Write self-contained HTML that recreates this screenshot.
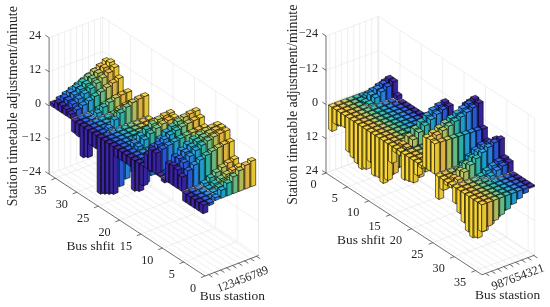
<!DOCTYPE html>
<html><head><meta charset="utf-8"><title>Station timetable adjustment</title>
<style>html,body{margin:0;padding:0;background:#fff;}svg{display:block;}</style></head>
<body>
<svg width="550" height="307" viewBox="0 0 550 307">
<rect width="550" height="307" fill="#fff"/>
<g fill="none">
<line x1="208.69" y1="274.63" x2="52.68" y2="172.72" stroke="#E4E4E4" stroke-width="0.6"/>
<line x1="52.68" y1="172.72" x2="52.68" y2="36.30" stroke="#E4E4E4" stroke-width="0.6"/>
<line x1="214.66" y1="272.34" x2="58.66" y2="170.43" stroke="#E4E4E4" stroke-width="0.6"/>
<line x1="58.66" y1="170.43" x2="58.66" y2="34.01" stroke="#E4E4E4" stroke-width="0.6"/>
<line x1="220.63" y1="270.05" x2="64.63" y2="168.14" stroke="#E4E4E4" stroke-width="0.6"/>
<line x1="64.63" y1="168.14" x2="64.63" y2="31.72" stroke="#E4E4E4" stroke-width="0.6"/>
<line x1="226.61" y1="267.76" x2="70.61" y2="165.85" stroke="#E4E4E4" stroke-width="0.6"/>
<line x1="70.61" y1="165.85" x2="70.61" y2="29.43" stroke="#E4E4E4" stroke-width="0.6"/>
<line x1="232.58" y1="265.47" x2="76.58" y2="163.56" stroke="#E4E4E4" stroke-width="0.6"/>
<line x1="76.58" y1="163.56" x2="76.58" y2="27.14" stroke="#E4E4E4" stroke-width="0.6"/>
<line x1="238.56" y1="263.18" x2="82.56" y2="161.27" stroke="#E4E4E4" stroke-width="0.6"/>
<line x1="82.56" y1="161.27" x2="82.56" y2="24.85" stroke="#E4E4E4" stroke-width="0.6"/>
<line x1="244.53" y1="260.89" x2="88.53" y2="158.98" stroke="#E4E4E4" stroke-width="0.6"/>
<line x1="88.53" y1="158.98" x2="88.53" y2="22.56" stroke="#E4E4E4" stroke-width="0.6"/>
<line x1="250.51" y1="258.60" x2="94.51" y2="156.69" stroke="#E4E4E4" stroke-width="0.6"/>
<line x1="94.51" y1="156.69" x2="94.51" y2="20.27" stroke="#E4E4E4" stroke-width="0.6"/>
<line x1="256.49" y1="256.31" x2="100.48" y2="154.40" stroke="#E4E4E4" stroke-width="0.6"/>
<line x1="100.48" y1="154.40" x2="100.48" y2="17.98" stroke="#E4E4E4" stroke-width="0.6"/>
<line x1="205.10" y1="276.00" x2="258.58" y2="255.50" stroke="#E4E4E4" stroke-width="0.6"/>
<line x1="258.58" y1="255.50" x2="258.58" y2="119.09" stroke="#E4E4E4" stroke-width="0.6"/>
<line x1="183.73" y1="262.04" x2="237.21" y2="241.54" stroke="#E4E4E4" stroke-width="0.6"/>
<line x1="237.21" y1="241.54" x2="237.21" y2="105.13" stroke="#E4E4E4" stroke-width="0.6"/>
<line x1="162.36" y1="248.08" x2="215.84" y2="227.58" stroke="#E4E4E4" stroke-width="0.6"/>
<line x1="215.84" y1="227.58" x2="215.84" y2="91.17" stroke="#E4E4E4" stroke-width="0.6"/>
<line x1="140.99" y1="234.12" x2="194.47" y2="213.62" stroke="#E4E4E4" stroke-width="0.6"/>
<line x1="194.47" y1="213.62" x2="194.47" y2="77.21" stroke="#E4E4E4" stroke-width="0.6"/>
<line x1="119.62" y1="220.16" x2="173.10" y2="199.66" stroke="#E4E4E4" stroke-width="0.6"/>
<line x1="173.10" y1="199.66" x2="173.10" y2="63.25" stroke="#E4E4E4" stroke-width="0.6"/>
<line x1="98.25" y1="206.20" x2="151.73" y2="185.70" stroke="#E4E4E4" stroke-width="0.6"/>
<line x1="151.73" y1="185.70" x2="151.73" y2="49.29" stroke="#E4E4E4" stroke-width="0.6"/>
<line x1="76.88" y1="192.24" x2="130.36" y2="171.74" stroke="#E4E4E4" stroke-width="0.6"/>
<line x1="130.36" y1="171.74" x2="130.36" y2="35.33" stroke="#E4E4E4" stroke-width="0.6"/>
<line x1="55.51" y1="178.28" x2="108.99" y2="157.78" stroke="#E4E4E4" stroke-width="0.6"/>
<line x1="108.99" y1="157.78" x2="108.99" y2="21.37" stroke="#E4E4E4" stroke-width="0.6"/>
<line x1="49.10" y1="174.09" x2="102.58" y2="153.60" stroke="#E4E4E4" stroke-width="0.6"/>
<line x1="258.58" y1="255.50" x2="102.58" y2="153.60" stroke="#E4E4E4" stroke-width="0.6"/>
<line x1="49.10" y1="139.99" x2="102.58" y2="119.49" stroke="#E4E4E4" stroke-width="0.6"/>
<line x1="258.58" y1="221.40" x2="102.58" y2="119.49" stroke="#E4E4E4" stroke-width="0.6"/>
<line x1="49.10" y1="105.88" x2="102.58" y2="85.39" stroke="#E4E4E4" stroke-width="0.6"/>
<line x1="258.58" y1="187.30" x2="102.58" y2="85.39" stroke="#E4E4E4" stroke-width="0.6"/>
<line x1="49.10" y1="71.78" x2="102.58" y2="51.28" stroke="#E4E4E4" stroke-width="0.6"/>
<line x1="258.58" y1="153.19" x2="102.58" y2="51.28" stroke="#E4E4E4" stroke-width="0.6"/>
<line x1="49.10" y1="37.68" x2="102.58" y2="17.18" stroke="#E4E4E4" stroke-width="0.6"/>
<line x1="258.58" y1="119.09" x2="102.58" y2="17.18" stroke="#E4E4E4" stroke-width="0.6"/>
<line x1="102.58" y1="153.60" x2="102.58" y2="17.18" stroke="#E4E4E4" stroke-width="0.6"/>
<line x1="258.58" y1="255.50" x2="258.58" y2="119.09" stroke="#E4E4E4" stroke-width="0.6"/>
</g>
<g stroke="#000" stroke-width="0.7" stroke-opacity="0.8" stroke-linejoin="round">
<polygon points="97.9,64.2 101.3,66.5 101.3,89.2 97.9,87.0" fill="#FAD636"/>
<polygon points="101.3,66.5 106.1,64.6 106.1,87.4 101.3,89.2" fill="#E6C532"/>
<polygon points="101.3,66.5 106.1,64.6 102.7,62.4 97.9,64.2" fill="#FAD842"/>
<polygon points="91.9,68.9 95.3,71.2 95.3,91.5 91.9,89.3" fill="#EEC04A"/>
<polygon points="95.3,71.2 100.1,69.3 100.1,89.7 95.3,91.5" fill="#DBB144"/>
<polygon points="95.3,71.2 100.1,69.3 96.7,67.1 91.9,68.9" fill="#EFC455"/>
<polygon points="85.9,73.6 89.3,75.9 89.3,93.8 85.9,91.5" fill="#BECA60"/>
<polygon points="89.3,75.9 94.1,74.0 94.1,91.9 89.3,93.8" fill="#AFBA58"/>
<polygon points="89.3,75.9 94.1,74.0 90.7,71.8 85.9,73.6" fill="#C2CD6A"/>
<polygon points="80.0,78.3 83.4,80.6 83.4,96.1 80.0,93.8" fill="#72C88A"/>
<polygon points="83.4,80.6 88.2,78.7 88.2,94.2 83.4,96.1" fill="#69B87F"/>
<polygon points="83.4,80.6 88.2,78.7 84.7,76.5 80.0,78.3" fill="#7ACB91"/>
<polygon points="74.0,83.1 77.4,85.3 77.4,98.4 74.0,96.1" fill="#30BDB0"/>
<polygon points="77.4,85.3 82.2,83.5 82.2,96.5 77.4,98.4" fill="#2CAEA2"/>
<polygon points="77.4,85.3 82.2,83.5 78.8,81.2 74.0,83.1" fill="#3CC1B5"/>
<polygon points="68.0,87.8 71.4,90.0 71.4,100.7 68.0,98.4" fill="#22A8DC"/>
<polygon points="71.4,90.0 76.2,88.2 76.2,98.8 71.4,100.7" fill="#1F9BCA"/>
<polygon points="71.4,90.0 76.2,88.2 72.8,85.9 68.0,87.8" fill="#2FADDE"/>
<polygon points="62.0,92.5 65.4,94.7 65.4,102.9 62.0,100.7" fill="#2A8AEA"/>
<polygon points="65.4,94.7 70.2,92.9 70.2,101.1 65.4,102.9" fill="#277FD7"/>
<polygon points="65.4,94.7 70.2,92.9 66.8,90.6 62.0,92.5" fill="#3791EB"/>
<polygon points="56.1,97.2 59.5,99.4 59.5,105.2 56.1,103.0" fill="#2A5CE6"/>
<polygon points="59.5,99.4 64.3,97.6 64.3,103.4 59.5,105.2" fill="#2755D4"/>
<polygon points="59.5,99.4 64.3,97.6 60.8,95.3 56.1,97.2" fill="#3766E8"/>
<polygon points="50.1,101.9 53.5,104.1 53.5,107.5 50.1,105.3" fill="#3B25A6"/>
<polygon points="53.5,104.1 58.3,102.3 58.3,105.7 53.5,107.5" fill="#362299"/>
<polygon points="53.5,104.1 58.3,102.3 54.9,100.0 50.1,101.9" fill="#4732AB"/>
<polygon points="102.2,59.3 105.6,61.6 105.6,92.0 102.2,89.8" fill="#FAD636"/>
<polygon points="105.6,61.6 110.4,59.8 110.4,90.2 105.6,92.0" fill="#E6C532"/>
<polygon points="105.6,61.6 110.4,59.8 106.9,57.5 102.2,59.3" fill="#FAD842"/>
<polygon points="96.2,64.6 99.6,66.8 99.6,94.3 96.2,92.0" fill="#EEC04A"/>
<polygon points="99.6,66.8 104.4,65.0 104.4,92.5 99.6,94.3" fill="#DBB144"/>
<polygon points="99.6,66.8 104.4,65.0 101.0,62.7 96.2,64.6" fill="#EFC455"/>
<polygon points="90.2,69.8 93.6,72.0 93.6,96.6 90.2,94.3" fill="#BECA60"/>
<polygon points="93.6,72.0 98.4,70.2 98.4,94.7 93.6,96.6" fill="#AFBA58"/>
<polygon points="93.6,72.0 98.4,70.2 95.0,67.9 90.2,69.8" fill="#C2CD6A"/>
<polygon points="84.2,75.0 87.6,77.2 87.6,98.9 84.2,96.6" fill="#72C88A"/>
<polygon points="87.6,77.2 92.4,75.4 92.4,97.0 87.6,98.9" fill="#69B87F"/>
<polygon points="87.6,77.2 92.4,75.4 89.0,73.1 84.2,75.0" fill="#7ACB91"/>
<polygon points="78.3,80.2 81.7,82.4 81.7,101.2 78.3,98.9" fill="#30BDB0"/>
<polygon points="81.7,82.4 86.5,80.6 86.5,99.3 81.7,101.2" fill="#2CAEA2"/>
<polygon points="81.7,82.4 86.5,80.6 83.0,78.3 78.3,80.2" fill="#3CC1B5"/>
<polygon points="72.3,85.4 75.7,87.6 75.7,103.4 72.3,101.2" fill="#22A8DC"/>
<polygon points="75.7,87.6 80.5,85.8 80.5,101.6 75.7,103.4" fill="#1F9BCA"/>
<polygon points="75.7,87.6 80.5,85.8 77.1,83.5 72.3,85.4" fill="#2FADDE"/>
<polygon points="66.3,90.6 69.7,92.8 69.7,105.7 66.3,103.5" fill="#2A8AEA"/>
<polygon points="69.7,92.8 74.5,91.0 74.5,103.9 69.7,105.7" fill="#277FD7"/>
<polygon points="69.7,92.8 74.5,91.0 71.1,88.7 66.3,90.6" fill="#3791EB"/>
<polygon points="60.3,95.8 63.7,98.0 63.7,108.0 60.3,105.8" fill="#2A5CE6"/>
<polygon points="63.7,98.0 68.5,96.2 68.5,106.2 63.7,108.0" fill="#2755D4"/>
<polygon points="63.7,98.0 68.5,96.2 65.1,93.9 60.3,95.8" fill="#3766E8"/>
<polygon points="54.4,101.0 57.8,103.2 57.8,110.3 54.4,108.1" fill="#3B25A6"/>
<polygon points="57.8,103.2 62.6,101.4 62.6,108.5 57.8,110.3" fill="#362299"/>
<polygon points="57.8,103.2 62.6,101.4 59.1,99.1 54.4,101.0" fill="#4732AB"/>
<polygon points="106.4,60.4 109.8,62.7 109.8,94.8 106.4,92.6" fill="#FAD636"/>
<polygon points="109.8,62.7 114.6,60.8 114.6,93.0 109.8,94.8" fill="#E6C532"/>
<polygon points="109.8,62.7 114.6,60.8 111.2,58.6 106.4,60.4" fill="#FAD842"/>
<polygon points="100.5,65.9 103.9,68.1 103.9,97.1 100.5,94.8" fill="#EEC04A"/>
<polygon points="103.9,68.1 108.7,66.3 108.7,95.2 103.9,97.1" fill="#DBB144"/>
<polygon points="103.9,68.1 108.7,66.3 105.2,64.0 100.5,65.9" fill="#EFC455"/>
<polygon points="94.5,71.3 97.9,73.5 97.9,99.4 94.5,97.1" fill="#BECA60"/>
<polygon points="97.9,73.5 102.7,71.7 102.7,97.5 97.9,99.4" fill="#AFBA58"/>
<polygon points="97.9,73.5 102.7,71.7 99.3,69.4 94.5,71.3" fill="#C2CD6A"/>
<polygon points="88.5,76.7 91.9,78.9 91.9,101.7 88.5,99.4" fill="#72C88A"/>
<polygon points="91.9,78.9 96.7,77.1 96.7,99.8 91.9,101.7" fill="#69B87F"/>
<polygon points="91.9,78.9 96.7,77.1 93.3,74.9 88.5,76.7" fill="#7ACB91"/>
<polygon points="82.5,82.1 85.9,84.3 85.9,103.9 82.5,101.7" fill="#30BDB0"/>
<polygon points="85.9,84.3 90.7,82.5 90.7,102.1 85.9,103.9" fill="#2CAEA2"/>
<polygon points="85.9,84.3 90.7,82.5 87.3,80.3 82.5,82.1" fill="#3CC1B5"/>
<polygon points="76.6,87.5 80.0,89.8 80.0,106.2 76.6,104.0" fill="#22A8DC"/>
<polygon points="80.0,89.8 84.8,87.9 84.8,104.4 80.0,106.2" fill="#1F9BCA"/>
<polygon points="80.0,89.8 84.8,87.9 81.3,85.7 76.6,87.5" fill="#2FADDE"/>
<polygon points="70.6,92.9 74.0,95.2 74.0,108.5 70.6,106.3" fill="#2A8AEA"/>
<polygon points="74.0,95.2 78.8,93.3 78.8,106.7 74.0,108.5" fill="#277FD7"/>
<polygon points="74.0,95.2 78.8,93.3 75.4,91.1 70.6,92.9" fill="#3791EB"/>
<polygon points="64.6,98.3 68.0,100.6 68.0,110.8 64.6,108.6" fill="#2A5CE6"/>
<polygon points="68.0,100.6 72.8,98.8 72.8,109.0 68.0,110.8" fill="#2755D4"/>
<polygon points="68.0,100.6 72.8,98.8 69.4,96.5 64.6,98.3" fill="#3766E8"/>
<polygon points="58.6,103.8 62.0,106.0 62.0,113.1 58.6,110.9" fill="#3B25A6"/>
<polygon points="62.0,106.0 66.8,104.2 66.8,111.3 62.0,113.1" fill="#362299"/>
<polygon points="62.0,106.0 66.8,104.2 63.4,101.9 58.6,103.8" fill="#4732AB"/>
<polygon points="110.7,65.5 114.1,67.7 114.1,97.6 110.7,95.3" fill="#FAD636"/>
<polygon points="114.1,67.7 118.9,65.9 118.9,95.7 114.1,97.6" fill="#E6C532"/>
<polygon points="114.1,67.7 118.9,65.9 115.5,63.7 110.7,65.5" fill="#FAD842"/>
<polygon points="104.7,70.7 108.1,73.0 108.1,99.9 104.7,97.6" fill="#EEC04A"/>
<polygon points="108.1,73.0 112.9,71.1 112.9,98.0 108.1,99.9" fill="#DBB144"/>
<polygon points="108.1,73.0 112.9,71.1 109.5,68.9 104.7,70.7" fill="#EFC455"/>
<polygon points="98.8,76.0 102.2,78.2 102.2,102.2 98.8,99.9" fill="#BECA60"/>
<polygon points="102.2,78.2 107.0,76.4 107.0,100.3 102.2,102.2" fill="#AFBA58"/>
<polygon points="102.2,78.2 107.0,76.4 103.5,74.1 98.8,76.0" fill="#C2CD6A"/>
<polygon points="92.8,81.2 96.2,83.5 96.2,104.4 92.8,102.2" fill="#72C88A"/>
<polygon points="96.2,83.5 101.0,81.6 101.0,102.6 96.2,104.4" fill="#69B87F"/>
<polygon points="96.2,83.5 101.0,81.6 97.6,79.4 92.8,81.2" fill="#7ACB91"/>
<polygon points="86.8,86.5 90.2,88.7 90.2,106.7 86.8,104.5" fill="#30BDB0"/>
<polygon points="90.2,88.7 95.0,86.9 95.0,104.9 90.2,106.7" fill="#2CAEA2"/>
<polygon points="90.2,88.7 95.0,86.9 91.6,84.6 86.8,86.5" fill="#3CC1B5"/>
<polygon points="80.8,91.7 84.2,93.9 84.2,109.0 80.8,106.8" fill="#22A8DC"/>
<polygon points="84.2,93.9 89.0,92.1 89.0,107.2 84.2,109.0" fill="#1F9BCA"/>
<polygon points="84.2,93.9 89.0,92.1 85.6,89.9 80.8,91.7" fill="#2FADDE"/>
<polygon points="74.9,96.9 78.3,99.2 78.3,111.3 74.9,109.1" fill="#2A8AEA"/>
<polygon points="78.3,99.2 83.1,97.3 83.1,109.5 78.3,111.3" fill="#277FD7"/>
<polygon points="78.3,99.2 83.1,97.3 79.6,95.1 74.9,96.9" fill="#3791EB"/>
<polygon points="68.9,102.2 72.3,104.4 72.3,113.6 68.9,111.4" fill="#2A5CE6"/>
<polygon points="72.3,104.4 77.1,102.6 77.1,111.8 72.3,113.6" fill="#2755D4"/>
<polygon points="72.3,104.4 77.1,102.6 73.7,100.3 68.9,102.2" fill="#3766E8"/>
<polygon points="62.9,107.4 66.3,109.6 66.3,115.9 62.9,113.7" fill="#3B25A6"/>
<polygon points="66.3,109.6 71.1,107.8 71.1,114.1 66.3,115.9" fill="#362299"/>
<polygon points="66.3,109.6 71.1,107.8 67.7,105.6 62.9,107.4" fill="#4732AB"/>
<polygon points="115.0,76.5 118.4,78.8 118.4,100.4 115.0,98.1" fill="#FAD636"/>
<polygon points="118.4,78.8 123.2,76.9 123.2,98.5 118.4,100.4" fill="#E6C532"/>
<polygon points="118.4,78.8 123.2,76.9 119.8,74.7 115.0,76.5" fill="#FAD842"/>
<polygon points="109.0,81.0 112.4,83.2 112.4,102.7 109.0,100.4" fill="#EEC04A"/>
<polygon points="112.4,83.2 117.2,81.4 117.2,100.8 112.4,102.7" fill="#DBB144"/>
<polygon points="112.4,83.2 117.2,81.4 113.8,79.2 109.0,81.0" fill="#EFC455"/>
<polygon points="103.0,85.4 106.4,87.7 106.4,104.9 103.0,102.7" fill="#BECA60"/>
<polygon points="106.4,87.7 111.2,85.9 111.2,103.1 106.4,104.9" fill="#AFBA58"/>
<polygon points="106.4,87.7 111.2,85.9 107.8,83.6 103.0,85.4" fill="#C2CD6A"/>
<polygon points="97.1,89.9 100.5,92.1 100.5,107.2 97.1,105.0" fill="#72C88A"/>
<polygon points="100.5,92.1 105.3,90.3 105.3,105.4 100.5,107.2" fill="#69B87F"/>
<polygon points="100.5,92.1 105.3,90.3 101.8,88.1 97.1,89.9" fill="#7ACB91"/>
<polygon points="91.1,94.4 94.5,96.6 94.5,109.5 91.1,107.3" fill="#30BDB0"/>
<polygon points="94.5,96.6 99.3,94.8 99.3,107.7 94.5,109.5" fill="#2CAEA2"/>
<polygon points="94.5,96.6 99.3,94.8 95.9,92.5 91.1,94.4" fill="#3CC1B5"/>
<polygon points="85.1,98.8 88.5,101.1 88.5,111.8 85.1,109.6" fill="#22A8DC"/>
<polygon points="88.5,101.1 93.3,99.2 93.3,110.0 88.5,111.8" fill="#1F9BCA"/>
<polygon points="88.5,101.1 93.3,99.2 89.9,97.0 85.1,98.8" fill="#2FADDE"/>
<polygon points="79.1,103.3 82.5,105.5 82.5,114.1 79.1,111.9" fill="#2A8AEA"/>
<polygon points="82.5,105.5 87.3,103.7 87.3,112.3 82.5,114.1" fill="#277FD7"/>
<polygon points="82.5,105.5 87.3,103.7 83.9,101.4 79.1,103.3" fill="#3791EB"/>
<polygon points="73.2,107.7 76.6,110.0 76.6,116.4 73.2,114.2" fill="#2A5CE6"/>
<polygon points="76.6,110.0 81.4,108.1 81.4,114.6 76.6,116.4" fill="#2755D4"/>
<polygon points="76.6,110.0 81.4,108.1 77.9,105.9 73.2,107.7" fill="#3766E8"/>
<polygon points="67.2,112.2 70.6,114.4 70.6,118.7 67.2,116.5" fill="#3B25A6"/>
<polygon points="70.6,114.4 75.4,112.6 75.4,116.9 70.6,118.7" fill="#362299"/>
<polygon points="70.6,114.4 75.4,112.6 72.0,110.4 67.2,112.2" fill="#4732AB"/>
<polygon points="119.3,93.5 122.7,95.8 122.7,103.2 119.3,100.9" fill="#FAD636"/>
<polygon points="122.7,95.8 127.4,93.9 127.4,101.3 122.7,103.2" fill="#E6C532"/>
<polygon points="122.7,95.8 127.4,93.9 124.0,91.7 119.3,93.5" fill="#FAD842"/>
<polygon points="113.3,96.0 116.7,98.3 116.7,105.5 113.3,103.2" fill="#EEC04A"/>
<polygon points="116.7,98.3 121.5,96.4 121.5,103.6 116.7,105.5" fill="#DBB144"/>
<polygon points="116.7,98.3 121.5,96.4 118.1,94.2 113.3,96.0" fill="#EFC455"/>
<polygon points="107.3,99.0 110.7,101.3 110.7,107.7 107.3,105.5" fill="#BECA60"/>
<polygon points="110.7,101.3 115.5,99.4 115.5,105.9 110.7,107.7" fill="#AFBA58"/>
<polygon points="110.7,101.3 115.5,99.4 112.1,97.2 107.3,99.0" fill="#C2CD6A"/>
<polygon points="101.3,102.6 104.7,104.9 104.7,110.0 101.3,107.8" fill="#72C88A"/>
<polygon points="104.7,104.9 109.5,103.0 109.5,108.2 104.7,110.0" fill="#69B87F"/>
<polygon points="104.7,104.9 109.5,103.0 106.1,100.8 101.3,102.6" fill="#7ACB91"/>
<polygon points="95.4,106.9 98.8,109.1 98.8,112.3 95.4,110.1" fill="#30BDB0"/>
<polygon points="98.8,109.1 103.5,107.3 103.5,110.5 98.8,112.3" fill="#2CAEA2"/>
<polygon points="98.8,109.1 103.5,107.3 100.1,105.1 95.4,106.9" fill="#3CC1B5"/>
<polygon points="89.4,111.9 92.8,114.1 92.8,114.6 89.4,112.4" fill="#22A8DC"/>
<polygon points="92.8,114.1 97.6,112.3 97.6,112.8 92.8,114.6" fill="#1F9BCA"/>
<polygon points="92.8,114.1 97.6,112.3 94.2,110.0 89.4,111.9" fill="#2FADDE"/>
<polygon points="83.4,114.7 86.8,116.9 86.8,119.8 83.4,117.5" fill="#2A8AEA"/>
<polygon points="86.8,116.9 91.6,115.1 91.6,117.9 86.8,119.8" fill="#277FD7"/>
<polygon points="86.8,116.9 91.6,115.1 88.2,112.8 83.4,114.7" fill="#3791EB"/>
<polygon points="77.4,117.0 80.8,119.2 80.8,126.2 77.4,124.0" fill="#2A5CE6"/>
<polygon points="80.8,119.2 85.6,117.4 85.6,124.4 80.8,126.2" fill="#2755D4"/>
<polygon points="80.8,119.2 85.6,117.4 82.2,115.1 77.4,117.0" fill="#3766E8"/>
<polygon points="71.5,119.2 74.9,121.5 74.9,133.4 71.5,131.2" fill="#3B25A6"/>
<polygon points="74.9,121.5 79.6,119.6 79.6,131.6 74.9,133.4" fill="#362299"/>
<polygon points="74.9,121.5 79.6,119.6 76.2,117.4 71.5,119.2" fill="#4732AB"/>
<polygon points="123.5,90.4 126.9,92.6 126.9,106.0 123.5,103.7" fill="#FAD636"/>
<polygon points="126.9,92.6 131.7,90.8 131.7,104.1 126.9,106.0" fill="#E6C532"/>
<polygon points="126.9,92.6 131.7,90.8 128.3,88.5 123.5,90.4" fill="#FAD842"/>
<polygon points="117.5,92.9 121.0,95.2 121.0,108.2 117.5,106.0" fill="#EEC04A"/>
<polygon points="121.0,95.2 125.7,93.3 125.7,106.4 121.0,108.2" fill="#DBB144"/>
<polygon points="121.0,95.2 125.7,93.3 122.3,91.1 117.5,92.9" fill="#EFC455"/>
<polygon points="111.6,96.2 115.0,98.4 115.0,110.5 111.6,108.3" fill="#BECA60"/>
<polygon points="115.0,98.4 119.8,96.6 119.8,108.7 115.0,110.5" fill="#AFBA58"/>
<polygon points="115.0,98.4 119.8,96.6 116.4,94.3 111.6,96.2" fill="#C2CD6A"/>
<polygon points="105.6,100.3 109.0,102.5 109.0,112.8 105.6,110.6" fill="#72C88A"/>
<polygon points="109.0,102.5 113.8,100.7 113.8,111.0 109.0,112.8" fill="#69B87F"/>
<polygon points="109.0,102.5 113.8,100.7 110.4,98.4 105.6,100.3" fill="#7ACB91"/>
<polygon points="99.6,105.2 103.0,107.4 103.0,115.1 99.6,112.9" fill="#30BDB0"/>
<polygon points="103.0,107.4 107.8,105.6 107.8,113.3 103.0,115.1" fill="#2CAEA2"/>
<polygon points="103.0,107.4 107.8,105.6 104.4,103.4 99.6,105.2" fill="#3CC1B5"/>
<polygon points="93.6,111.1 97.1,113.3 97.1,117.4 93.6,115.2" fill="#22A8DC"/>
<polygon points="97.1,113.3 101.8,111.5 101.8,115.6 97.1,117.4" fill="#1F9BCA"/>
<polygon points="97.1,113.3 101.8,111.5 98.4,109.3 93.6,111.1" fill="#2FADDE"/>
<polygon points="87.7,117.5 91.1,119.7 91.1,120.2 87.7,118.0" fill="#2A8AEA"/>
<polygon points="91.1,119.7 95.9,117.9 95.9,118.4 91.1,120.2" fill="#277FD7"/>
<polygon points="91.1,119.7 95.9,117.9 92.5,115.6 87.7,117.5" fill="#3791EB"/>
<polygon points="81.7,119.7 85.1,122.0 85.1,128.1 81.7,125.9" fill="#2A5CE6"/>
<polygon points="85.1,122.0 89.9,120.1 89.9,126.3 85.1,128.1" fill="#2755D4"/>
<polygon points="85.1,122.0 89.9,120.1 86.5,117.9 81.7,119.7" fill="#3766E8"/>
<polygon points="75.7,122.0 79.1,124.3 79.1,137.1 75.7,134.8" fill="#3B25A6"/>
<polygon points="79.1,124.3 83.9,122.4 83.9,135.2 79.1,137.1" fill="#362299"/>
<polygon points="79.1,124.3 83.9,122.4 80.5,120.2 75.7,122.0" fill="#4732AB"/>
<polygon points="127.8,100.8 131.2,103.1 131.2,108.7 127.8,106.5" fill="#FAD636"/>
<polygon points="131.2,103.1 136.0,101.2 136.0,106.9 131.2,108.7" fill="#E6C532"/>
<polygon points="131.2,103.1 136.0,101.2 132.6,99.0 127.8,100.8" fill="#FAD842"/>
<polygon points="121.8,103.5 125.2,105.7 125.2,111.0 121.8,108.8" fill="#EEC04A"/>
<polygon points="125.2,105.7 130.0,103.9 130.0,109.2 125.2,111.0" fill="#DBB144"/>
<polygon points="125.2,105.7 130.0,103.9 126.6,101.7 121.8,103.5" fill="#EFC455"/>
<polygon points="115.8,107.1 119.3,109.4 119.3,113.3 115.8,111.1" fill="#BECA60"/>
<polygon points="119.3,109.4 124.0,107.5 124.0,111.5 119.3,113.3" fill="#AFBA58"/>
<polygon points="119.3,109.4 124.0,107.5 120.6,105.3 115.8,107.1" fill="#C2CD6A"/>
<polygon points="109.9,111.9 113.3,114.1 113.3,115.6 109.9,113.4" fill="#72C88A"/>
<polygon points="113.3,114.1 118.1,112.3 118.1,113.8 113.3,115.6" fill="#69B87F"/>
<polygon points="113.3,114.1 118.1,112.3 114.7,110.1 109.9,111.9" fill="#7ACB91"/>
<polygon points="103.9,115.7 107.3,117.9 107.3,120.1 103.9,117.9" fill="#30BDB0"/>
<polygon points="107.3,117.9 112.1,116.1 112.1,118.3 107.3,120.1" fill="#2CAEA2"/>
<polygon points="107.3,117.9 112.1,116.1 108.7,113.8 103.9,115.7" fill="#3CC1B5"/>
<polygon points="97.9,118.0 101.3,120.2 101.3,127.4 97.9,125.2" fill="#22A8DC"/>
<polygon points="101.3,120.2 106.1,118.4 106.1,125.6 101.3,127.4" fill="#1F9BCA"/>
<polygon points="101.3,120.2 106.1,118.4 102.7,116.1 97.9,118.0" fill="#2FADDE"/>
<polygon points="91.9,120.3 95.4,122.5 95.4,136.1 91.9,133.9" fill="#2A8AEA"/>
<polygon points="95.4,122.5 100.1,120.7 100.1,134.3 95.4,136.1" fill="#277FD7"/>
<polygon points="95.4,122.5 100.1,120.7 96.7,118.4 91.9,120.3" fill="#3791EB"/>
<polygon points="86.0,122.5 89.4,124.8 89.4,146.2 86.0,144.0" fill="#2A5CE6"/>
<polygon points="89.4,124.8 94.2,122.9 94.2,144.4 89.4,146.2" fill="#2755D4"/>
<polygon points="89.4,124.8 94.2,122.9 90.8,120.7 86.0,122.5" fill="#3766E8"/>
<polygon points="80.0,124.8 83.4,127.1 83.4,157.8 80.0,155.5" fill="#3B25A6"/>
<polygon points="83.4,127.1 88.2,125.2 88.2,155.9 83.4,157.8" fill="#362299"/>
<polygon points="83.4,127.1 88.2,125.2 84.8,123.0 80.0,124.8" fill="#4732AB"/>
<polygon points="132.1,100.5 135.5,102.7 135.5,111.5 132.1,109.3" fill="#FAD636"/>
<polygon points="135.5,102.7 140.3,100.9 140.3,109.7 135.5,111.5" fill="#E6C532"/>
<polygon points="135.5,102.7 140.3,100.9 136.9,98.7 132.1,100.5" fill="#FAD842"/>
<polygon points="126.1,103.2 129.5,105.4 129.5,113.8 126.1,111.6" fill="#EEC04A"/>
<polygon points="129.5,105.4 134.3,103.6 134.3,112.0 129.5,113.8" fill="#DBB144"/>
<polygon points="129.5,105.4 134.3,103.6 130.9,101.3 126.1,103.2" fill="#EFC455"/>
<polygon points="120.1,106.8 123.5,109.0 123.5,116.1 120.1,113.9" fill="#BECA60"/>
<polygon points="123.5,109.0 128.3,107.2 128.3,114.3 123.5,116.1" fill="#AFBA58"/>
<polygon points="123.5,109.0 128.3,107.2 124.9,105.0 120.1,106.8" fill="#C2CD6A"/>
<polygon points="114.1,111.6 117.6,113.8 117.6,118.4 114.1,116.2" fill="#72C88A"/>
<polygon points="117.6,113.8 122.3,112.0 122.3,116.6 117.6,118.4" fill="#69B87F"/>
<polygon points="117.6,113.8 122.3,112.0 118.9,109.8 114.1,111.6" fill="#7ACB91"/>
<polygon points="108.2,117.6 111.6,119.9 111.6,120.7 108.2,118.5" fill="#30BDB0"/>
<polygon points="111.6,119.9 116.4,118.0 116.4,118.9 111.6,120.7" fill="#2CAEA2"/>
<polygon points="111.6,119.9 116.4,118.0 113.0,115.8 108.2,117.6" fill="#3CC1B5"/>
<polygon points="102.2,120.8 105.6,123.0 105.6,127.2 102.2,125.0" fill="#22A8DC"/>
<polygon points="105.6,123.0 110.4,121.2 110.4,125.4 105.6,127.2" fill="#1F9BCA"/>
<polygon points="105.6,123.0 110.4,121.2 107.0,118.9 102.2,120.8" fill="#2FADDE"/>
<polygon points="96.2,123.0 99.6,125.3 99.6,135.9 96.2,133.7" fill="#2A8AEA"/>
<polygon points="99.6,125.3 104.4,123.4 104.4,134.1 99.6,135.9" fill="#277FD7"/>
<polygon points="99.6,125.3 104.4,123.4 101.0,121.2 96.2,123.0" fill="#3791EB"/>
<polygon points="90.2,125.3 93.7,127.6 93.7,146.1 90.2,143.9" fill="#2A5CE6"/>
<polygon points="93.7,127.6 98.4,125.7 98.4,144.3 93.7,146.1" fill="#2755D4"/>
<polygon points="93.7,127.6 98.4,125.7 95.0,123.5 90.2,125.3" fill="#3766E8"/>
<polygon points="84.3,127.6 87.7,129.9 87.7,157.7 84.3,155.5" fill="#3B25A6"/>
<polygon points="87.7,129.9 92.5,128.0 92.5,155.9 87.7,157.7" fill="#362299"/>
<polygon points="87.7,129.9 92.5,128.0 89.1,125.8 84.3,127.6" fill="#4732AB"/>
<polygon points="136.3,106.4 139.8,108.6 139.8,114.3 136.3,112.1" fill="#FAD636"/>
<polygon points="139.8,108.6 144.5,106.8 144.5,112.5 139.8,114.3" fill="#E6C532"/>
<polygon points="139.8,108.6 144.5,106.8 141.1,104.6 136.3,106.4" fill="#FAD842"/>
<polygon points="130.4,108.9 133.8,111.1 133.8,116.6 130.4,114.4" fill="#EEC04A"/>
<polygon points="133.8,111.1 138.6,109.3 138.6,114.8 133.8,116.6" fill="#DBB144"/>
<polygon points="133.8,111.1 138.6,109.3 135.2,107.1 130.4,108.9" fill="#EFC455"/>
<polygon points="124.4,111.9 127.8,114.1 127.8,118.9 124.4,116.7" fill="#BECA60"/>
<polygon points="127.8,114.1 132.6,112.3 132.6,117.1 127.8,118.9" fill="#AFBA58"/>
<polygon points="127.8,114.1 132.6,112.3 129.2,110.1 124.4,111.9" fill="#C2CD6A"/>
<polygon points="118.4,115.5 121.8,117.7 121.8,121.2 118.4,119.0" fill="#72C88A"/>
<polygon points="121.8,117.7 126.6,115.9 126.6,119.4 121.8,121.2" fill="#69B87F"/>
<polygon points="121.8,117.7 126.6,115.9 123.2,113.6 118.4,115.5" fill="#7ACB91"/>
<polygon points="112.4,119.7 115.9,121.9 115.9,123.5 112.4,121.3" fill="#30BDB0"/>
<polygon points="115.9,121.9 120.6,120.1 120.6,121.7 115.9,123.5" fill="#2CAEA2"/>
<polygon points="115.9,121.9 120.6,120.1 117.2,117.9 112.4,119.7" fill="#3CC1B5"/>
<polygon points="106.5,123.5 109.9,125.8 109.9,126.9 106.5,124.6" fill="#22A8DC"/>
<polygon points="109.9,125.8 114.7,123.9 114.7,125.0 109.9,126.9" fill="#1F9BCA"/>
<polygon points="109.9,125.8 114.7,123.9 111.3,121.7 106.5,123.5" fill="#2FADDE"/>
<polygon points="100.5,125.8 103.9,128.1 103.9,132.5 100.5,130.3" fill="#2A8AEA"/>
<polygon points="103.9,128.1 108.7,126.2 108.7,130.7 103.9,132.5" fill="#277FD7"/>
<polygon points="103.9,128.1 108.7,126.2 105.3,124.0 100.5,125.8" fill="#3791EB"/>
<polygon points="94.5,128.1 97.9,130.4 97.9,138.9 94.5,136.6" fill="#2A5CE6"/>
<polygon points="97.9,130.4 102.7,128.5 102.7,137.0 97.9,138.9" fill="#2755D4"/>
<polygon points="97.9,130.4 102.7,128.5 99.3,126.3 94.5,128.1" fill="#3766E8"/>
<polygon points="88.5,130.4 92.0,132.6 92.0,146.0 88.5,143.8" fill="#3B25A6"/>
<polygon points="92.0,132.6 96.7,130.8 96.7,144.2 92.0,146.0" fill="#362299"/>
<polygon points="92.0,132.6 96.7,130.8 93.3,128.6 88.5,130.4" fill="#4732AB"/>
<polygon points="140.6,94.4 144.0,96.7 144.0,117.1 140.6,114.9" fill="#FAD636"/>
<polygon points="144.0,96.7 148.8,94.8 148.8,115.3 144.0,117.1" fill="#E6C532"/>
<polygon points="144.0,96.7 148.8,94.8 145.4,92.6 140.6,94.4" fill="#FAD842"/>
<polygon points="134.6,97.1 138.1,99.3 138.1,119.4 134.6,117.2" fill="#EEC04A"/>
<polygon points="138.1,99.3 142.8,97.5 142.8,117.6 138.1,119.4" fill="#DBB144"/>
<polygon points="138.1,99.3 142.8,97.5 139.4,95.2 134.6,97.1" fill="#EFC455"/>
<polygon points="128.7,100.6 132.1,102.8 132.1,121.7 128.7,119.5" fill="#BECA60"/>
<polygon points="132.1,102.8 136.9,101.0 136.9,119.9 132.1,121.7" fill="#AFBA58"/>
<polygon points="132.1,102.8 136.9,101.0 133.5,98.8 128.7,100.6" fill="#C2CD6A"/>
<polygon points="122.7,105.2 126.1,107.4 126.1,124.0 122.7,121.8" fill="#72C88A"/>
<polygon points="126.1,107.4 130.9,105.6 130.9,122.2 126.1,124.0" fill="#69B87F"/>
<polygon points="126.1,107.4 130.9,105.6 127.5,103.4 122.7,105.2" fill="#7ACB91"/>
<polygon points="116.7,110.9 120.1,113.2 120.1,126.3 116.7,124.0" fill="#30BDB0"/>
<polygon points="120.1,113.2 124.9,111.3 124.9,124.4 120.1,126.3" fill="#2CAEA2"/>
<polygon points="120.1,113.2 124.9,111.3 121.5,109.1 116.7,110.9" fill="#3CC1B5"/>
<polygon points="110.7,117.9 114.2,120.1 114.2,128.6 110.7,126.3" fill="#22A8DC"/>
<polygon points="114.2,120.1 118.9,118.3 118.9,126.7 114.2,128.6" fill="#1F9BCA"/>
<polygon points="114.2,120.1 118.9,118.3 115.5,116.1 110.7,117.9" fill="#2FADDE"/>
<polygon points="104.8,126.1 108.2,128.4 108.2,130.9 104.8,128.6" fill="#2A8AEA"/>
<polygon points="108.2,128.4 113.0,126.5 113.0,129.0 108.2,130.9" fill="#277FD7"/>
<polygon points="108.2,128.4 113.0,126.5 109.6,124.3 104.8,126.1" fill="#3791EB"/>
<polygon points="98.8,130.9 102.2,133.2 102.2,137.9 98.8,135.7" fill="#2A5CE6"/>
<polygon points="102.2,133.2 107.0,131.3 107.0,136.1 102.2,137.9" fill="#2755D4"/>
<polygon points="102.2,133.2 107.0,131.3 103.6,129.1 98.8,130.9" fill="#3766E8"/>
<polygon points="92.8,133.2 96.2,135.4 96.2,148.8 92.8,146.6" fill="#3B25A6"/>
<polygon points="96.2,135.4 101.0,133.6 101.0,147.0 96.2,148.8" fill="#362299"/>
<polygon points="96.2,135.4 101.0,133.6 97.6,131.4 92.8,133.2" fill="#4732AB"/>
<polygon points="144.9,117.7 148.3,119.9 148.3,125.6 144.9,123.4" fill="#FAD636"/>
<polygon points="148.3,119.9 153.1,118.1 153.1,123.8 148.3,125.6" fill="#E6C532"/>
<polygon points="148.3,119.9 153.1,118.1 149.7,115.8 144.9,117.7" fill="#FAD842"/>
<polygon points="138.9,120.0 142.3,122.2 142.3,134.2 138.9,131.9" fill="#EEC04A"/>
<polygon points="142.3,122.2 147.1,120.4 147.1,132.3 142.3,134.2" fill="#DBB144"/>
<polygon points="142.3,122.2 147.1,120.4 143.7,118.1 138.9,120.0" fill="#EFC455"/>
<polygon points="132.9,122.3 136.4,124.5 136.4,142.8 132.9,140.5" fill="#BECA60"/>
<polygon points="136.4,124.5 141.1,122.7 141.1,140.9 136.4,142.8" fill="#AFBA58"/>
<polygon points="136.4,124.5 141.1,122.7 137.7,120.4 132.9,122.3" fill="#C2CD6A"/>
<polygon points="127.0,124.5 130.4,126.8 130.4,151.3 127.0,149.1" fill="#72C88A"/>
<polygon points="130.4,126.8 135.2,125.0 135.2,149.5 130.4,151.3" fill="#69B87F"/>
<polygon points="130.4,126.8 135.2,125.0 131.7,122.7 127.0,124.5" fill="#7ACB91"/>
<polygon points="121.0,126.8 124.4,129.1 124.4,159.9 121.0,157.7" fill="#30BDB0"/>
<polygon points="124.4,129.1 129.2,127.2 129.2,158.1 124.4,159.9" fill="#2CAEA2"/>
<polygon points="124.4,129.1 129.2,127.2 125.8,125.0 121.0,126.8" fill="#3CC1B5"/>
<polygon points="115.0,129.1 118.4,131.4 118.4,168.5 115.0,166.3" fill="#22A8DC"/>
<polygon points="118.4,131.4 123.2,129.5 123.2,166.7 118.4,168.5" fill="#1F9BCA"/>
<polygon points="118.4,131.4 123.2,129.5 119.8,127.3 115.0,129.1" fill="#2FADDE"/>
<polygon points="109.0,131.4 112.5,133.7 112.5,177.1 109.0,174.8" fill="#2A8AEA"/>
<polygon points="112.5,133.7 117.2,131.8 117.2,175.2 112.5,177.1" fill="#277FD7"/>
<polygon points="112.5,133.7 117.2,131.8 113.8,129.6 109.0,131.4" fill="#3791EB"/>
<polygon points="103.1,133.7 106.5,135.9 106.5,185.6 103.1,183.4" fill="#2A5CE6"/>
<polygon points="106.5,135.9 111.3,134.1 111.3,183.8 106.5,185.6" fill="#2755D4"/>
<polygon points="106.5,135.9 111.3,134.1 107.8,131.9 103.1,133.7" fill="#3766E8"/>
<polygon points="97.1,136.0 100.5,138.2 100.5,194.2 97.1,192.0" fill="#3B25A6"/>
<polygon points="100.5,138.2 105.3,136.4 105.3,192.4 100.5,194.2" fill="#362299"/>
<polygon points="100.5,138.2 105.3,136.4 101.9,134.2 97.1,136.0" fill="#4732AB"/>
<polygon points="149.2,120.5 152.6,122.7 152.6,128.4 149.2,126.2" fill="#FAD636"/>
<polygon points="152.6,122.7 157.4,120.9 157.4,126.6 152.6,128.4" fill="#E6C532"/>
<polygon points="152.6,122.7 157.4,120.9 153.9,118.6 149.2,120.5" fill="#FAD842"/>
<polygon points="143.2,122.8 146.6,125.0 146.6,136.6 143.2,134.4" fill="#EEC04A"/>
<polygon points="146.6,125.0 151.4,123.2 151.4,134.8 146.6,136.6" fill="#DBB144"/>
<polygon points="146.6,125.0 151.4,123.2 148.0,120.9 143.2,122.8" fill="#EFC455"/>
<polygon points="137.2,125.1 140.6,127.3 140.6,144.8 137.2,142.6" fill="#BECA60"/>
<polygon points="140.6,127.3 145.4,125.5 145.4,143.0 140.6,144.8" fill="#AFBA58"/>
<polygon points="140.6,127.3 145.4,125.5 142.0,123.2 137.2,125.1" fill="#C2CD6A"/>
<polygon points="131.2,127.3 134.7,129.6 134.7,153.1 131.2,150.8" fill="#72C88A"/>
<polygon points="134.7,129.6 139.4,127.7 139.4,151.2 134.7,153.1" fill="#69B87F"/>
<polygon points="134.7,129.6 139.4,127.7 136.0,125.5 131.2,127.3" fill="#7ACB91"/>
<polygon points="125.3,129.6 128.7,131.9 128.7,161.3 125.3,159.0" fill="#30BDB0"/>
<polygon points="128.7,131.9 133.5,130.0 133.5,159.4 128.7,161.3" fill="#2CAEA2"/>
<polygon points="128.7,131.9 133.5,130.0 130.0,127.8 125.3,129.6" fill="#3CC1B5"/>
<polygon points="119.3,131.9 122.7,134.2 122.7,169.5 119.3,167.3" fill="#22A8DC"/>
<polygon points="122.7,134.2 127.5,132.3 127.5,167.7 122.7,169.5" fill="#1F9BCA"/>
<polygon points="122.7,134.2 127.5,132.3 124.1,130.1 119.3,131.9" fill="#2FADDE"/>
<polygon points="113.3,134.2 116.7,136.4 116.7,177.7 113.3,175.5" fill="#2A8AEA"/>
<polygon points="116.7,136.4 121.5,134.6 121.5,175.9 116.7,177.7" fill="#277FD7"/>
<polygon points="116.7,136.4 121.5,134.6 118.1,132.4 113.3,134.2" fill="#3791EB"/>
<polygon points="107.3,136.5 110.8,138.7 110.8,185.9 107.3,183.7" fill="#2A5CE6"/>
<polygon points="110.8,138.7 115.5,136.9 115.5,184.1 110.8,185.9" fill="#2755D4"/>
<polygon points="110.8,138.7 115.5,136.9 112.1,134.7 107.3,136.5" fill="#3766E8"/>
<polygon points="101.4,138.8 104.8,141.0 104.8,194.2 101.4,191.9" fill="#3B25A6"/>
<polygon points="104.8,141.0 109.6,139.2 109.6,192.3 104.8,194.2" fill="#362299"/>
<polygon points="104.8,141.0 109.6,139.2 106.1,137.0 101.4,138.8" fill="#4732AB"/>
<polygon points="153.4,123.3 156.9,125.5 156.9,131.2 153.4,128.9" fill="#FAD636"/>
<polygon points="156.9,125.5 161.6,123.7 161.6,129.3 156.9,131.2" fill="#E6C532"/>
<polygon points="156.9,125.5 161.6,123.7 158.2,121.4 153.4,123.3" fill="#FAD842"/>
<polygon points="147.5,125.6 150.9,127.8 150.9,139.1 147.5,136.8" fill="#EEC04A"/>
<polygon points="150.9,127.8 155.7,126.0 155.7,137.3 150.9,139.1" fill="#DBB144"/>
<polygon points="150.9,127.8 155.7,126.0 152.2,123.7 147.5,125.6" fill="#EFC455"/>
<polygon points="141.5,127.8 144.9,130.1 144.9,147.0 141.5,144.8" fill="#BECA60"/>
<polygon points="144.9,130.1 149.7,128.2 149.7,145.2 144.9,147.0" fill="#AFBA58"/>
<polygon points="144.9,130.1 149.7,128.2 146.3,126.0 141.5,127.8" fill="#C2CD6A"/>
<polygon points="135.5,130.1 138.9,132.4 138.9,154.9 135.5,152.7" fill="#72C88A"/>
<polygon points="138.9,132.4 143.7,130.5 143.7,153.1 138.9,154.9" fill="#69B87F"/>
<polygon points="138.9,132.4 143.7,130.5 140.3,128.3 135.5,130.1" fill="#7ACB91"/>
<polygon points="129.5,132.4 133.0,134.7 133.0,162.8 129.5,160.6" fill="#30BDB0"/>
<polygon points="133.0,134.7 137.7,132.8 137.7,161.0 133.0,162.8" fill="#2CAEA2"/>
<polygon points="133.0,134.7 137.7,132.8 134.3,130.6 129.5,132.4" fill="#3CC1B5"/>
<polygon points="123.6,134.7 127.0,136.9 127.0,170.7 123.6,168.5" fill="#22A8DC"/>
<polygon points="127.0,136.9 131.8,135.1 131.8,168.9 127.0,170.7" fill="#1F9BCA"/>
<polygon points="127.0,136.9 131.8,135.1 128.3,132.9 123.6,134.7" fill="#2FADDE"/>
<polygon points="117.6,137.0 121.0,139.2 121.0,178.6 117.6,176.4" fill="#2A8AEA"/>
<polygon points="121.0,139.2 125.8,137.4 125.8,176.8 121.0,178.6" fill="#277FD7"/>
<polygon points="121.0,139.2 125.8,137.4 122.4,135.2 117.6,137.0" fill="#3791EB"/>
<polygon points="111.6,139.3 115.0,141.5 115.0,186.5 111.6,184.3" fill="#2A5CE6"/>
<polygon points="115.0,141.5 119.8,139.7 119.8,184.7 115.0,186.5" fill="#2755D4"/>
<polygon points="115.0,141.5 119.8,139.7 116.4,137.5 111.6,139.3" fill="#3766E8"/>
<polygon points="105.6,141.6 109.1,143.8 109.1,194.4 105.6,192.2" fill="#3B25A6"/>
<polygon points="109.1,143.8 113.8,142.0 113.8,192.6 109.1,194.4" fill="#362299"/>
<polygon points="109.1,143.8 113.8,142.0 110.4,139.8 105.6,141.6" fill="#4732AB"/>
<polygon points="157.7,126.1 161.1,128.3 161.1,134.0 157.7,131.7" fill="#FAD636"/>
<polygon points="161.1,128.3 165.9,126.5 165.9,132.1 161.1,134.0" fill="#E6C532"/>
<polygon points="161.1,128.3 165.9,126.5 162.5,124.2 157.7,126.1" fill="#FAD842"/>
<polygon points="151.7,128.3 155.2,130.6 155.2,141.5 151.7,139.3" fill="#EEC04A"/>
<polygon points="155.2,130.6 159.9,128.7 159.9,139.7 155.2,141.5" fill="#DBB144"/>
<polygon points="155.2,130.6 159.9,128.7 156.5,126.5 151.7,128.3" fill="#EFC455"/>
<polygon points="145.8,130.6 149.2,132.9 149.2,149.1 145.8,146.8" fill="#BECA60"/>
<polygon points="149.2,132.9 154.0,131.0 154.0,147.2 149.2,149.1" fill="#AFBA58"/>
<polygon points="149.2,132.9 154.0,131.0 150.5,128.8 145.8,130.6" fill="#C2CD6A"/>
<polygon points="139.8,132.9 143.2,135.2 143.2,156.6 139.8,154.4" fill="#72C88A"/>
<polygon points="143.2,135.2 148.0,133.3 148.0,154.8 143.2,156.6" fill="#69B87F"/>
<polygon points="143.2,135.2 148.0,133.3 144.6,131.1 139.8,132.9" fill="#7ACB91"/>
<polygon points="133.8,135.2 137.2,137.4 137.2,164.2 133.8,161.9" fill="#30BDB0"/>
<polygon points="137.2,137.4 142.0,135.6 142.0,162.3 137.2,164.2" fill="#2CAEA2"/>
<polygon points="137.2,137.4 142.0,135.6 138.6,133.4 133.8,135.2" fill="#3CC1B5"/>
<polygon points="127.8,137.5 131.3,139.7 131.3,171.7 127.8,169.5" fill="#22A8DC"/>
<polygon points="131.3,139.7 136.0,137.9 136.0,169.9 131.3,171.7" fill="#1F9BCA"/>
<polygon points="131.3,139.7 136.0,137.9 132.6,135.7 127.8,137.5" fill="#2FADDE"/>
<polygon points="121.9,139.8 125.3,142.0 125.3,179.3 121.9,177.0" fill="#2A8AEA"/>
<polygon points="125.3,142.0 130.1,140.2 130.1,177.4 125.3,179.3" fill="#277FD7"/>
<polygon points="125.3,142.0 130.1,140.2 126.6,138.0 121.9,139.8" fill="#3791EB"/>
<polygon points="115.9,142.1 119.3,144.3 119.3,186.8 115.9,184.6" fill="#2A5CE6"/>
<polygon points="119.3,144.3 124.1,142.5 124.1,185.0 119.3,186.8" fill="#2755D4"/>
<polygon points="119.3,144.3 124.1,142.5 120.7,140.3 115.9,142.1" fill="#3766E8"/>
<polygon points="109.9,144.4 113.3,146.6 113.3,194.4 109.9,192.1" fill="#3B25A6"/>
<polygon points="113.3,146.6 118.1,144.8 118.1,192.5 113.3,194.4" fill="#362299"/>
<polygon points="113.3,146.6 118.1,144.8 114.7,142.5 109.9,144.4" fill="#4732AB"/>
<polygon points="162.0,117.5 165.4,119.7 165.4,131.1 162.0,128.8" fill="#FAD636"/>
<polygon points="165.4,119.7 170.2,117.9 170.2,129.2 165.4,131.1" fill="#E6C532"/>
<polygon points="165.4,119.7 170.2,117.9 166.8,115.6 162.0,117.5" fill="#FAD842"/>
<polygon points="156.0,120.1 159.4,122.3 159.4,133.4 156.0,131.1" fill="#EEC04A"/>
<polygon points="159.4,122.3 164.2,120.5 164.2,131.5 159.4,133.4" fill="#DBB144"/>
<polygon points="159.4,122.3 164.2,120.5 160.8,118.2 156.0,120.1" fill="#EFC455"/>
<polygon points="150.0,123.3 153.5,125.5 153.5,135.7 150.0,133.4" fill="#BECA60"/>
<polygon points="153.5,125.5 158.2,123.7 158.2,133.8 153.5,135.7" fill="#AFBA58"/>
<polygon points="153.5,125.5 158.2,123.7 154.8,121.5 150.0,123.3" fill="#C2CD6A"/>
<polygon points="144.1,127.1 147.5,129.4 147.5,138.0 144.1,135.7" fill="#72C88A"/>
<polygon points="147.5,129.4 152.3,127.5 152.3,136.1 147.5,138.0" fill="#69B87F"/>
<polygon points="147.5,129.4 152.3,127.5 148.8,125.3 144.1,127.1" fill="#7ACB91"/>
<polygon points="138.1,131.6 141.5,133.8 141.5,140.2 138.1,138.0" fill="#30BDB0"/>
<polygon points="141.5,133.8 146.3,132.0 146.3,138.4 141.5,140.2" fill="#2CAEA2"/>
<polygon points="141.5,133.8 146.3,132.0 142.9,129.8 138.1,131.6" fill="#3CC1B5"/>
<polygon points="132.1,136.7 135.5,138.9 135.5,142.5 132.1,140.3" fill="#22A8DC"/>
<polygon points="135.5,138.9 140.3,137.1 140.3,140.7 135.5,142.5" fill="#1F9BCA"/>
<polygon points="135.5,138.9 140.3,137.1 136.9,134.9 132.1,136.7" fill="#2FADDE"/>
<polygon points="126.1,142.4 129.6,144.6 129.6,144.8 126.1,142.6" fill="#2A8AEA"/>
<polygon points="129.6,144.6 134.3,142.8 134.3,143.0 129.6,144.8" fill="#277FD7"/>
<polygon points="129.6,144.6 134.3,142.8 130.9,140.6 126.1,142.4" fill="#3791EB"/>
<polygon points="120.2,144.9 123.6,147.1 123.6,151.0 120.2,148.7" fill="#2A5CE6"/>
<polygon points="123.6,147.1 128.4,145.3 128.4,149.1 123.6,151.0" fill="#2755D4"/>
<polygon points="123.6,147.1 128.4,145.3 124.9,143.0 120.2,144.9" fill="#3766E8"/>
<polygon points="114.2,147.2 117.6,149.4 117.6,157.9 114.2,155.7" fill="#3B25A6"/>
<polygon points="117.6,149.4 122.4,147.6 122.4,156.1 117.6,157.9" fill="#362299"/>
<polygon points="117.6,149.4 122.4,147.6 119.0,145.3 114.2,147.2" fill="#4732AB"/>
<polygon points="166.3,111.2 169.7,113.4 169.7,133.9 166.3,131.6" fill="#FAD636"/>
<polygon points="169.7,113.4 174.5,111.6 174.5,132.0 169.7,133.9" fill="#E6C532"/>
<polygon points="169.7,113.4 174.5,111.6 171.0,109.3 166.3,111.2" fill="#FAD842"/>
<polygon points="160.3,113.9 163.7,116.2 163.7,136.2 160.3,133.9" fill="#EEC04A"/>
<polygon points="163.7,116.2 168.5,114.3 168.5,134.3 163.7,136.2" fill="#DBB144"/>
<polygon points="163.7,116.2 168.5,114.3 165.1,112.1 160.3,113.9" fill="#EFC455"/>
<polygon points="154.3,117.6 157.7,119.8 157.7,138.5 154.3,136.2" fill="#BECA60"/>
<polygon points="157.7,119.8 162.5,118.0 162.5,136.6 157.7,138.5" fill="#AFBA58"/>
<polygon points="157.7,119.8 162.5,118.0 159.1,115.7 154.3,117.6" fill="#C2CD6A"/>
<polygon points="148.3,122.1 151.8,124.4 151.8,140.7 148.3,138.5" fill="#72C88A"/>
<polygon points="151.8,124.4 156.5,122.5 156.5,138.9 151.8,140.7" fill="#69B87F"/>
<polygon points="151.8,124.4 156.5,122.5 153.1,120.3 148.3,122.1" fill="#7ACB91"/>
<polygon points="142.4,127.6 145.8,129.8 145.8,143.0 142.4,140.8" fill="#30BDB0"/>
<polygon points="145.8,129.8 150.6,128.0 150.6,141.2 145.8,143.0" fill="#2CAEA2"/>
<polygon points="145.8,129.8 150.6,128.0 147.1,125.8 142.4,127.6" fill="#3CC1B5"/>
<polygon points="136.4,133.9 139.8,136.2 139.8,145.3 136.4,143.1" fill="#22A8DC"/>
<polygon points="139.8,136.2 144.6,134.4 144.6,143.5 139.8,145.3" fill="#1F9BCA"/>
<polygon points="139.8,136.2 144.6,134.4 141.2,132.1 136.4,133.9" fill="#2FADDE"/>
<polygon points="130.4,141.2 133.8,143.5 133.8,147.6 130.4,145.4" fill="#2A8AEA"/>
<polygon points="133.8,143.5 138.6,141.6 138.6,145.8 133.8,147.6" fill="#277FD7"/>
<polygon points="133.8,143.5 138.6,141.6 135.2,139.4 130.4,141.2" fill="#3791EB"/>
<polygon points="124.4,147.7 127.9,149.9 127.9,151.6 124.4,149.4" fill="#2A5CE6"/>
<polygon points="127.9,149.9 132.6,148.1 132.6,149.8 127.9,151.6" fill="#2755D4"/>
<polygon points="127.9,149.9 132.6,148.1 129.2,145.8 124.4,147.7" fill="#3766E8"/>
<polygon points="118.5,150.0 121.9,152.2 121.9,160.7 118.5,158.5" fill="#3B25A6"/>
<polygon points="121.9,152.2 126.7,150.4 126.7,158.9 121.9,160.7" fill="#362299"/>
<polygon points="121.9,152.2 126.7,150.4 123.2,148.1 118.5,150.0" fill="#4732AB"/>
<polygon points="170.5,115.7 174.0,117.9 174.0,136.7 170.5,134.4" fill="#FAD636"/>
<polygon points="174.0,117.9 178.7,116.1 178.7,134.8 174.0,136.7" fill="#E6C532"/>
<polygon points="174.0,117.9 178.7,116.1 175.3,113.8 170.5,115.7" fill="#FAD842"/>
<polygon points="164.6,118.4 168.0,120.6 168.0,139.0 164.6,136.7" fill="#EEC04A"/>
<polygon points="168.0,120.6 172.8,118.8 172.8,137.1 168.0,139.0" fill="#DBB144"/>
<polygon points="168.0,120.6 172.8,118.8 169.3,116.6 164.6,118.4" fill="#EFC455"/>
<polygon points="158.6,122.0 162.0,124.2 162.0,141.2 158.6,139.0" fill="#BECA60"/>
<polygon points="162.0,124.2 166.8,122.4 166.8,139.4 162.0,141.2" fill="#AFBA58"/>
<polygon points="162.0,124.2 166.8,122.4 163.4,120.1 158.6,122.0" fill="#C2CD6A"/>
<polygon points="152.6,126.4 156.0,128.6 156.0,143.5 152.6,141.3" fill="#72C88A"/>
<polygon points="156.0,128.6 160.8,126.8 160.8,141.7 156.0,143.5" fill="#69B87F"/>
<polygon points="156.0,128.6 160.8,126.8 157.4,124.5 152.6,126.4" fill="#7ACB91"/>
<polygon points="146.6,131.7 150.1,133.9 150.1,145.8 146.6,143.6" fill="#30BDB0"/>
<polygon points="150.1,133.9 154.8,132.1 154.8,144.0 150.1,145.8" fill="#2CAEA2"/>
<polygon points="150.1,133.9 154.8,132.1 151.4,129.8 146.6,131.7" fill="#3CC1B5"/>
<polygon points="140.7,137.8 144.1,140.0 144.1,148.1 140.7,145.9" fill="#22A8DC"/>
<polygon points="144.1,140.0 148.9,138.2 148.9,146.3 144.1,148.1" fill="#1F9BCA"/>
<polygon points="144.1,140.0 148.9,138.2 145.4,135.9 140.7,137.8" fill="#2FADDE"/>
<polygon points="134.7,144.8 138.1,147.0 138.1,150.4 134.7,148.2" fill="#2A8AEA"/>
<polygon points="138.1,147.0 142.9,145.2 142.9,148.6 138.1,150.4" fill="#277FD7"/>
<polygon points="138.1,147.0 142.9,145.2 139.5,142.9 134.7,144.8" fill="#3791EB"/>
<polygon points="128.7,150.5 132.1,152.7 132.1,154.8 128.7,152.6" fill="#2A5CE6"/>
<polygon points="132.1,152.7 136.9,150.9 136.9,153.0 132.1,154.8" fill="#2755D4"/>
<polygon points="132.1,152.7 136.9,150.9 133.5,148.6 128.7,150.5" fill="#3766E8"/>
<polygon points="122.7,152.8 126.2,155.0 126.2,163.5 122.7,161.3" fill="#3B25A6"/>
<polygon points="126.2,155.0 130.9,153.2 130.9,161.7 126.2,163.5" fill="#362299"/>
<polygon points="126.2,155.0 130.9,153.2 127.5,150.9 122.7,152.8" fill="#4732AB"/>
<polygon points="174.8,131.5 178.2,133.8 178.2,139.5 174.8,137.2" fill="#FAD636"/>
<polygon points="178.2,133.8 183.0,131.9 183.0,137.6 178.2,139.5" fill="#E6C532"/>
<polygon points="178.2,133.8 183.0,131.9 179.6,129.7 174.8,131.5" fill="#FAD842"/>
<polygon points="168.8,134.6 172.3,136.8 172.3,141.7 168.8,139.5" fill="#EEC04A"/>
<polygon points="172.3,136.8 177.0,135.0 177.0,139.9 172.3,141.7" fill="#DBB144"/>
<polygon points="172.3,136.8 177.0,135.0 173.6,132.8 168.8,134.6" fill="#EFC455"/>
<polygon points="162.9,138.2 166.3,140.4 166.3,144.0 162.9,141.8" fill="#BECA60"/>
<polygon points="166.3,140.4 171.1,138.6 171.1,142.2 166.3,144.0" fill="#AFBA58"/>
<polygon points="166.3,140.4 171.1,138.6 167.6,136.3 162.9,138.2" fill="#C2CD6A"/>
<polygon points="156.9,142.0 160.3,144.2 160.3,146.3 156.9,144.1" fill="#72C88A"/>
<polygon points="160.3,144.2 165.1,142.4 165.1,144.5 160.3,146.3" fill="#69B87F"/>
<polygon points="160.3,144.2 165.1,142.4 161.7,140.2 156.9,142.0" fill="#7ACB91"/>
<polygon points="150.9,146.1 154.3,148.3 154.3,148.6 150.9,146.4" fill="#30BDB0"/>
<polygon points="154.3,148.3 159.1,146.5 159.1,146.8 154.3,148.6" fill="#2CAEA2"/>
<polygon points="154.3,148.3 159.1,146.5 155.7,144.3 150.9,146.1" fill="#3CC1B5"/>
<polygon points="144.9,148.7 148.4,150.9 148.4,152.6 144.9,150.3" fill="#22A8DC"/>
<polygon points="148.4,150.9 153.1,149.1 153.1,150.7 148.4,152.6" fill="#1F9BCA"/>
<polygon points="148.4,150.9 153.1,149.1 149.7,146.8 144.9,148.7" fill="#2FADDE"/>
<polygon points="139.0,151.0 142.4,153.2 142.4,157.0 139.0,154.8" fill="#2A8AEA"/>
<polygon points="142.4,153.2 147.2,151.4 147.2,155.2 142.4,157.0" fill="#277FD7"/>
<polygon points="142.4,153.2 147.2,151.4 143.7,149.1 139.0,151.0" fill="#3791EB"/>
<polygon points="133.0,153.3 136.4,155.5 136.4,161.6 133.0,159.4" fill="#2A5CE6"/>
<polygon points="136.4,155.5 141.2,153.7 141.2,159.8 136.4,161.6" fill="#2755D4"/>
<polygon points="136.4,155.5 141.2,153.7 137.8,151.4 133.0,153.3" fill="#3766E8"/>
<polygon points="127.0,155.5 130.4,157.8 130.4,166.3 127.0,164.1" fill="#3B25A6"/>
<polygon points="130.4,157.8 135.2,155.9 135.2,164.5 130.4,166.3" fill="#362299"/>
<polygon points="130.4,157.8 135.2,155.9 131.8,153.7 127.0,155.5" fill="#4732AB"/>
<polygon points="179.1,137.2 182.5,139.4 182.5,142.2 179.1,140.0" fill="#FAD636"/>
<polygon points="182.5,139.4 187.3,137.6 187.3,140.4 182.5,142.2" fill="#E6C532"/>
<polygon points="182.5,139.4 187.3,137.6 183.9,135.3 179.1,137.2" fill="#FAD842"/>
<polygon points="173.1,141.3 176.5,143.5 176.5,144.5 173.1,142.3" fill="#EEC04A"/>
<polygon points="176.5,143.5 181.3,141.7 181.3,142.7 176.5,144.5" fill="#DBB144"/>
<polygon points="176.5,143.5 181.3,141.7 177.9,139.5 173.1,141.3" fill="#EFC455"/>
<polygon points="167.1,144.6 170.6,146.8 170.6,148.8 167.1,146.6" fill="#BECA60"/>
<polygon points="170.6,146.8 175.3,145.0 175.3,147.0 170.6,148.8" fill="#AFBA58"/>
<polygon points="170.6,146.8 175.3,145.0 171.9,142.8 167.1,144.6" fill="#C2CD6A"/>
<polygon points="161.2,146.9 164.6,149.1 164.6,154.8 161.2,152.5" fill="#72C88A"/>
<polygon points="164.6,149.1 169.4,147.3 169.4,152.9 164.6,154.8" fill="#69B87F"/>
<polygon points="164.6,149.1 169.4,147.3 165.9,145.1 161.2,146.9" fill="#7ACB91"/>
<polygon points="155.2,149.2 158.6,151.4 158.6,161.3 155.2,159.0" fill="#30BDB0"/>
<polygon points="158.6,151.4 163.4,149.6 163.4,159.4 158.6,161.3" fill="#2CAEA2"/>
<polygon points="158.6,151.4 163.4,149.6 160.0,147.3 155.2,149.2" fill="#3CC1B5"/>
<polygon points="149.2,151.5 152.6,153.7 152.6,168.2 149.2,166.0" fill="#22A8DC"/>
<polygon points="152.6,153.7 157.4,151.9 157.4,166.4 152.6,168.2" fill="#1F9BCA"/>
<polygon points="152.6,153.7 157.4,151.9 154.0,149.6 149.2,151.5" fill="#2FADDE"/>
<polygon points="143.2,153.8 146.7,156.0 146.7,175.6 143.2,173.3" fill="#2A8AEA"/>
<polygon points="146.7,156.0 151.4,154.2 151.4,173.7 146.7,175.6" fill="#277FD7"/>
<polygon points="146.7,156.0 151.4,154.2 148.0,151.9 143.2,153.8" fill="#3791EB"/>
<polygon points="137.3,156.0 140.7,158.3 140.7,183.3 137.3,181.0" fill="#2A5CE6"/>
<polygon points="140.7,158.3 145.5,156.4 145.5,181.4 140.7,183.3" fill="#2755D4"/>
<polygon points="140.7,158.3 145.5,156.4 142.0,154.2 137.3,156.0" fill="#3766E8"/>
<polygon points="131.3,158.3 134.7,160.6 134.7,191.3 131.3,189.0" fill="#3B25A6"/>
<polygon points="134.7,160.6 139.5,158.7 139.5,189.4 134.7,191.3" fill="#362299"/>
<polygon points="134.7,160.6 139.5,158.7 136.1,156.5 131.3,158.3" fill="#4732AB"/>
<polygon points="183.4,137.1 186.8,139.4 186.8,145.0 183.4,142.8" fill="#FAD636"/>
<polygon points="186.8,139.4 191.6,137.5 191.6,143.2 186.8,145.0" fill="#E6C532"/>
<polygon points="186.8,139.4 191.6,137.5 188.1,135.3 183.4,137.1" fill="#FAD842"/>
<polygon points="177.4,141.3 180.8,143.5 180.8,147.3 177.4,145.1" fill="#EEC04A"/>
<polygon points="180.8,143.5 185.6,141.7 185.6,145.5 180.8,147.3" fill="#DBB144"/>
<polygon points="180.8,143.5 185.6,141.7 182.2,139.4 177.4,141.3" fill="#EFC455"/>
<polygon points="171.4,146.6 174.8,148.8 174.8,149.6 171.4,147.4" fill="#BECA60"/>
<polygon points="174.8,148.8 179.6,147.0 179.6,147.8 174.8,149.6" fill="#AFBA58"/>
<polygon points="174.8,148.8 179.6,147.0 176.2,144.7 171.4,146.6" fill="#C2CD6A"/>
<polygon points="165.4,149.7 168.9,151.9 168.9,154.8 165.4,152.6" fill="#72C88A"/>
<polygon points="168.9,151.9 173.6,150.1 173.6,153.0 168.9,154.8" fill="#69B87F"/>
<polygon points="168.9,151.9 173.6,150.1 170.2,147.8 165.4,149.7" fill="#7ACB91"/>
<polygon points="159.5,152.0 162.9,154.2 162.9,161.3 159.5,159.1" fill="#30BDB0"/>
<polygon points="162.9,154.2 167.7,152.4 167.7,159.5 162.9,161.3" fill="#2CAEA2"/>
<polygon points="162.9,154.2 167.7,152.4 164.2,150.1 159.5,152.0" fill="#3CC1B5"/>
<polygon points="153.5,154.3 156.9,156.5 156.9,168.3 153.5,166.1" fill="#22A8DC"/>
<polygon points="156.9,156.5 161.7,154.7 161.7,166.5 156.9,168.3" fill="#1F9BCA"/>
<polygon points="156.9,156.5 161.7,154.7 158.3,152.4 153.5,154.3" fill="#2FADDE"/>
<polygon points="147.5,156.5 150.9,158.8 150.9,175.7 147.5,173.5" fill="#2A8AEA"/>
<polygon points="150.9,158.8 155.7,156.9 155.7,173.9 150.9,175.7" fill="#277FD7"/>
<polygon points="150.9,158.8 155.7,156.9 152.3,154.7 147.5,156.5" fill="#3791EB"/>
<polygon points="141.5,158.8 145.0,161.1 145.0,183.4 141.5,181.2" fill="#2A5CE6"/>
<polygon points="145.0,161.1 149.7,159.2 149.7,181.6 145.0,183.4" fill="#2755D4"/>
<polygon points="145.0,161.1 149.7,159.2 146.3,157.0 141.5,158.8" fill="#3766E8"/>
<polygon points="135.6,161.1 139.0,163.4 139.0,191.5 135.6,189.3" fill="#3B25A6"/>
<polygon points="139.0,163.4 143.8,161.5 143.8,189.7 139.0,191.5" fill="#362299"/>
<polygon points="139.0,163.4 143.8,161.5 140.3,159.3 135.6,161.1" fill="#4732AB"/>
<polygon points="187.6,112.9 191.1,115.1 191.1,147.8 187.6,145.6" fill="#FAD636"/>
<polygon points="191.1,115.1 195.8,113.3 195.8,146.0 191.1,147.8" fill="#E6C532"/>
<polygon points="191.1,115.1 195.8,113.3 192.4,111.1 187.6,112.9" fill="#FAD842"/>
<polygon points="181.7,116.0 185.1,118.3 185.1,150.1 181.7,147.9" fill="#EEC04A"/>
<polygon points="185.1,118.3 189.9,116.4 189.9,148.3 185.1,150.1" fill="#DBB144"/>
<polygon points="185.1,118.3 189.9,116.4 186.4,114.2 181.7,116.0" fill="#EFC455"/>
<polygon points="175.7,120.8 179.1,123.0 179.1,152.4 175.7,150.2" fill="#BECA60"/>
<polygon points="179.1,123.0 183.9,121.2 183.9,150.6 179.1,152.4" fill="#AFBA58"/>
<polygon points="179.1,123.0 183.9,121.2 180.5,118.9 175.7,120.8" fill="#C2CD6A"/>
<polygon points="169.7,127.2 173.1,129.4 173.1,154.7 169.7,152.5" fill="#72C88A"/>
<polygon points="173.1,129.4 177.9,127.6 177.9,152.9 173.1,154.7" fill="#69B87F"/>
<polygon points="173.1,129.4 177.9,127.6 174.5,125.3 169.7,127.2" fill="#7ACB91"/>
<polygon points="163.7,135.2 167.2,137.5 167.2,157.0 163.7,154.8" fill="#30BDB0"/>
<polygon points="167.2,137.5 171.9,135.6 171.9,155.2 167.2,157.0" fill="#2CAEA2"/>
<polygon points="167.2,137.5 171.9,135.6 168.5,133.4 163.7,135.2" fill="#3CC1B5"/>
<polygon points="157.8,144.9 161.2,147.1 161.2,159.3 157.8,157.0" fill="#22A8DC"/>
<polygon points="161.2,147.1 166.0,145.3 166.0,157.5 161.2,159.3" fill="#1F9BCA"/>
<polygon points="161.2,147.1 166.0,145.3 162.5,143.1 157.8,144.9" fill="#2FADDE"/>
<polygon points="151.8,156.2 155.2,158.5 155.2,161.6 151.8,159.3" fill="#2A8AEA"/>
<polygon points="155.2,158.5 160.0,156.6 160.0,159.7 155.2,161.6" fill="#277FD7"/>
<polygon points="155.2,158.5 160.0,156.6 156.6,154.4 151.8,156.2" fill="#3791EB"/>
<polygon points="145.8,161.6 149.2,163.9 149.2,171.4 145.8,169.2" fill="#2A5CE6"/>
<polygon points="149.2,163.9 154.0,162.0 154.0,169.6 149.2,171.4" fill="#2755D4"/>
<polygon points="149.2,163.9 154.0,162.0 150.6,159.8 145.8,161.6" fill="#3766E8"/>
<polygon points="139.8,163.9 143.3,166.2 143.3,186.0 139.8,183.8" fill="#3B25A6"/>
<polygon points="143.3,166.2 148.0,164.3 148.0,184.2 143.3,186.0" fill="#362299"/>
<polygon points="143.3,166.2 148.0,164.3 144.6,162.1 139.8,163.9" fill="#4732AB"/>
<polygon points="191.9,109.2 195.3,111.4 195.3,150.6 191.9,148.4" fill="#FAD636"/>
<polygon points="195.3,111.4 200.1,109.6 200.1,148.8 195.3,150.6" fill="#E6C532"/>
<polygon points="195.3,111.4 200.1,109.6 196.7,107.3 191.9,109.2" fill="#FAD842"/>
<polygon points="185.9,111.9 189.4,114.1 189.4,152.9 185.9,150.7" fill="#EEC04A"/>
<polygon points="189.4,114.1 194.1,112.3 194.1,151.1 189.4,152.9" fill="#DBB144"/>
<polygon points="189.4,114.1 194.1,112.3 190.7,110.0 185.9,111.9" fill="#EFC455"/>
<polygon points="180.0,115.3 183.4,117.5 183.4,155.2 180.0,153.0" fill="#BECA60"/>
<polygon points="183.4,117.5 188.2,115.7 188.2,153.4 183.4,155.2" fill="#AFBA58"/>
<polygon points="183.4,117.5 188.2,115.7 184.7,113.5 180.0,115.3" fill="#C2CD6A"/>
<polygon points="174.0,119.6 177.4,121.8 177.4,157.5 174.0,155.3" fill="#72C88A"/>
<polygon points="177.4,121.8 182.2,120.0 182.2,155.7 177.4,157.5" fill="#69B87F"/>
<polygon points="177.4,121.8 182.2,120.0 178.8,117.7 174.0,119.6" fill="#7ACB91"/>
<polygon points="168.0,124.6 171.4,126.8 171.4,159.8 168.0,157.6" fill="#30BDB0"/>
<polygon points="171.4,126.8 176.2,125.0 176.2,158.0 171.4,159.8" fill="#2CAEA2"/>
<polygon points="171.4,126.8 176.2,125.0 172.8,122.8 168.0,124.6" fill="#3CC1B5"/>
<polygon points="162.0,130.4 165.5,132.6 165.5,162.1 162.0,159.8" fill="#22A8DC"/>
<polygon points="165.5,132.6 170.2,130.8 170.2,160.2 165.5,162.1" fill="#1F9BCA"/>
<polygon points="165.5,132.6 170.2,130.8 166.8,128.6 162.0,130.4" fill="#2FADDE"/>
<polygon points="156.1,137.0 159.5,139.2 159.5,164.4 156.1,162.1" fill="#2A8AEA"/>
<polygon points="159.5,139.2 164.3,137.4 164.3,162.5 159.5,164.4" fill="#277FD7"/>
<polygon points="159.5,139.2 164.3,137.4 160.8,135.1 156.1,137.0" fill="#3791EB"/>
<polygon points="150.1,144.3 153.5,146.6 153.5,166.7 150.1,164.4" fill="#2A5CE6"/>
<polygon points="153.5,146.6 158.3,144.8 158.3,164.8 153.5,166.7" fill="#2755D4"/>
<polygon points="153.5,146.6 158.3,144.8 154.9,142.5 150.1,144.3" fill="#3766E8"/>
<polygon points="144.1,152.5 147.5,154.7 147.5,168.9 144.1,166.7" fill="#3B25A6"/>
<polygon points="147.5,154.7 152.3,152.9 152.3,167.1 147.5,168.9" fill="#362299"/>
<polygon points="147.5,154.7 152.3,152.9 148.9,150.7 144.1,152.5" fill="#4732AB"/>
<polygon points="196.2,115.9 199.6,118.2 199.6,153.4 196.2,151.2" fill="#FAD636"/>
<polygon points="199.6,118.2 204.4,116.3 204.4,151.6 199.6,153.4" fill="#E6C532"/>
<polygon points="199.6,118.2 204.4,116.3 201.0,114.1 196.2,115.9" fill="#FAD842"/>
<polygon points="190.2,118.4 193.6,120.7 193.6,155.7 190.2,153.5" fill="#EEC04A"/>
<polygon points="193.6,120.7 198.4,118.9 198.4,153.9 193.6,155.7" fill="#DBB144"/>
<polygon points="193.6,120.7 198.4,118.9 195.0,116.6 190.2,118.4" fill="#EFC455"/>
<polygon points="184.2,121.4 187.7,123.6 187.7,158.0 184.2,155.8" fill="#BECA60"/>
<polygon points="187.7,123.6 192.4,121.8 192.4,156.2 187.7,158.0" fill="#AFBA58"/>
<polygon points="187.7,123.6 192.4,121.8 189.0,119.6 184.2,121.4" fill="#C2CD6A"/>
<polygon points="178.3,124.8 181.7,127.0 181.7,160.3 178.3,158.1" fill="#72C88A"/>
<polygon points="181.7,127.0 186.5,125.2 186.5,158.5 181.7,160.3" fill="#69B87F"/>
<polygon points="181.7,127.0 186.5,125.2 183.0,122.9 178.3,124.8" fill="#7ACB91"/>
<polygon points="172.3,128.6 175.7,130.8 175.7,162.6 172.3,160.3" fill="#30BDB0"/>
<polygon points="175.7,130.8 180.5,129.0 180.5,160.7 175.7,162.6" fill="#2CAEA2"/>
<polygon points="175.7,130.8 180.5,129.0 177.1,126.8 172.3,128.6" fill="#3CC1B5"/>
<polygon points="166.3,132.8 169.7,135.1 169.7,164.9 166.3,162.6" fill="#22A8DC"/>
<polygon points="169.7,135.1 174.5,133.2 174.5,163.0 169.7,164.9" fill="#1F9BCA"/>
<polygon points="169.7,135.1 174.5,133.2 171.1,131.0 166.3,132.8" fill="#2FADDE"/>
<polygon points="160.3,137.5 163.8,139.7 163.8,167.2 160.3,164.9" fill="#2A8AEA"/>
<polygon points="163.8,139.7 168.5,137.9 168.5,165.3 163.8,167.2" fill="#277FD7"/>
<polygon points="163.8,139.7 168.5,137.9 165.1,135.7 160.3,137.5" fill="#3791EB"/>
<polygon points="154.4,142.6 157.8,144.9 157.8,169.4 154.4,167.2" fill="#2A5CE6"/>
<polygon points="157.8,144.9 162.6,143.0 162.6,167.6 157.8,169.4" fill="#2755D4"/>
<polygon points="157.8,144.9 162.6,143.0 159.1,140.8 154.4,142.6" fill="#3766E8"/>
<polygon points="148.4,148.2 151.8,150.4 151.8,171.7 148.4,169.5" fill="#3B25A6"/>
<polygon points="151.8,150.4 156.6,148.6 156.6,169.9 151.8,171.7" fill="#362299"/>
<polygon points="151.8,150.4 156.6,148.6 153.2,146.4 148.4,148.2" fill="#4732AB"/>
<polygon points="200.5,125.6 203.9,127.8 203.9,156.2 200.5,154.0" fill="#FAD636"/>
<polygon points="203.9,127.8 208.7,126.0 208.7,154.4 203.9,156.2" fill="#E6C532"/>
<polygon points="203.9,127.8 208.7,126.0 205.2,123.7 200.5,125.6" fill="#FAD842"/>
<polygon points="194.5,128.0 197.9,130.2 197.9,158.5 194.5,156.3" fill="#EEC04A"/>
<polygon points="197.9,130.2 202.7,128.4 202.7,156.7 197.9,158.5" fill="#DBB144"/>
<polygon points="197.9,130.2 202.7,128.4 199.3,126.1 194.5,128.0" fill="#EFC455"/>
<polygon points="188.5,130.6 191.9,132.8 191.9,160.8 188.5,158.6" fill="#BECA60"/>
<polygon points="191.9,132.8 196.7,131.0 196.7,159.0 191.9,160.8" fill="#AFBA58"/>
<polygon points="191.9,132.8 196.7,131.0 193.3,128.7 188.5,130.6" fill="#C2CD6A"/>
<polygon points="182.5,133.4 186.0,135.7 186.0,163.1 182.5,160.8" fill="#72C88A"/>
<polygon points="186.0,135.7 190.7,133.8 190.7,161.2 186.0,163.1" fill="#69B87F"/>
<polygon points="186.0,135.7 190.7,133.8 187.3,131.6 182.5,133.4" fill="#7ACB91"/>
<polygon points="176.6,136.5 180.0,138.7 180.0,165.4 176.6,163.1" fill="#30BDB0"/>
<polygon points="180.0,138.7 184.8,136.9 184.8,163.5 180.0,165.4" fill="#2CAEA2"/>
<polygon points="180.0,138.7 184.8,136.9 181.3,134.7 176.6,136.5" fill="#3CC1B5"/>
<polygon points="170.6,139.8 174.0,142.0 174.0,167.7 170.6,165.4" fill="#22A8DC"/>
<polygon points="174.0,142.0 178.8,140.2 178.8,165.8 174.0,167.7" fill="#1F9BCA"/>
<polygon points="174.0,142.0 178.8,140.2 175.4,137.9 170.6,139.8" fill="#2FADDE"/>
<polygon points="164.6,143.3 168.0,145.5 168.0,169.9 164.6,167.7" fill="#2A8AEA"/>
<polygon points="168.0,145.5 172.8,143.7 172.8,168.1 168.0,169.9" fill="#277FD7"/>
<polygon points="168.0,145.5 172.8,143.7 169.4,141.5 164.6,143.3" fill="#3791EB"/>
<polygon points="158.6,147.0 162.1,149.3 162.1,172.2 158.6,170.0" fill="#2A5CE6"/>
<polygon points="162.1,149.3 166.8,147.4 166.8,170.4 162.1,172.2" fill="#2755D4"/>
<polygon points="162.1,149.3 166.8,147.4 163.4,145.2 158.6,147.0" fill="#3766E8"/>
<polygon points="152.7,151.0 156.1,153.2 156.1,174.5 152.7,172.3" fill="#3B25A6"/>
<polygon points="156.1,153.2 160.9,151.4 160.9,172.7 156.1,174.5" fill="#362299"/>
<polygon points="156.1,153.2 160.9,151.4 157.4,149.1 152.7,151.0" fill="#4732AB"/>
<polygon points="204.7,132.6 208.1,134.8 208.1,159.0 204.7,156.8" fill="#FAD636"/>
<polygon points="208.1,134.8 212.9,133.0 212.9,157.2 208.1,159.0" fill="#E6C532"/>
<polygon points="208.1,134.8 212.9,133.0 209.5,130.8 204.7,132.6" fill="#FAD842"/>
<polygon points="198.8,139.2 202.2,141.4 202.2,161.3 198.8,159.1" fill="#EEC04A"/>
<polygon points="202.2,141.4 207.0,139.6 207.0,159.5 202.2,161.3" fill="#DBB144"/>
<polygon points="202.2,141.4 207.0,139.6 203.5,137.3 198.8,139.2" fill="#EFC455"/>
<polygon points="192.8,147.1 196.2,149.4 196.2,163.6 192.8,161.3" fill="#BECA60"/>
<polygon points="196.2,149.4 201.0,147.5 201.0,161.7 196.2,163.6" fill="#AFBA58"/>
<polygon points="196.2,149.4 201.0,147.5 197.6,145.3 192.8,147.1" fill="#C2CD6A"/>
<polygon points="186.8,153.7 190.2,155.9 190.2,165.9 186.8,163.6" fill="#72C88A"/>
<polygon points="190.2,155.9 195.0,154.1 195.0,164.0 190.2,165.9" fill="#69B87F"/>
<polygon points="190.2,155.9 195.0,154.1 191.6,151.9 186.8,153.7" fill="#7ACB91"/>
<polygon points="180.8,158.8 184.2,161.1 184.2,168.2 180.8,165.9" fill="#30BDB0"/>
<polygon points="184.2,161.1 189.0,159.2 189.0,166.3 184.2,168.2" fill="#2CAEA2"/>
<polygon points="184.2,161.1 189.0,159.2 185.6,157.0 180.8,158.8" fill="#3CC1B5"/>
<polygon points="174.9,162.5 178.3,164.8 178.3,170.4 174.9,168.2" fill="#22A8DC"/>
<polygon points="178.3,164.8 183.1,162.9 183.1,168.6 178.3,170.4" fill="#1F9BCA"/>
<polygon points="178.3,164.8 183.1,162.9 179.6,160.7 174.9,162.5" fill="#2FADDE"/>
<polygon points="168.9,166.2 172.3,168.5 172.3,172.7 168.9,170.5" fill="#2A8AEA"/>
<polygon points="172.3,168.5 177.1,166.6 177.1,170.9 172.3,172.7" fill="#277FD7"/>
<polygon points="172.3,168.5 177.1,166.6 173.7,164.4 168.9,166.2" fill="#3791EB"/>
<polygon points="162.9,170.0 166.3,172.2 166.3,175.0 162.9,172.8" fill="#2A5CE6"/>
<polygon points="166.3,172.2 171.1,170.4 171.1,173.2 166.3,175.0" fill="#2755D4"/>
<polygon points="166.3,172.2 171.1,170.4 167.7,168.1 162.9,170.0" fill="#3766E8"/>
<polygon points="156.9,173.7 160.3,175.9 160.3,177.3 156.9,175.1" fill="#3B25A6"/>
<polygon points="160.3,175.9 165.1,174.1 165.1,175.5 160.3,177.3" fill="#362299"/>
<polygon points="160.3,175.9 165.1,174.1 161.7,171.8 156.9,173.7" fill="#4732AB"/>
<polygon points="209.0,134.0 212.4,136.2 212.4,161.8 209.0,159.6" fill="#FAD636"/>
<polygon points="212.4,136.2 217.2,134.4 217.2,160.0 212.4,161.8" fill="#E6C532"/>
<polygon points="212.4,136.2 217.2,134.4 213.8,132.1 209.0,134.0" fill="#FAD842"/>
<polygon points="203.0,143.4 206.4,145.6 206.4,164.1 203.0,161.8" fill="#EEC04A"/>
<polygon points="206.4,145.6 211.2,143.8 211.2,162.2 206.4,164.1" fill="#DBB144"/>
<polygon points="206.4,145.6 211.2,143.8 207.8,141.5 203.0,143.4" fill="#EFC455"/>
<polygon points="197.1,154.2 200.5,156.4 200.5,166.4 197.1,164.1" fill="#BECA60"/>
<polygon points="200.5,156.4 205.3,154.6 205.3,164.5 200.5,166.4" fill="#AFBA58"/>
<polygon points="200.5,156.4 205.3,154.6 201.8,152.4 197.1,154.2" fill="#C2CD6A"/>
<polygon points="191.1,160.7 194.5,163.0 194.5,168.7 191.1,166.4" fill="#72C88A"/>
<polygon points="194.5,163.0 199.3,161.1 199.3,166.8 194.5,168.7" fill="#69B87F"/>
<polygon points="194.5,163.0 199.3,161.1 195.9,158.9 191.1,160.7" fill="#7ACB91"/>
<polygon points="185.1,164.5 188.5,166.7 188.5,171.0 185.1,168.7" fill="#30BDB0"/>
<polygon points="188.5,166.7 193.3,164.9 193.3,169.1 188.5,171.0" fill="#2CAEA2"/>
<polygon points="188.5,166.7 193.3,164.9 189.9,162.6 185.1,164.5" fill="#3CC1B5"/>
<polygon points="179.1,168.2 182.5,170.4 182.5,173.2 179.1,171.0" fill="#22A8DC"/>
<polygon points="182.5,170.4 187.3,168.6 187.3,171.4 182.5,173.2" fill="#1F9BCA"/>
<polygon points="182.5,170.4 187.3,168.6 183.9,166.3 179.1,168.2" fill="#2FADDE"/>
<polygon points="173.2,171.9 176.6,174.1 176.6,175.5 173.2,173.3" fill="#2A8AEA"/>
<polygon points="176.6,174.1 181.4,172.3 181.4,173.7 176.6,175.5" fill="#277FD7"/>
<polygon points="176.6,174.1 181.4,172.3 177.9,170.0 173.2,171.9" fill="#3791EB"/>
<polygon points="170.6,177.8 175.4,176.0 172.0,173.8 167.2,175.6" fill="#3766E8"/>
<polygon points="161.2,177.9 164.6,180.1 164.6,183.0 161.2,180.7" fill="#3B25A6"/>
<polygon points="164.6,180.1 169.4,178.3 169.4,181.1 164.6,183.0" fill="#362299"/>
<polygon points="164.6,180.1 169.4,178.3 166.0,176.0 161.2,177.9" fill="#4732AB"/>
<polygon points="213.3,123.1 216.7,125.4 216.7,164.6 213.3,162.4" fill="#FAD636"/>
<polygon points="216.7,125.4 221.5,123.5 221.5,162.8 216.7,164.6" fill="#E6C532"/>
<polygon points="216.7,125.4 221.5,123.5 218.1,121.3 213.3,123.1" fill="#FAD842"/>
<polygon points="207.3,125.7 210.7,128.0 210.7,166.9 207.3,164.6" fill="#EEC04A"/>
<polygon points="210.7,128.0 215.5,126.1 215.5,165.0 210.7,166.9" fill="#DBB144"/>
<polygon points="210.7,128.0 215.5,126.1 212.1,123.9 207.3,125.7" fill="#EFC455"/>
<polygon points="201.3,129.0 204.7,131.2 204.7,169.2 201.3,166.9" fill="#BECA60"/>
<polygon points="204.7,131.2 209.5,129.4 209.5,167.3 204.7,169.2" fill="#AFBA58"/>
<polygon points="204.7,131.2 209.5,129.4 206.1,127.2 201.3,129.0" fill="#C2CD6A"/>
<polygon points="195.4,132.9 198.8,135.2 198.8,171.5 195.4,169.2" fill="#72C88A"/>
<polygon points="198.8,135.2 203.6,133.3 203.6,169.6 198.8,171.5" fill="#69B87F"/>
<polygon points="198.8,135.2 203.6,133.3 200.1,131.1 195.4,132.9" fill="#7ACB91"/>
<polygon points="189.4,137.5 192.8,139.7 192.8,173.7 189.4,171.5" fill="#30BDB0"/>
<polygon points="192.8,139.7 197.6,137.9 197.6,171.9 192.8,173.7" fill="#2CAEA2"/>
<polygon points="192.8,139.7 197.6,137.9 194.2,135.6 189.4,137.5" fill="#3CC1B5"/>
<polygon points="183.4,142.7 186.8,144.9 186.8,176.0 183.4,173.8" fill="#22A8DC"/>
<polygon points="186.8,144.9 191.6,143.1 191.6,174.2 186.8,176.0" fill="#1F9BCA"/>
<polygon points="186.8,144.9 191.6,143.1 188.2,140.9 183.4,142.7" fill="#2FADDE"/>
<polygon points="177.4,148.5 180.8,150.8 180.8,178.3 177.4,176.1" fill="#2A8AEA"/>
<polygon points="180.8,150.8 185.6,148.9 185.6,176.5 180.8,178.3" fill="#277FD7"/>
<polygon points="180.8,150.8 185.6,148.9 182.2,146.7 177.4,148.5" fill="#3791EB"/>
<polygon points="171.5,155.0 174.9,157.3 174.9,180.6 171.5,178.4" fill="#2A5CE6"/>
<polygon points="174.9,157.3 179.7,155.4 179.7,178.8 174.9,180.6" fill="#2755D4"/>
<polygon points="174.9,157.3 179.7,155.4 176.2,153.2 171.5,155.0" fill="#3766E8"/>
<polygon points="165.5,162.2 168.9,164.4 168.9,182.9 165.5,180.7" fill="#3B25A6"/>
<polygon points="168.9,164.4 173.7,162.6 173.7,181.1 168.9,182.9" fill="#362299"/>
<polygon points="168.9,164.4 173.7,162.6 170.3,160.4 165.5,162.2" fill="#4732AB"/>
<polygon points="217.6,125.6 221.0,127.9 221.0,167.4 217.6,165.1" fill="#FAD636"/>
<polygon points="221.0,127.9 225.8,126.0 225.8,165.5 221.0,167.4" fill="#E6C532"/>
<polygon points="221.0,127.9 225.8,126.0 222.3,123.8 217.6,125.6" fill="#FAD842"/>
<polygon points="211.6,128.2 215.0,130.5 215.0,169.7 211.6,167.4" fill="#EEC04A"/>
<polygon points="215.0,130.5 219.8,128.6 219.8,167.8 215.0,169.7" fill="#DBB144"/>
<polygon points="215.0,130.5 219.8,128.6 216.4,126.4 211.6,128.2" fill="#EFC455"/>
<polygon points="205.6,131.4 209.0,133.7 209.0,172.0 205.6,169.7" fill="#BECA60"/>
<polygon points="209.0,133.7 213.8,131.8 213.8,170.1 209.0,172.0" fill="#AFBA58"/>
<polygon points="209.0,133.7 213.8,131.8 210.4,129.6 205.6,131.4" fill="#C2CD6A"/>
<polygon points="199.6,135.3 203.0,137.5 203.0,174.2 199.6,172.0" fill="#72C88A"/>
<polygon points="203.0,137.5 207.8,135.7 207.8,172.4 203.0,174.2" fill="#69B87F"/>
<polygon points="203.0,137.5 207.8,135.7 204.4,133.4 199.6,135.3" fill="#7ACB91"/>
<polygon points="193.7,139.7 197.1,141.9 197.1,176.5 193.7,174.3" fill="#30BDB0"/>
<polygon points="197.1,141.9 201.9,140.1 201.9,174.7 197.1,176.5" fill="#2CAEA2"/>
<polygon points="197.1,141.9 201.9,140.1 198.4,137.9 193.7,139.7" fill="#3CC1B5"/>
<polygon points="187.7,144.7 191.1,147.0 191.1,178.8 187.7,176.6" fill="#22A8DC"/>
<polygon points="191.1,147.0 195.9,145.2 195.9,177.0 191.1,178.8" fill="#1F9BCA"/>
<polygon points="191.1,147.0 195.9,145.2 192.5,142.9 187.7,144.7" fill="#2FADDE"/>
<polygon points="181.7,150.4 185.1,152.6 185.1,181.1 181.7,178.9" fill="#2A8AEA"/>
<polygon points="185.1,152.6 189.9,150.8 189.9,179.3 185.1,181.1" fill="#277FD7"/>
<polygon points="185.1,152.6 189.9,150.8 186.5,148.6 181.7,150.4" fill="#3791EB"/>
<polygon points="175.7,156.7 179.1,158.9 179.1,183.4 175.7,181.2" fill="#2A5CE6"/>
<polygon points="179.1,158.9 183.9,157.1 183.9,181.6 179.1,183.4" fill="#2755D4"/>
<polygon points="179.1,158.9 183.9,157.1 180.5,154.9 175.7,156.7" fill="#3766E8"/>
<polygon points="169.8,163.6 173.2,165.8 173.2,185.7 169.8,183.5" fill="#3B25A6"/>
<polygon points="173.2,165.8 178.0,164.0 178.0,183.9 173.2,185.7" fill="#362299"/>
<polygon points="173.2,165.8 178.0,164.0 174.5,161.7 169.8,163.6" fill="#4732AB"/>
<polygon points="221.8,129.0 225.2,131.2 225.2,170.2 221.8,167.9" fill="#FAD636"/>
<polygon points="225.2,131.2 230.0,129.4 230.0,168.3 225.2,170.2" fill="#E6C532"/>
<polygon points="225.2,131.2 230.0,129.4 226.6,127.2 221.8,129.0" fill="#FAD842"/>
<polygon points="215.9,131.6 219.3,133.8 219.3,172.5 215.9,170.2" fill="#EEC04A"/>
<polygon points="219.3,133.8 224.1,132.0 224.1,170.6 219.3,172.5" fill="#DBB144"/>
<polygon points="219.3,133.8 224.1,132.0 220.6,129.8 215.9,131.6" fill="#EFC455"/>
<polygon points="209.9,134.9 213.3,137.1 213.3,174.7 209.9,172.5" fill="#BECA60"/>
<polygon points="213.3,137.1 218.1,135.3 218.1,172.9 213.3,174.7" fill="#AFBA58"/>
<polygon points="213.3,137.1 218.1,135.3 214.7,133.0 209.9,134.9" fill="#C2CD6A"/>
<polygon points="203.9,138.7 207.3,141.0 207.3,177.0 203.9,174.8" fill="#72C88A"/>
<polygon points="207.3,141.0 212.1,139.1 212.1,175.2 207.3,177.0" fill="#69B87F"/>
<polygon points="207.3,141.0 212.1,139.1 208.7,136.9 203.9,138.7" fill="#7ACB91"/>
<polygon points="197.9,143.3 201.3,145.5 201.3,179.3 197.9,177.1" fill="#30BDB0"/>
<polygon points="201.3,145.5 206.1,143.7 206.1,177.5 201.3,179.3" fill="#2CAEA2"/>
<polygon points="201.3,145.5 206.1,143.7 202.7,141.4 197.9,143.3" fill="#3CC1B5"/>
<polygon points="192.0,148.4 195.4,150.7 195.4,181.6 192.0,179.4" fill="#22A8DC"/>
<polygon points="195.4,150.7 200.2,148.8 200.2,179.8 195.4,181.6" fill="#1F9BCA"/>
<polygon points="195.4,150.7 200.2,148.8 196.7,146.6 192.0,148.4" fill="#2FADDE"/>
<polygon points="186.0,154.2 189.4,156.5 189.4,183.9 186.0,181.7" fill="#2A8AEA"/>
<polygon points="189.4,156.5 194.2,154.7 194.2,182.1 189.4,183.9" fill="#277FD7"/>
<polygon points="189.4,156.5 194.2,154.7 190.8,152.4 186.0,154.2" fill="#3791EB"/>
<polygon points="180.0,160.7 183.4,162.9 183.4,186.2 180.0,184.0" fill="#2A5CE6"/>
<polygon points="183.4,162.9 188.2,161.1 188.2,184.4 183.4,186.2" fill="#2755D4"/>
<polygon points="183.4,162.9 188.2,161.1 184.8,158.9 180.0,160.7" fill="#3766E8"/>
<polygon points="174.0,167.8 177.4,170.0 177.4,188.5 174.0,186.3" fill="#3B25A6"/>
<polygon points="177.4,170.0 182.2,168.2 182.2,186.7 177.4,188.5" fill="#362299"/>
<polygon points="177.4,170.0 182.2,168.2 178.8,165.9 174.0,167.8" fill="#4732AB"/>
<polygon points="226.1,140.0 229.5,142.3 229.5,173.0 226.1,170.7" fill="#FAD636"/>
<polygon points="229.5,142.3 234.3,140.4 234.3,171.1 229.5,173.0" fill="#E6C532"/>
<polygon points="229.5,142.3 234.3,140.4 230.9,138.2 226.1,140.0" fill="#FAD842"/>
<polygon points="220.1,142.6 223.5,144.8 223.5,175.3 220.1,173.0" fill="#EEC04A"/>
<polygon points="223.5,144.8 228.3,143.0 228.3,173.4 223.5,175.3" fill="#DBB144"/>
<polygon points="223.5,144.8 228.3,143.0 224.9,140.7 220.1,142.6" fill="#EFC455"/>
<polygon points="214.2,145.6 217.6,147.9 217.6,177.5 214.2,175.3" fill="#BECA60"/>
<polygon points="217.6,147.9 222.3,146.0 222.3,175.7 217.6,177.5" fill="#AFBA58"/>
<polygon points="217.6,147.9 222.3,146.0 218.9,143.8 214.2,145.6" fill="#C2CD6A"/>
<polygon points="208.2,149.2 211.6,151.5 211.6,179.8 208.2,177.6" fill="#72C88A"/>
<polygon points="211.6,151.5 216.4,149.6 216.4,178.0 211.6,179.8" fill="#69B87F"/>
<polygon points="211.6,151.5 216.4,149.6 213.0,147.4 208.2,149.2" fill="#7ACB91"/>
<polygon points="202.2,153.3 205.6,155.5 205.6,182.1 202.2,179.9" fill="#30BDB0"/>
<polygon points="205.6,155.5 210.4,153.7 210.4,180.3 205.6,182.1" fill="#2CAEA2"/>
<polygon points="205.6,155.5 210.4,153.7 207.0,151.5 202.2,153.3" fill="#3CC1B5"/>
<polygon points="196.2,157.9 199.6,160.2 199.6,184.4 196.2,182.2" fill="#22A8DC"/>
<polygon points="199.6,160.2 204.4,158.3 204.4,182.6 199.6,184.4" fill="#1F9BCA"/>
<polygon points="199.6,160.2 204.4,158.3 201.0,156.1 196.2,157.9" fill="#2FADDE"/>
<polygon points="190.3,163.0 193.7,165.3 193.7,186.7 190.3,184.5" fill="#2A8AEA"/>
<polygon points="193.7,165.3 198.4,163.4 198.4,184.9 193.7,186.7" fill="#277FD7"/>
<polygon points="193.7,165.3 198.4,163.4 195.0,161.2 190.3,163.0" fill="#3791EB"/>
<polygon points="184.3,168.7 187.7,170.9 187.7,189.0 184.3,186.8" fill="#2A5CE6"/>
<polygon points="187.7,170.9 192.5,169.1 192.5,187.2 187.7,189.0" fill="#2755D4"/>
<polygon points="187.7,170.9 192.5,169.1 189.1,166.9 184.3,168.7" fill="#3766E8"/>
<polygon points="178.3,174.8 181.7,177.1 181.7,191.3 178.3,189.0" fill="#3B25A6"/>
<polygon points="181.7,177.1 186.5,175.2 186.5,189.4 181.7,191.3" fill="#362299"/>
<polygon points="181.7,177.1 186.5,175.2 183.1,173.0 178.3,174.8" fill="#4732AB"/>
<polygon points="230.4,157.3 233.8,159.6 233.8,175.8 230.4,173.5" fill="#FAD636"/>
<polygon points="233.8,159.6 238.6,157.7 238.6,173.9 233.8,175.8" fill="#E6C532"/>
<polygon points="233.8,159.6 238.6,157.7 235.2,155.5 230.4,157.3" fill="#FAD842"/>
<polygon points="224.4,161.0 227.8,163.2 227.8,178.0 224.4,175.8" fill="#EEC04A"/>
<polygon points="227.8,163.2 232.6,161.4 232.6,176.2 227.8,178.0" fill="#DBB144"/>
<polygon points="227.8,163.2 232.6,161.4 229.2,159.1 224.4,161.0" fill="#EFC455"/>
<polygon points="218.4,165.4 221.8,167.7 221.8,180.3 218.4,178.1" fill="#BECA60"/>
<polygon points="221.8,167.7 226.6,165.9 226.6,178.5 221.8,180.3" fill="#AFBA58"/>
<polygon points="221.8,167.7 226.6,165.9 223.2,163.6 218.4,165.4" fill="#C2CD6A"/>
<polygon points="212.4,170.5 215.9,172.7 215.9,182.6 212.4,180.4" fill="#72C88A"/>
<polygon points="215.9,172.7 220.6,170.9 220.6,180.8 215.9,182.6" fill="#69B87F"/>
<polygon points="215.9,172.7 220.6,170.9 217.2,168.6 212.4,170.5" fill="#7ACB91"/>
<polygon points="206.5,175.8 209.9,178.1 209.9,184.9 206.5,182.7" fill="#30BDB0"/>
<polygon points="209.9,178.1 214.7,176.2 214.7,183.1 209.9,184.9" fill="#2CAEA2"/>
<polygon points="209.9,178.1 214.7,176.2 211.3,174.0 206.5,175.8" fill="#3CC1B5"/>
<polygon points="200.5,181.6 203.9,183.8 203.9,187.2 200.5,185.0" fill="#22A8DC"/>
<polygon points="203.9,183.8 208.7,182.0 208.7,185.4 203.9,187.2" fill="#1F9BCA"/>
<polygon points="203.9,183.8 208.7,182.0 205.3,179.7 200.5,181.6" fill="#2FADDE"/>
<polygon points="194.5,187.3 197.9,189.5 197.9,189.8 194.5,187.6" fill="#2A8AEA"/>
<polygon points="197.9,189.5 202.7,187.7 202.7,188.0 197.9,189.8" fill="#277FD7"/>
<polygon points="197.9,189.5 202.7,187.7 199.3,185.4 194.5,187.3" fill="#3791EB"/>
<polygon points="188.5,189.5 192.0,191.8 192.0,196.1 188.5,193.9" fill="#2A5CE6"/>
<polygon points="192.0,191.8 196.7,190.0 196.7,194.3 192.0,196.1" fill="#2755D4"/>
<polygon points="192.0,191.8 196.7,190.0 193.3,187.7 188.5,189.5" fill="#3766E8"/>
<polygon points="182.6,191.8 186.0,194.1 186.0,202.6 182.6,200.4" fill="#3B25A6"/>
<polygon points="186.0,194.1 190.8,192.2 190.8,200.8 186.0,202.6" fill="#362299"/>
<polygon points="186.0,194.1 190.8,192.2 187.4,190.0 182.6,191.8" fill="#4732AB"/>
<polygon points="234.6,164.9 238.1,167.2 238.1,178.5 234.6,176.3" fill="#FAD636"/>
<polygon points="238.1,167.2 242.8,165.3 242.8,176.7 238.1,178.5" fill="#E6C532"/>
<polygon points="238.1,167.2 242.8,165.3 239.4,163.1 234.6,164.9" fill="#FAD842"/>
<polygon points="228.7,168.3 232.1,170.5 232.1,180.8 228.7,178.6" fill="#EEC04A"/>
<polygon points="232.1,170.5 236.9,168.7 236.9,179.0 232.1,180.8" fill="#DBB144"/>
<polygon points="232.1,170.5 236.9,168.7 233.5,166.5 228.7,168.3" fill="#EFC455"/>
<polygon points="222.7,172.4 226.1,174.6 226.1,183.1 222.7,180.9" fill="#BECA60"/>
<polygon points="226.1,174.6 230.9,172.8 230.9,181.3 226.1,183.1" fill="#AFBA58"/>
<polygon points="226.1,174.6 230.9,172.8 227.5,170.5 222.7,172.4" fill="#C2CD6A"/>
<polygon points="216.7,176.9 220.1,179.1 220.1,185.4 216.7,183.2" fill="#72C88A"/>
<polygon points="220.1,179.1 224.9,177.3 224.9,183.6 220.1,185.4" fill="#69B87F"/>
<polygon points="220.1,179.1 224.9,177.3 221.5,175.0 216.7,176.9" fill="#7ACB91"/>
<polygon points="210.7,181.6 214.2,183.9 214.2,187.7 210.7,185.5" fill="#30BDB0"/>
<polygon points="214.2,183.9 218.9,182.0 218.9,185.9 214.2,187.7" fill="#2CAEA2"/>
<polygon points="214.2,183.9 218.9,182.0 215.5,179.8 210.7,181.6" fill="#3CC1B5"/>
<polygon points="204.8,186.7 208.2,188.9 208.2,190.0 204.8,187.8" fill="#22A8DC"/>
<polygon points="208.2,188.9 213.0,187.1 213.0,188.2 208.2,190.0" fill="#1F9BCA"/>
<polygon points="208.2,188.9 213.0,187.1 209.6,184.9 204.8,186.7" fill="#2FADDE"/>
<polygon points="198.8,190.1 202.2,192.3 202.2,194.2 198.8,192.0" fill="#2A8AEA"/>
<polygon points="202.2,192.3 207.0,190.5 207.0,192.4 202.2,194.2" fill="#277FD7"/>
<polygon points="202.2,192.3 207.0,190.5 203.6,188.2 198.8,190.1" fill="#3791EB"/>
<polygon points="192.8,192.3 196.2,194.6 196.2,199.7 192.8,197.5" fill="#2A5CE6"/>
<polygon points="196.2,194.6 201.0,192.7 201.0,197.9 196.2,199.7" fill="#2755D4"/>
<polygon points="196.2,194.6 201.0,192.7 197.6,190.5 192.8,192.3" fill="#3766E8"/>
<polygon points="186.8,194.6 190.3,196.9 190.3,205.4 186.8,203.2" fill="#3B25A6"/>
<polygon points="190.3,196.9 195.0,195.0 195.0,203.6 190.3,205.4" fill="#362299"/>
<polygon points="190.3,196.9 195.0,195.0 191.6,192.8 186.8,194.6" fill="#4732AB"/>
<polygon points="238.9,169.2 242.3,171.4 242.3,181.3 238.9,179.1" fill="#FAD636"/>
<polygon points="242.3,171.4 247.1,169.6 247.1,179.5 242.3,181.3" fill="#E6C532"/>
<polygon points="242.3,171.4 247.1,169.6 243.7,167.3 238.9,169.2" fill="#FAD842"/>
<polygon points="232.9,172.5 236.4,174.7 236.4,183.6 232.9,181.4" fill="#EEC04A"/>
<polygon points="236.4,174.7 241.1,172.9 241.1,181.8 236.4,183.6" fill="#DBB144"/>
<polygon points="236.4,174.7 241.1,172.9 237.7,170.6 232.9,172.5" fill="#EFC455"/>
<polygon points="227.0,176.4 230.4,178.6 230.4,185.9 227.0,183.7" fill="#BECA60"/>
<polygon points="230.4,178.6 235.2,176.8 235.2,184.1 230.4,185.9" fill="#AFBA58"/>
<polygon points="230.4,178.6 235.2,176.8 231.8,174.6 227.0,176.4" fill="#C2CD6A"/>
<polygon points="221.0,180.7 224.4,182.9 224.4,188.2 221.0,186.0" fill="#72C88A"/>
<polygon points="224.4,182.9 229.2,181.1 229.2,186.4 224.4,188.2" fill="#69B87F"/>
<polygon points="224.4,182.9 229.2,181.1 225.8,178.9 221.0,180.7" fill="#7ACB91"/>
<polygon points="215.0,185.3 218.4,187.5 218.4,190.5 215.0,188.3" fill="#30BDB0"/>
<polygon points="218.4,187.5 223.2,185.7 223.2,188.7 218.4,190.5" fill="#2CAEA2"/>
<polygon points="218.4,187.5 223.2,185.7 219.8,183.5 215.0,185.3" fill="#3CC1B5"/>
<polygon points="209.0,190.2 212.5,192.4 212.5,192.8 209.0,190.6" fill="#22A8DC"/>
<polygon points="212.5,192.4 217.2,190.6 217.2,191.0 212.5,192.8" fill="#1F9BCA"/>
<polygon points="212.5,192.4 217.2,190.6 213.8,188.3 209.0,190.2" fill="#2FADDE"/>
<polygon points="203.1,192.8 206.5,195.1 206.5,197.5 203.1,195.2" fill="#2A8AEA"/>
<polygon points="206.5,195.1 211.3,193.2 211.3,195.6 206.5,197.5" fill="#277FD7"/>
<polygon points="206.5,195.1 211.3,193.2 207.9,191.0 203.1,192.8" fill="#3791EB"/>
<polygon points="197.1,195.1 200.5,197.4 200.5,202.7 197.1,200.5" fill="#2A5CE6"/>
<polygon points="200.5,197.4 205.3,195.5 205.3,200.9 200.5,202.7" fill="#2755D4"/>
<polygon points="200.5,197.4 205.3,195.5 201.9,193.3 197.1,195.1" fill="#3766E8"/>
<polygon points="191.1,197.4 194.5,199.7 194.5,208.2 191.1,205.9" fill="#3B25A6"/>
<polygon points="194.5,199.7 199.3,197.8 199.3,206.3 194.5,208.2" fill="#362299"/>
<polygon points="194.5,199.7 199.3,197.8 195.9,195.6 191.1,197.4" fill="#4732AB"/>
<polygon points="243.2,170.5 246.6,172.8 246.6,184.1 243.2,181.9" fill="#FAD636"/>
<polygon points="246.6,172.8 251.4,170.9 251.4,182.3 246.6,184.1" fill="#E6C532"/>
<polygon points="246.6,172.8 251.4,170.9 248.0,168.7 243.2,170.5" fill="#FAD842"/>
<polygon points="237.2,173.9 240.6,176.1 240.6,186.4 237.2,184.2" fill="#EEC04A"/>
<polygon points="240.6,176.1 245.4,174.3 245.4,184.6 240.6,186.4" fill="#DBB144"/>
<polygon points="240.6,176.1 245.4,174.3 242.0,172.1 237.2,173.9" fill="#EFC455"/>
<polygon points="231.2,178.0 234.7,180.2 234.7,188.7 231.2,186.5" fill="#BECA60"/>
<polygon points="234.7,180.2 239.4,178.4 239.4,186.9 234.7,188.7" fill="#AFBA58"/>
<polygon points="234.7,180.2 239.4,178.4 236.0,176.1 231.2,178.0" fill="#C2CD6A"/>
<polygon points="225.3,182.4 228.7,184.7 228.7,191.0 225.3,188.8" fill="#72C88A"/>
<polygon points="228.7,184.7 233.5,182.8 233.5,189.2 228.7,191.0" fill="#69B87F"/>
<polygon points="228.7,184.7 233.5,182.8 230.1,180.6 225.3,182.4" fill="#7ACB91"/>
<polygon points="219.3,187.2 222.7,189.5 222.7,193.3 219.3,191.1" fill="#30BDB0"/>
<polygon points="222.7,189.5 227.5,187.6 227.5,191.5 222.7,193.3" fill="#2CAEA2"/>
<polygon points="222.7,189.5 227.5,187.6 224.1,185.4 219.3,187.2" fill="#3CC1B5"/>
<polygon points="213.3,192.3 216.7,194.5 216.7,195.6 213.3,193.3" fill="#22A8DC"/>
<polygon points="216.7,194.5 221.5,192.7 221.5,193.7 216.7,195.6" fill="#1F9BCA"/>
<polygon points="216.7,194.5 221.5,192.7 218.1,190.4 213.3,192.3" fill="#2FADDE"/>
<polygon points="207.3,195.6 210.8,197.9 210.8,199.8 207.3,197.6" fill="#2A8AEA"/>
<polygon points="210.8,197.9 215.5,196.0 215.5,198.0 210.8,199.8" fill="#277FD7"/>
<polygon points="210.8,197.9 215.5,196.0 212.1,193.8 207.3,195.6" fill="#3791EB"/>
<polygon points="201.4,197.9 204.8,200.2 204.8,205.3 201.4,203.1" fill="#2A5CE6"/>
<polygon points="204.8,200.2 209.6,198.3 209.6,203.5 204.8,205.3" fill="#2755D4"/>
<polygon points="204.8,200.2 209.6,198.3 206.2,196.1 201.4,197.9" fill="#3766E8"/>
<polygon points="195.4,200.2 198.8,202.4 198.8,211.0 195.4,208.7" fill="#3B25A6"/>
<polygon points="198.8,202.4 203.6,200.6 203.6,209.1 198.8,211.0" fill="#362299"/>
<polygon points="198.8,202.4 203.6,200.6 200.2,198.4 195.4,200.2" fill="#4732AB"/>
<polygon points="247.5,159.1 250.9,161.3 250.9,186.9 247.5,184.7" fill="#FAD636"/>
<polygon points="250.9,161.3 255.7,159.5 255.7,185.1 250.9,186.9" fill="#E6C532"/>
<polygon points="250.9,161.3 255.7,159.5 252.3,157.3 247.5,159.1" fill="#FAD842"/>
<polygon points="241.5,163.3 244.9,165.5 244.9,189.2 241.5,187.0" fill="#EEC04A"/>
<polygon points="244.9,165.5 249.7,163.7 249.7,187.4 244.9,189.2" fill="#DBB144"/>
<polygon points="244.9,165.5 249.7,163.7 246.3,161.4 241.5,163.3" fill="#EFC455"/>
<polygon points="235.5,168.6 238.9,170.8 238.9,191.5 235.5,189.3" fill="#BECA60"/>
<polygon points="238.9,170.8 243.7,169.0 243.7,189.7 238.9,191.5" fill="#AFBA58"/>
<polygon points="238.9,170.8 243.7,169.0 240.3,166.8 235.5,168.6" fill="#C2CD6A"/>
<polygon points="229.5,174.6 233.0,176.9 233.0,193.8 229.5,191.6" fill="#72C88A"/>
<polygon points="233.0,176.9 237.7,175.0 237.7,192.0 233.0,193.8" fill="#69B87F"/>
<polygon points="233.0,176.9 237.7,175.0 234.3,172.8 229.5,174.6" fill="#7ACB91"/>
<polygon points="223.6,181.2 227.0,183.4 227.0,196.1 223.6,193.8" fill="#30BDB0"/>
<polygon points="227.0,183.4 231.8,181.6 231.8,194.2 227.0,196.1" fill="#2CAEA2"/>
<polygon points="227.0,183.4 231.8,181.6 228.4,179.4 223.6,181.2" fill="#3CC1B5"/>
<polygon points="217.6,188.2 221.0,190.5 221.0,198.4 217.6,196.1" fill="#22A8DC"/>
<polygon points="221.0,190.5 225.8,188.6 225.8,196.5 221.0,198.4" fill="#1F9BCA"/>
<polygon points="221.0,190.5 225.8,188.6 222.4,186.4 217.6,188.2" fill="#2FADDE"/>
<polygon points="211.6,195.6 215.0,197.9 215.0,200.7 211.6,198.4" fill="#2A8AEA"/>
<polygon points="215.0,197.9 219.8,196.0 219.8,198.8 215.0,200.7" fill="#277FD7"/>
<polygon points="215.0,197.9 219.8,196.0 216.4,193.8 211.6,195.6" fill="#3791EB"/>
<polygon points="205.6,200.7 209.1,203.0 209.1,205.7 205.6,203.4" fill="#2A5CE6"/>
<polygon points="209.1,203.0 213.8,201.1 213.8,203.8 209.1,205.7" fill="#2755D4"/>
<polygon points="209.1,203.0 213.8,201.1 210.4,198.9 205.6,200.7" fill="#3766E8"/>
<polygon points="199.7,203.0 203.1,205.2 203.1,213.8 199.7,211.5" fill="#3B25A6"/>
<polygon points="203.1,205.2 207.9,203.4 207.9,211.9 203.1,213.8" fill="#362299"/>
<polygon points="203.1,205.2 207.9,203.4 204.5,201.2 199.7,203.0" fill="#4732AB"/>
</g>
<line x1="49.10" y1="174.09" x2="49.10" y2="37.68" stroke="#404040" stroke-width="0.75"/>
<line x1="49.10" y1="174.09" x2="45.33" y2="171.63" stroke="#404040" stroke-width="0.75"/>
<line x1="49.10" y1="139.99" x2="45.33" y2="137.53" stroke="#404040" stroke-width="0.75"/>
<line x1="49.10" y1="105.88" x2="45.33" y2="103.42" stroke="#404040" stroke-width="0.75"/>
<line x1="49.10" y1="71.78" x2="45.33" y2="69.32" stroke="#404040" stroke-width="0.75"/>
<line x1="49.10" y1="37.68" x2="45.33" y2="35.21" stroke="#404040" stroke-width="0.75"/>
<line x1="205.10" y1="276.00" x2="49.10" y2="174.09" stroke="#404040" stroke-width="0.75"/>
<line x1="205.10" y1="276.00" x2="200.90" y2="277.61" stroke="#404040" stroke-width="0.75"/>
<line x1="183.73" y1="262.04" x2="179.53" y2="263.65" stroke="#404040" stroke-width="0.75"/>
<line x1="162.36" y1="248.08" x2="158.16" y2="249.69" stroke="#404040" stroke-width="0.75"/>
<line x1="140.99" y1="234.12" x2="136.79" y2="235.73" stroke="#404040" stroke-width="0.75"/>
<line x1="119.62" y1="220.16" x2="115.42" y2="221.77" stroke="#404040" stroke-width="0.75"/>
<line x1="98.25" y1="206.20" x2="94.05" y2="207.81" stroke="#404040" stroke-width="0.75"/>
<line x1="76.88" y1="192.24" x2="72.68" y2="193.85" stroke="#404040" stroke-width="0.75"/>
<line x1="55.51" y1="178.28" x2="51.31" y2="179.89" stroke="#404040" stroke-width="0.75"/>
<line x1="205.10" y1="276.00" x2="258.58" y2="255.50" stroke="#404040" stroke-width="0.75"/>
<line x1="208.69" y1="274.63" x2="212.45" y2="277.09" stroke="#404040" stroke-width="0.75"/>
<line x1="214.66" y1="272.34" x2="218.43" y2="274.80" stroke="#404040" stroke-width="0.75"/>
<line x1="220.63" y1="270.05" x2="224.40" y2="272.51" stroke="#404040" stroke-width="0.75"/>
<line x1="226.61" y1="267.76" x2="230.38" y2="270.22" stroke="#404040" stroke-width="0.75"/>
<line x1="232.58" y1="265.47" x2="236.35" y2="267.93" stroke="#404040" stroke-width="0.75"/>
<line x1="238.56" y1="263.18" x2="242.33" y2="265.64" stroke="#404040" stroke-width="0.75"/>
<line x1="244.53" y1="260.89" x2="248.30" y2="263.35" stroke="#404040" stroke-width="0.75"/>
<line x1="250.51" y1="258.60" x2="254.28" y2="261.06" stroke="#404040" stroke-width="0.75"/>
<line x1="256.49" y1="256.31" x2="260.25" y2="258.77" stroke="#404040" stroke-width="0.75"/>
<g fill="none">
<line x1="377.69" y1="153.74" x2="533.72" y2="255.50" stroke="#E4E4E4" stroke-width="0.6"/>
<line x1="377.69" y1="153.74" x2="377.69" y2="16.74" stroke="#E4E4E4" stroke-width="0.6"/>
<line x1="371.68" y1="155.98" x2="527.71" y2="257.74" stroke="#E4E4E4" stroke-width="0.6"/>
<line x1="371.68" y1="155.98" x2="371.68" y2="18.98" stroke="#E4E4E4" stroke-width="0.6"/>
<line x1="365.67" y1="158.22" x2="521.70" y2="259.98" stroke="#E4E4E4" stroke-width="0.6"/>
<line x1="365.67" y1="158.22" x2="365.67" y2="21.22" stroke="#E4E4E4" stroke-width="0.6"/>
<line x1="359.66" y1="160.46" x2="515.69" y2="262.22" stroke="#E4E4E4" stroke-width="0.6"/>
<line x1="359.66" y1="160.46" x2="359.66" y2="23.46" stroke="#E4E4E4" stroke-width="0.6"/>
<line x1="353.65" y1="162.70" x2="509.68" y2="264.46" stroke="#E4E4E4" stroke-width="0.6"/>
<line x1="353.65" y1="162.70" x2="353.65" y2="25.70" stroke="#E4E4E4" stroke-width="0.6"/>
<line x1="347.64" y1="164.94" x2="503.67" y2="266.70" stroke="#E4E4E4" stroke-width="0.6"/>
<line x1="347.64" y1="164.94" x2="347.64" y2="27.94" stroke="#E4E4E4" stroke-width="0.6"/>
<line x1="341.63" y1="167.18" x2="497.66" y2="268.94" stroke="#E4E4E4" stroke-width="0.6"/>
<line x1="341.63" y1="167.18" x2="341.63" y2="30.18" stroke="#E4E4E4" stroke-width="0.6"/>
<line x1="335.62" y1="169.42" x2="491.65" y2="271.18" stroke="#E4E4E4" stroke-width="0.6"/>
<line x1="335.62" y1="169.42" x2="335.62" y2="32.42" stroke="#E4E4E4" stroke-width="0.6"/>
<line x1="329.61" y1="171.66" x2="485.64" y2="273.42" stroke="#E4E4E4" stroke-width="0.6"/>
<line x1="329.61" y1="171.66" x2="329.61" y2="34.66" stroke="#E4E4E4" stroke-width="0.6"/>
<line x1="378.59" y1="153.40" x2="326.00" y2="173.00" stroke="#E4E4E4" stroke-width="0.6"/>
<line x1="378.59" y1="153.40" x2="378.59" y2="16.41" stroke="#E4E4E4" stroke-width="0.6"/>
<line x1="399.96" y1="167.34" x2="347.38" y2="186.94" stroke="#E4E4E4" stroke-width="0.6"/>
<line x1="399.96" y1="167.34" x2="399.96" y2="30.35" stroke="#E4E4E4" stroke-width="0.6"/>
<line x1="421.34" y1="181.28" x2="368.75" y2="200.88" stroke="#E4E4E4" stroke-width="0.6"/>
<line x1="421.34" y1="181.28" x2="421.34" y2="44.29" stroke="#E4E4E4" stroke-width="0.6"/>
<line x1="442.71" y1="195.22" x2="390.12" y2="214.82" stroke="#E4E4E4" stroke-width="0.6"/>
<line x1="442.71" y1="195.22" x2="442.71" y2="58.23" stroke="#E4E4E4" stroke-width="0.6"/>
<line x1="464.09" y1="209.16" x2="411.50" y2="228.76" stroke="#E4E4E4" stroke-width="0.6"/>
<line x1="464.09" y1="209.16" x2="464.09" y2="72.17" stroke="#E4E4E4" stroke-width="0.6"/>
<line x1="485.46" y1="223.10" x2="432.88" y2="242.70" stroke="#E4E4E4" stroke-width="0.6"/>
<line x1="485.46" y1="223.10" x2="485.46" y2="86.11" stroke="#E4E4E4" stroke-width="0.6"/>
<line x1="506.84" y1="237.04" x2="454.25" y2="256.64" stroke="#E4E4E4" stroke-width="0.6"/>
<line x1="506.84" y1="237.04" x2="506.84" y2="100.05" stroke="#E4E4E4" stroke-width="0.6"/>
<line x1="528.21" y1="250.98" x2="475.62" y2="270.58" stroke="#E4E4E4" stroke-width="0.6"/>
<line x1="528.21" y1="250.98" x2="528.21" y2="113.99" stroke="#E4E4E4" stroke-width="0.6"/>
<line x1="378.59" y1="16.41" x2="326.00" y2="36.01" stroke="#E4E4E4" stroke-width="0.6"/>
<line x1="378.59" y1="16.41" x2="534.62" y2="118.17" stroke="#E4E4E4" stroke-width="0.6"/>
<line x1="378.59" y1="50.66" x2="326.00" y2="70.26" stroke="#E4E4E4" stroke-width="0.6"/>
<line x1="378.59" y1="50.66" x2="534.62" y2="152.42" stroke="#E4E4E4" stroke-width="0.6"/>
<line x1="378.59" y1="84.90" x2="326.00" y2="104.50" stroke="#E4E4E4" stroke-width="0.6"/>
<line x1="378.59" y1="84.90" x2="534.62" y2="186.67" stroke="#E4E4E4" stroke-width="0.6"/>
<line x1="378.59" y1="119.15" x2="326.00" y2="138.75" stroke="#E4E4E4" stroke-width="0.6"/>
<line x1="378.59" y1="119.15" x2="534.62" y2="220.91" stroke="#E4E4E4" stroke-width="0.6"/>
<line x1="378.59" y1="153.40" x2="326.00" y2="173.00" stroke="#E4E4E4" stroke-width="0.6"/>
<line x1="378.59" y1="153.40" x2="534.62" y2="255.16" stroke="#E4E4E4" stroke-width="0.6"/>
<line x1="378.59" y1="153.40" x2="378.59" y2="16.41" stroke="#E4E4E4" stroke-width="0.6"/>
<line x1="534.62" y1="255.16" x2="534.62" y2="118.17" stroke="#E4E4E4" stroke-width="0.6"/>
</g>
<g stroke="#000" stroke-width="0.7" stroke-opacity="0.8" stroke-linejoin="round">
<polygon points="381.5,85.3 376.7,87.1 380.1,89.3 384.9,87.5" fill="#4732AB"/>
<polygon points="370.7,89.3 374.1,91.5 374.1,94.6 370.7,92.3" fill="#2A5CE6"/>
<polygon points="374.1,91.5 378.9,89.7 378.9,92.8 374.1,94.6" fill="#2755D4"/>
<polygon points="375.5,87.5 370.7,89.3 374.1,91.5 378.9,89.7" fill="#3766E8"/>
<polygon points="364.7,91.5 368.1,93.8 368.1,99.8 364.7,97.6" fill="#2A8AEA"/>
<polygon points="368.1,93.8 372.9,92.0 372.9,98.0 368.1,99.8" fill="#277FD7"/>
<polygon points="369.5,89.7 364.7,91.5 368.1,93.8 372.9,92.0" fill="#3791EB"/>
<polygon points="358.7,93.8 362.1,96.0 362.1,105.1 358.7,102.9" fill="#22A8DC"/>
<polygon points="362.1,96.0 366.9,94.2 366.9,103.3 362.1,105.1" fill="#1F9BCA"/>
<polygon points="363.5,92.0 358.7,93.8 362.1,96.0 366.9,94.2" fill="#2FADDE"/>
<polygon points="352.7,96.0 356.1,98.2 356.1,110.4 352.7,108.1" fill="#30BDB0"/>
<polygon points="356.1,98.2 360.9,96.5 360.9,108.6 356.1,110.4" fill="#2CAEA2"/>
<polygon points="357.5,94.2 352.7,96.0 356.1,98.2 360.9,96.5" fill="#3CC1B5"/>
<polygon points="346.6,98.3 350.1,100.5 350.1,115.6 346.6,113.4" fill="#72C88A"/>
<polygon points="350.1,100.5 354.9,98.7 354.9,113.9 350.1,115.6" fill="#69B87F"/>
<polygon points="351.5,96.5 346.6,98.3 350.1,100.5 354.9,98.7" fill="#7ACB91"/>
<polygon points="340.6,100.5 344.1,102.7 344.1,120.9 340.6,118.7" fill="#BECA60"/>
<polygon points="344.1,102.7 348.9,100.9 348.9,119.1 344.1,120.9" fill="#AFBA58"/>
<polygon points="345.4,98.7 340.6,100.5 344.1,102.7 348.9,100.9" fill="#C2CD6A"/>
<polygon points="334.6,102.7 338.0,105.0 338.0,126.2 334.6,124.0" fill="#EEC04A"/>
<polygon points="338.0,105.0 342.9,103.2 342.9,124.4 338.0,126.2" fill="#DBB144"/>
<polygon points="339.4,100.9 334.6,102.7 338.0,105.0 342.9,103.2" fill="#EFC455"/>
<polygon points="328.6,105.0 332.0,107.2 332.0,131.5 328.6,129.2" fill="#FAD636"/>
<polygon points="332.0,107.2 336.8,105.4 336.8,129.7 332.0,131.5" fill="#E6C532"/>
<polygon points="333.4,103.2 328.6,105.0 332.0,107.2 336.8,105.4" fill="#FAD842"/>
<polygon points="381.0,79.9 384.4,82.1 384.4,92.1 381.0,89.8" fill="#3B25A6"/>
<polygon points="384.4,82.1 389.2,80.3 389.2,90.3 384.4,92.1" fill="#362299"/>
<polygon points="385.8,78.1 381.0,79.9 384.4,82.1 389.2,80.3" fill="#4732AB"/>
<polygon points="375.0,84.1 378.4,86.3 378.4,94.3 375.0,92.1" fill="#2A5CE6"/>
<polygon points="378.4,86.3 383.2,84.5 383.2,92.5 378.4,94.3" fill="#2755D4"/>
<polygon points="379.8,82.3 375.0,84.1 378.4,86.3 383.2,84.5" fill="#3766E8"/>
<polygon points="368.9,88.6 372.4,90.8 372.4,96.6 368.9,94.3" fill="#2A8AEA"/>
<polygon points="372.4,90.8 377.2,89.1 377.2,94.8 372.4,96.6" fill="#277FD7"/>
<polygon points="373.8,86.8 368.9,88.6 372.4,90.8 377.2,89.1" fill="#3791EB"/>
<polygon points="362.9,93.7 366.4,95.9 366.4,98.8 362.9,96.6" fill="#22A8DC"/>
<polygon points="366.4,95.9 371.2,94.1 371.2,97.0 366.4,98.8" fill="#1F9BCA"/>
<polygon points="367.7,91.9 362.9,93.7 366.4,95.9 371.2,94.1" fill="#2FADDE"/>
<polygon points="356.9,98.8 360.3,101.0 360.3,101.9 356.9,99.7" fill="#30BDB0"/>
<polygon points="360.3,101.0 365.2,99.2 365.2,100.1 360.3,101.9" fill="#2CAEA2"/>
<polygon points="361.7,97.0 356.9,98.8 360.3,101.0 365.2,99.2" fill="#3CC1B5"/>
<polygon points="350.9,101.0 354.3,103.3 354.3,107.8 350.9,105.6" fill="#72C88A"/>
<polygon points="354.3,103.3 359.1,101.5 359.1,106.0 354.3,107.8" fill="#69B87F"/>
<polygon points="355.7,99.3 350.9,101.0 354.3,103.3 359.1,101.5" fill="#7ACB91"/>
<polygon points="344.9,103.3 348.3,105.5 348.3,113.5 344.9,111.3" fill="#BECA60"/>
<polygon points="348.3,105.5 353.1,103.7 353.1,111.7 348.3,113.5" fill="#AFBA58"/>
<polygon points="349.7,101.5 344.9,103.3 348.3,105.5 353.1,103.7" fill="#C2CD6A"/>
<polygon points="338.9,105.5 342.3,107.8 342.3,119.2 338.9,116.9" fill="#EEC04A"/>
<polygon points="342.3,107.8 347.1,106.0 347.1,117.4 342.3,119.2" fill="#DBB144"/>
<polygon points="343.7,103.7 338.9,105.5 342.3,107.8 347.1,106.0" fill="#EFC455"/>
<polygon points="332.9,107.8 336.3,110.0 336.3,124.8 332.9,122.6" fill="#FAD636"/>
<polygon points="336.3,110.0 341.1,108.2 341.1,123.0 336.3,124.8" fill="#E6C532"/>
<polygon points="337.7,106.0 332.9,107.8 336.3,110.0 341.1,108.2" fill="#FAD842"/>
<polygon points="385.2,76.9 388.7,79.2 388.7,94.9 385.2,92.6" fill="#3B25A6"/>
<polygon points="388.7,79.2 393.5,77.4 393.5,93.1 388.7,94.9" fill="#362299"/>
<polygon points="390.1,75.1 385.2,76.9 388.7,79.2 393.5,77.4" fill="#4732AB"/>
<polygon points="379.2,82.0 382.7,84.3 382.7,97.1 379.2,94.9" fill="#2A5CE6"/>
<polygon points="382.7,84.3 387.5,82.5 387.5,95.3 382.7,97.1" fill="#2755D4"/>
<polygon points="384.0,80.2 379.2,82.0 382.7,84.3 387.5,82.5" fill="#3766E8"/>
<polygon points="373.2,87.1 376.6,89.4 376.6,99.3 373.2,97.1" fill="#2A8AEA"/>
<polygon points="376.6,89.4 381.5,87.6 381.5,97.6 376.6,99.3" fill="#277FD7"/>
<polygon points="378.0,85.3 373.2,87.1 376.6,89.4 381.5,87.6" fill="#3791EB"/>
<polygon points="367.2,93.1 370.6,95.3 370.6,101.6 367.2,99.4" fill="#22A8DC"/>
<polygon points="370.6,95.3 375.4,93.5 375.4,99.8 370.6,101.6" fill="#1F9BCA"/>
<polygon points="372.0,91.3 367.2,93.1 370.6,95.3 375.4,93.5" fill="#2FADDE"/>
<polygon points="361.2,100.2 364.6,102.4 364.6,103.8 361.2,101.6" fill="#30BDB0"/>
<polygon points="364.6,102.4 369.4,100.6 369.4,102.0 364.6,103.8" fill="#2CAEA2"/>
<polygon points="366.0,98.4 361.2,100.2 364.6,102.4 369.4,100.6" fill="#3CC1B5"/>
<polygon points="355.2,103.8 358.6,106.1 358.6,108.9 355.2,106.7" fill="#72C88A"/>
<polygon points="358.6,106.1 363.4,104.3 363.4,107.1 358.6,108.9" fill="#69B87F"/>
<polygon points="360.0,102.0 355.2,103.8 358.6,106.1 363.4,104.3" fill="#7ACB91"/>
<polygon points="349.2,106.1 352.6,108.3 352.6,115.4 349.2,113.2" fill="#BECA60"/>
<polygon points="352.6,108.3 357.4,106.5 357.4,113.6 352.6,115.4" fill="#AFBA58"/>
<polygon points="354.0,104.3 349.2,106.1 352.6,108.3 357.4,106.5" fill="#C2CD6A"/>
<polygon points="343.2,108.3 346.6,110.5 346.6,120.5 343.2,118.3" fill="#EEC04A"/>
<polygon points="346.6,110.5 351.4,108.8 351.4,118.7 346.6,120.5" fill="#DBB144"/>
<polygon points="348.0,106.5 343.2,108.3 346.6,110.5 351.4,108.8" fill="#EFC455"/>
<polygon points="337.2,110.6 340.6,112.8 340.6,126.2 337.2,124.0" fill="#FAD636"/>
<polygon points="340.6,112.8 345.4,111.0 345.4,124.4 340.6,126.2" fill="#E6C532"/>
<polygon points="342.0,108.8 337.2,110.6 340.6,112.8 345.4,111.0" fill="#FAD842"/>
<polygon points="389.5,79.7 392.9,82.0 392.9,97.7 389.5,95.4" fill="#3B25A6"/>
<polygon points="392.9,82.0 397.7,80.2 397.7,95.9 392.9,97.7" fill="#362299"/>
<polygon points="394.3,77.9 389.5,79.7 392.9,82.0 397.7,80.2" fill="#4732AB"/>
<polygon points="383.5,84.8 386.9,87.0 386.9,99.9 383.5,97.7" fill="#2A5CE6"/>
<polygon points="386.9,87.0 391.7,85.3 391.7,98.1 386.9,99.9" fill="#2755D4"/>
<polygon points="388.3,83.0 383.5,84.8 386.9,87.0 391.7,85.3" fill="#3766E8"/>
<polygon points="377.5,89.9 380.9,92.1 380.9,102.1 377.5,99.9" fill="#2A8AEA"/>
<polygon points="380.9,92.1 385.7,90.3 385.7,100.3 380.9,102.1" fill="#277FD7"/>
<polygon points="382.3,88.1 377.5,89.9 380.9,92.1 385.7,90.3" fill="#3791EB"/>
<polygon points="371.5,95.9 374.9,98.1 374.9,104.4 371.5,102.1" fill="#22A8DC"/>
<polygon points="374.9,98.1 379.7,96.3 379.7,102.6 374.9,104.4" fill="#1F9BCA"/>
<polygon points="376.3,94.1 371.5,95.9 374.9,98.1 379.7,96.3" fill="#2FADDE"/>
<polygon points="365.5,102.1 368.9,104.3 368.9,106.6 365.5,104.4" fill="#30BDB0"/>
<polygon points="368.9,104.3 373.7,102.5 373.7,104.8 368.9,106.6" fill="#2CAEA2"/>
<polygon points="370.3,100.3 365.5,102.1 368.9,104.3 373.7,102.5" fill="#3CC1B5"/>
<polygon points="359.5,106.6 362.9,108.9 362.9,110.6 359.5,108.3" fill="#72C88A"/>
<polygon points="362.9,108.9 367.7,107.1 367.7,108.8 362.9,110.6" fill="#69B87F"/>
<polygon points="364.3,104.8 359.5,106.6 362.9,108.9 367.7,107.1" fill="#7ACB91"/>
<polygon points="353.5,108.9 356.9,111.1 356.9,116.8 353.5,114.6" fill="#BECA60"/>
<polygon points="356.9,111.1 361.7,109.3 361.7,115.0 356.9,116.8" fill="#AFBA58"/>
<polygon points="358.3,107.1 353.5,108.9 356.9,111.1 361.7,109.3" fill="#C2CD6A"/>
<polygon points="347.4,111.1 350.9,113.3 350.9,122.5 347.4,120.2" fill="#EEC04A"/>
<polygon points="350.9,113.3 355.7,111.5 355.7,120.7 350.9,122.5" fill="#DBB144"/>
<polygon points="352.3,109.3 347.4,111.1 350.9,113.3 355.7,111.5" fill="#EFC455"/>
<polygon points="341.4,113.3 344.9,115.6 344.9,127.8 341.4,125.6" fill="#FAD636"/>
<polygon points="344.9,115.6 349.7,113.8 349.7,126.1 344.9,127.8" fill="#E6C532"/>
<polygon points="346.2,111.5 341.4,113.3 344.9,115.6 349.7,113.8" fill="#FAD842"/>
<polygon points="393.8,93.9 397.2,96.2 397.2,100.4 393.8,98.2" fill="#3B25A6"/>
<polygon points="397.2,96.2 402.0,94.4 402.0,98.6 397.2,100.4" fill="#362299"/>
<polygon points="398.6,92.1 393.8,93.9 397.2,96.2 402.0,94.4" fill="#4732AB"/>
<polygon points="387.8,100.4 391.2,102.7 391.2,103.2 387.8,100.9" fill="#2A5CE6"/>
<polygon points="391.2,102.7 396.0,100.9 396.0,101.4 391.2,103.2" fill="#2755D4"/>
<polygon points="392.6,98.7 387.8,100.4 391.2,102.7 396.0,100.9" fill="#3766E8"/>
<polygon points="381.8,102.7 385.2,104.9 385.2,110.2 381.8,108.0" fill="#2A8AEA"/>
<polygon points="385.2,104.9 390.0,103.1 390.0,108.4 385.2,110.2" fill="#277FD7"/>
<polygon points="386.6,100.9 381.8,102.7 385.2,104.9 390.0,103.1" fill="#3791EB"/>
<polygon points="375.8,104.9 379.2,107.2 379.2,117.2 375.8,115.0" fill="#22A8DC"/>
<polygon points="379.2,107.2 384.0,105.4 384.0,115.4 379.2,117.2" fill="#1F9BCA"/>
<polygon points="380.6,103.1 375.8,104.9 379.2,107.2 384.0,105.4" fill="#2FADDE"/>
<polygon points="369.8,107.2 373.2,109.4 373.2,124.2 369.8,122.0" fill="#30BDB0"/>
<polygon points="373.2,109.4 378.0,107.6 378.0,122.4 373.2,124.2" fill="#2CAEA2"/>
<polygon points="374.6,105.4 369.8,107.2 373.2,109.4 378.0,107.6" fill="#3CC1B5"/>
<polygon points="363.7,109.4 367.2,111.6 367.2,131.3 363.7,129.0" fill="#72C88A"/>
<polygon points="367.2,111.6 372.0,109.8 372.0,129.5 367.2,131.3" fill="#69B87F"/>
<polygon points="368.6,107.6 363.7,109.4 367.2,111.6 372.0,109.8" fill="#7ACB91"/>
<polygon points="357.7,111.6 361.2,113.9 361.2,138.3 357.7,136.0" fill="#BECA60"/>
<polygon points="361.2,113.9 366.0,112.1 366.0,136.5 361.2,138.3" fill="#AFBA58"/>
<polygon points="362.5,109.9 357.7,111.6 361.2,113.9 366.0,112.1" fill="#C2CD6A"/>
<polygon points="351.7,113.9 355.1,116.1 355.1,145.3 351.7,143.1" fill="#EEC04A"/>
<polygon points="355.1,116.1 360.0,114.3 360.0,143.5 355.1,145.3" fill="#DBB144"/>
<polygon points="356.5,112.1 351.7,113.9 355.1,116.1 360.0,114.3" fill="#EFC455"/>
<polygon points="345.7,116.1 349.1,118.4 349.1,152.3 345.7,150.1" fill="#FAD636"/>
<polygon points="349.1,118.4 353.9,116.6 353.9,150.5 349.1,152.3" fill="#E6C532"/>
<polygon points="350.5,114.3 345.7,116.1 349.1,118.4 353.9,116.6" fill="#FAD842"/>
<polygon points="398.1,101.0 401.5,103.2 401.5,104.7 398.1,102.4" fill="#3B25A6"/>
<polygon points="401.5,103.2 406.3,101.4 406.3,102.9 401.5,104.7" fill="#362299"/>
<polygon points="402.9,99.2 398.1,101.0 401.5,103.2 406.3,101.4" fill="#4732AB"/>
<polygon points="392.1,103.2 395.5,105.5 395.5,111.4 392.1,109.1" fill="#2A5CE6"/>
<polygon points="395.5,105.5 400.3,103.7 400.3,109.6 395.5,111.4" fill="#2755D4"/>
<polygon points="396.9,101.4 392.1,103.2 395.5,105.5 400.3,103.7" fill="#3766E8"/>
<polygon points="386.0,105.5 389.5,107.7 389.5,118.1 386.0,115.8" fill="#2A8AEA"/>
<polygon points="389.5,107.7 394.3,105.9 394.3,116.3 389.5,118.1" fill="#277FD7"/>
<polygon points="390.9,103.7 386.0,105.5 389.5,107.7 394.3,105.9" fill="#3791EB"/>
<polygon points="380.0,107.7 383.5,109.9 383.5,124.8 380.0,122.5" fill="#22A8DC"/>
<polygon points="383.5,109.9 388.3,108.2 388.3,123.0 383.5,124.8" fill="#1F9BCA"/>
<polygon points="384.8,105.9 380.0,107.7 383.5,109.9 388.3,108.2" fill="#2FADDE"/>
<polygon points="374.0,110.0 377.4,112.2 377.4,131.5 374.0,129.2" fill="#30BDB0"/>
<polygon points="377.4,112.2 382.3,110.4 382.3,129.7 377.4,131.5" fill="#2CAEA2"/>
<polygon points="378.8,108.2 374.0,110.0 377.4,112.2 382.3,110.4" fill="#3CC1B5"/>
<polygon points="368.0,112.2 371.4,114.4 371.4,138.2 368.0,135.9" fill="#72C88A"/>
<polygon points="371.4,114.4 376.2,112.6 376.2,136.4 371.4,138.2" fill="#69B87F"/>
<polygon points="372.8,110.4 368.0,112.2 371.4,114.4 376.2,112.6" fill="#7ACB91"/>
<polygon points="362.0,114.4 365.4,116.7 365.4,144.8 362.0,142.6" fill="#BECA60"/>
<polygon points="365.4,116.7 370.2,114.9 370.2,143.1 365.4,144.8" fill="#AFBA58"/>
<polygon points="366.8,112.6 362.0,114.4 365.4,116.7 370.2,114.9" fill="#C2CD6A"/>
<polygon points="356.0,116.7 359.4,118.9 359.4,151.5 356.0,149.3" fill="#EEC04A"/>
<polygon points="359.4,118.9 364.2,117.1 364.2,149.8 359.4,151.5" fill="#DBB144"/>
<polygon points="360.8,114.9 356.0,116.7 359.4,118.9 364.2,117.1" fill="#EFC455"/>
<polygon points="350.0,118.9 353.4,121.1 353.4,158.2 350.0,156.0" fill="#FAD636"/>
<polygon points="353.4,121.1 358.2,119.4 358.2,156.5 353.4,158.2" fill="#E6C532"/>
<polygon points="354.8,117.1 350.0,118.9 353.4,121.1 358.2,119.4" fill="#FAD842"/>
<polygon points="402.3,103.8 405.8,106.0 405.8,108.9 402.3,106.6" fill="#3B25A6"/>
<polygon points="405.8,106.0 410.6,104.2 410.6,107.1 405.8,108.9" fill="#362299"/>
<polygon points="407.2,102.0 402.3,103.8 405.8,106.0 410.6,104.2" fill="#4732AB"/>
<polygon points="396.3,106.0 399.8,108.3 399.8,115.7 396.3,113.5" fill="#2A5CE6"/>
<polygon points="399.8,108.3 404.6,106.5 404.6,114.0 399.8,115.7" fill="#2755D4"/>
<polygon points="401.1,104.2 396.3,106.0 399.8,108.3 404.6,106.5" fill="#3766E8"/>
<polygon points="390.3,108.3 393.7,110.5 393.7,122.6 390.3,120.4" fill="#2A8AEA"/>
<polygon points="393.7,110.5 398.6,108.7 398.6,120.8 393.7,122.6" fill="#277FD7"/>
<polygon points="395.1,106.5 390.3,108.3 393.7,110.5 398.6,108.7" fill="#3791EB"/>
<polygon points="384.3,110.5 387.7,112.7 387.7,129.5 384.3,127.3" fill="#22A8DC"/>
<polygon points="387.7,112.7 392.5,110.9 392.5,127.7 387.7,129.5" fill="#1F9BCA"/>
<polygon points="389.1,108.7 384.3,110.5 387.7,112.7 392.5,110.9" fill="#2FADDE"/>
<polygon points="378.3,112.7 381.7,115.0 381.7,136.4 378.3,134.1" fill="#30BDB0"/>
<polygon points="381.7,115.0 386.5,113.2 386.5,134.6 381.7,136.4" fill="#2CAEA2"/>
<polygon points="383.1,111.0 378.3,112.7 381.7,115.0 386.5,113.2" fill="#3CC1B5"/>
<polygon points="372.3,115.0 375.7,117.2 375.7,143.3 372.3,141.0" fill="#72C88A"/>
<polygon points="375.7,117.2 380.5,115.4 380.5,141.5 375.7,143.3" fill="#69B87F"/>
<polygon points="377.1,113.2 372.3,115.0 375.7,117.2 380.5,115.4" fill="#7ACB91"/>
<polygon points="366.3,117.2 369.7,119.5 369.7,150.1 366.3,147.9" fill="#BECA60"/>
<polygon points="369.7,119.5 374.5,117.7 374.5,148.3 369.7,150.1" fill="#AFBA58"/>
<polygon points="371.1,115.4 366.3,117.2 369.7,119.5 374.5,117.7" fill="#C2CD6A"/>
<polygon points="360.3,119.5 363.7,121.7 363.7,157.0 360.3,154.8" fill="#EEC04A"/>
<polygon points="363.7,121.7 368.5,119.9 368.5,155.2 363.7,157.0" fill="#DBB144"/>
<polygon points="365.1,117.7 360.3,119.5 363.7,121.7 368.5,119.9" fill="#EFC455"/>
<polygon points="354.3,121.7 357.7,123.9 357.7,163.9 354.3,161.7" fill="#FAD636"/>
<polygon points="357.7,123.9 362.5,122.1 362.5,162.1 357.7,163.9" fill="#E6C532"/>
<polygon points="359.1,119.9 354.3,121.7 357.7,123.9 362.5,122.1" fill="#FAD842"/>
<polygon points="406.6,106.6 410.0,108.8 410.0,111.7 406.6,109.4" fill="#3B25A6"/>
<polygon points="410.0,108.8 414.8,107.0 414.8,109.9 410.0,111.7" fill="#362299"/>
<polygon points="411.4,104.8 406.6,106.6 410.0,108.8 414.8,107.0" fill="#4732AB"/>
<polygon points="400.6,108.8 404.0,111.0 404.0,118.9 400.6,116.7" fill="#2A5CE6"/>
<polygon points="404.0,111.0 408.8,109.3 408.8,117.1 404.0,118.9" fill="#2755D4"/>
<polygon points="405.4,107.0 400.6,108.8 404.0,111.0 408.8,109.3" fill="#3766E8"/>
<polygon points="394.6,111.1 398.0,113.3 398.0,126.1 394.6,123.9" fill="#2A8AEA"/>
<polygon points="398.0,113.3 402.8,111.5 402.8,124.3 398.0,126.1" fill="#277FD7"/>
<polygon points="399.4,109.3 394.6,111.1 398.0,113.3 402.8,111.5" fill="#3791EB"/>
<polygon points="388.6,113.3 392.0,115.5 392.0,133.4 388.6,131.1" fill="#22A8DC"/>
<polygon points="392.0,115.5 396.8,113.7 396.8,131.6 392.0,133.4" fill="#1F9BCA"/>
<polygon points="393.4,111.5 388.6,113.3 392.0,115.5 396.8,113.7" fill="#2FADDE"/>
<polygon points="382.6,115.5 386.0,117.8 386.0,140.6 382.6,138.4" fill="#30BDB0"/>
<polygon points="386.0,117.8 390.8,116.0 390.8,138.8 386.0,140.6" fill="#2CAEA2"/>
<polygon points="387.4,113.7 382.6,115.5 386.0,117.8 390.8,116.0" fill="#3CC1B5"/>
<polygon points="376.6,117.8 380.0,120.0 380.0,147.8 376.6,145.6" fill="#72C88A"/>
<polygon points="380.0,120.0 384.8,118.2 384.8,146.0 380.0,147.8" fill="#69B87F"/>
<polygon points="381.4,116.0 376.6,117.8 380.0,120.0 384.8,118.2" fill="#7ACB91"/>
<polygon points="370.6,120.0 374.0,122.2 374.0,155.1 370.6,152.8" fill="#BECA60"/>
<polygon points="374.0,122.2 378.8,120.5 378.8,153.3 374.0,155.1" fill="#AFBA58"/>
<polygon points="375.4,118.2 370.6,120.0 374.0,122.2 378.8,120.5" fill="#C2CD6A"/>
<polygon points="364.5,122.3 368.0,124.5 368.0,162.3 364.5,160.1" fill="#EEC04A"/>
<polygon points="368.0,124.5 372.8,122.7 372.8,160.5 368.0,162.3" fill="#DBB144"/>
<polygon points="369.4,120.5 364.5,122.3 368.0,124.5 372.8,122.7" fill="#EFC455"/>
<polygon points="358.5,124.5 362.0,126.7 362.0,169.5 358.5,167.3" fill="#FAD636"/>
<polygon points="362.0,126.7 366.8,124.9 366.8,167.7 362.0,169.5" fill="#E6C532"/>
<polygon points="363.3,122.7 358.5,124.5 362.0,126.7 366.8,124.9" fill="#FAD842"/>
<polygon points="410.9,109.4 414.3,111.6 414.3,114.4 410.9,112.2" fill="#3B25A6"/>
<polygon points="414.3,111.6 419.1,109.8 419.1,112.7 414.3,114.4" fill="#362299"/>
<polygon points="415.7,107.6 410.9,109.4 414.3,111.6 419.1,109.8" fill="#4732AB"/>
<polygon points="404.9,111.6 408.3,113.8 408.3,121.3 404.9,119.1" fill="#2A5CE6"/>
<polygon points="408.3,113.8 413.1,112.0 413.1,119.5 408.3,121.3" fill="#2755D4"/>
<polygon points="409.7,109.8 404.9,111.6 408.3,113.8 413.1,112.0" fill="#3766E8"/>
<polygon points="398.9,113.8 402.3,116.1 402.3,128.2 398.9,126.0" fill="#2A8AEA"/>
<polygon points="402.3,116.1 407.1,114.3 407.1,126.4 402.3,128.2" fill="#277FD7"/>
<polygon points="403.7,112.0 398.9,113.8 402.3,116.1 407.1,114.3" fill="#3791EB"/>
<polygon points="392.9,116.1 396.3,118.3 396.3,135.1 392.9,132.8" fill="#22A8DC"/>
<polygon points="396.3,118.3 401.1,116.5 401.1,133.3 396.3,135.1" fill="#1F9BCA"/>
<polygon points="397.7,114.3 392.9,116.1 396.3,118.3 401.1,116.5" fill="#2FADDE"/>
<polygon points="386.9,118.3 390.3,120.6 390.3,142.0 386.9,139.7" fill="#30BDB0"/>
<polygon points="390.3,120.6 395.1,118.8 395.1,140.2 390.3,142.0" fill="#2CAEA2"/>
<polygon points="391.7,116.5 386.9,118.3 390.3,120.6 395.1,118.8" fill="#3CC1B5"/>
<polygon points="380.8,120.6 384.3,122.8 384.3,148.8 380.8,146.6" fill="#72C88A"/>
<polygon points="384.3,122.8 389.1,121.0 389.1,147.0 384.3,148.8" fill="#69B87F"/>
<polygon points="385.7,118.8 380.8,120.6 384.3,122.8 389.1,121.0" fill="#7ACB91"/>
<polygon points="374.8,122.8 378.3,125.0 378.3,155.7 374.8,153.5" fill="#BECA60"/>
<polygon points="378.3,125.0 383.1,123.2 383.1,153.9 378.3,155.7" fill="#AFBA58"/>
<polygon points="379.6,121.0 374.8,122.8 378.3,125.0 383.1,123.2" fill="#C2CD6A"/>
<polygon points="368.8,125.0 372.2,127.3 372.2,162.6 368.8,160.4" fill="#EEC04A"/>
<polygon points="372.2,127.3 377.1,125.5 377.1,160.8 372.2,162.6" fill="#DBB144"/>
<polygon points="373.6,123.2 368.8,125.0 372.2,127.3 377.1,125.5" fill="#EFC455"/>
<polygon points="362.8,127.3 366.2,129.5 366.2,169.5 362.8,167.2" fill="#FAD636"/>
<polygon points="366.2,129.5 371.0,127.7 371.0,167.7 366.2,169.5" fill="#E6C532"/>
<polygon points="367.6,125.5 362.8,127.3 366.2,129.5 371.0,127.7" fill="#FAD842"/>
<polygon points="415.2,112.1 418.6,114.4 418.6,117.2 415.2,115.0" fill="#3B25A6"/>
<polygon points="418.6,114.4 423.4,112.6 423.4,115.4 418.6,117.2" fill="#362299"/>
<polygon points="420.0,110.4 415.2,112.1 418.6,114.4 423.4,112.6" fill="#4732AB"/>
<polygon points="409.2,114.4 412.6,116.6 412.6,122.9 409.2,120.6" fill="#2A5CE6"/>
<polygon points="412.6,116.6 417.4,114.8 417.4,121.1 412.6,122.9" fill="#2755D4"/>
<polygon points="414.0,112.6 409.2,114.4 412.6,116.6 417.4,114.8" fill="#3766E8"/>
<polygon points="403.1,116.6 406.6,118.9 406.6,128.5 403.1,126.3" fill="#2A8AEA"/>
<polygon points="406.6,118.9 411.4,117.1 411.4,126.7 406.6,128.5" fill="#277FD7"/>
<polygon points="408.0,114.8 403.1,116.6 406.6,118.9 411.4,117.1" fill="#3791EB"/>
<polygon points="397.1,118.9 400.6,121.1 400.6,134.1 397.1,131.9" fill="#22A8DC"/>
<polygon points="400.6,121.1 405.4,119.3 405.4,132.3 400.6,134.1" fill="#1F9BCA"/>
<polygon points="401.9,117.1 397.1,118.9 400.6,121.1 405.4,119.3" fill="#2FADDE"/>
<polygon points="391.1,121.1 394.5,123.3 394.5,139.7 391.1,137.5" fill="#30BDB0"/>
<polygon points="394.5,123.3 399.4,121.5 399.4,138.0 394.5,139.7" fill="#2CAEA2"/>
<polygon points="395.9,119.3 391.1,121.1 394.5,123.3 399.4,121.5" fill="#3CC1B5"/>
<polygon points="385.1,123.3 388.5,125.6 388.5,145.4 385.1,143.1" fill="#72C88A"/>
<polygon points="388.5,125.6 393.3,123.8 393.3,143.6 388.5,145.4" fill="#69B87F"/>
<polygon points="389.9,121.6 385.1,123.3 388.5,125.6 393.3,123.8" fill="#7ACB91"/>
<polygon points="379.1,125.6 382.5,127.8 382.5,151.0 379.1,148.8" fill="#BECA60"/>
<polygon points="382.5,127.8 387.3,126.0 387.3,149.2 382.5,151.0" fill="#AFBA58"/>
<polygon points="383.9,123.8 379.1,125.6 382.5,127.8 387.3,126.0" fill="#C2CD6A"/>
<polygon points="373.1,127.8 376.5,130.1 376.5,156.6 373.1,154.4" fill="#EEC04A"/>
<polygon points="376.5,130.1 381.3,128.3 381.3,154.8 376.5,156.6" fill="#DBB144"/>
<polygon points="377.9,126.0 373.1,127.8 376.5,130.1 381.3,128.3" fill="#EFC455"/>
<polygon points="367.1,130.1 370.5,132.3 370.5,162.3 367.1,160.0" fill="#FAD636"/>
<polygon points="370.5,132.3 375.3,130.5 375.3,160.5 370.5,162.3" fill="#E6C532"/>
<polygon points="371.9,128.3 367.1,130.1 370.5,132.3 375.3,130.5" fill="#FAD842"/>
<polygon points="419.4,114.9 422.9,117.2 422.9,120.0 419.4,117.8" fill="#3B25A6"/>
<polygon points="422.9,117.2 427.7,115.4 427.7,118.2 422.9,120.0" fill="#362299"/>
<polygon points="424.3,113.1 419.4,114.9 422.9,117.2 427.7,115.4" fill="#4732AB"/>
<polygon points="413.4,117.2 416.9,119.4 416.9,127.0 413.4,124.8" fill="#2A5CE6"/>
<polygon points="416.9,119.4 421.7,117.6 421.7,125.2 416.9,127.0" fill="#2755D4"/>
<polygon points="418.2,115.4 413.4,117.2 416.9,119.4 421.7,117.6" fill="#3766E8"/>
<polygon points="407.4,119.4 410.8,121.6 410.8,134.1 407.4,131.8" fill="#2A8AEA"/>
<polygon points="410.8,121.6 415.7,119.9 415.7,132.3 410.8,134.1" fill="#277FD7"/>
<polygon points="412.2,117.6 407.4,119.4 410.8,121.6 415.7,119.9" fill="#3791EB"/>
<polygon points="401.4,121.7 404.8,123.9 404.8,141.1 401.4,138.9" fill="#22A8DC"/>
<polygon points="404.8,123.9 409.6,122.1 409.6,139.3 404.8,141.1" fill="#1F9BCA"/>
<polygon points="406.2,119.9 401.4,121.7 404.8,123.9 409.6,122.1" fill="#2FADDE"/>
<polygon points="395.4,123.9 398.8,126.1 398.8,148.1 395.4,145.9" fill="#30BDB0"/>
<polygon points="398.8,126.1 403.6,124.3 403.6,146.3 398.8,148.1" fill="#2CAEA2"/>
<polygon points="400.2,122.1 395.4,123.9 398.8,126.1 403.6,124.3" fill="#3CC1B5"/>
<polygon points="389.4,126.1 392.8,128.4 392.8,155.1 389.4,152.9" fill="#72C88A"/>
<polygon points="392.8,128.4 397.6,126.6 397.6,153.3 392.8,155.1" fill="#69B87F"/>
<polygon points="394.2,124.3 389.4,126.1 392.8,128.4 397.6,126.6" fill="#7ACB91"/>
<polygon points="383.4,128.4 386.8,130.6 386.8,162.1 383.4,159.9" fill="#BECA60"/>
<polygon points="386.8,130.6 391.6,128.8 391.6,160.4 386.8,162.1" fill="#AFBA58"/>
<polygon points="388.2,126.6 383.4,128.4 386.8,130.6 391.6,128.8" fill="#C2CD6A"/>
<polygon points="377.4,130.6 380.8,132.8 380.8,169.2 377.4,166.9" fill="#EEC04A"/>
<polygon points="380.8,132.8 385.6,131.1 385.6,167.4 380.8,169.2" fill="#DBB144"/>
<polygon points="382.2,128.8 377.4,130.6 380.8,132.8 385.6,131.1" fill="#EFC455"/>
<polygon points="371.4,132.9 374.8,135.1 374.8,176.2 371.4,174.0" fill="#FAD636"/>
<polygon points="374.8,135.1 379.6,133.3 379.6,174.4 374.8,176.2" fill="#E6C532"/>
<polygon points="376.2,131.1 371.4,132.9 374.8,135.1 379.6,133.3" fill="#FAD842"/>
<polygon points="423.7,117.7 427.1,120.0 427.1,122.8 423.7,120.6" fill="#3B25A6"/>
<polygon points="427.1,120.0 431.9,118.2 431.9,121.0 427.1,122.8" fill="#362299"/>
<polygon points="428.5,115.9 423.7,117.7 427.1,120.0 431.9,118.2" fill="#4732AB"/>
<polygon points="417.7,120.0 421.1,122.2 421.1,129.7 417.7,127.5" fill="#2A5CE6"/>
<polygon points="421.1,122.2 425.9,120.4 425.9,127.9 421.1,129.7" fill="#2755D4"/>
<polygon points="422.5,118.2 417.7,120.0 421.1,122.2 425.9,120.4" fill="#3766E8"/>
<polygon points="411.7,122.2 415.1,124.4 415.1,136.6 411.7,134.3" fill="#2A8AEA"/>
<polygon points="415.1,124.4 419.9,122.6 419.9,134.8 415.1,136.6" fill="#277FD7"/>
<polygon points="416.5,120.4 411.7,122.2 415.1,124.4 419.9,122.6" fill="#3791EB"/>
<polygon points="405.7,124.4 409.1,126.7 409.1,143.4 405.7,141.2" fill="#22A8DC"/>
<polygon points="409.1,126.7 413.9,124.9 413.9,141.6 409.1,143.4" fill="#1F9BCA"/>
<polygon points="410.5,122.7 405.7,124.4 409.1,126.7 413.9,124.9" fill="#2FADDE"/>
<polygon points="399.7,126.7 403.1,128.9 403.1,150.3 399.7,148.1" fill="#30BDB0"/>
<polygon points="403.1,128.9 407.9,127.1 407.9,148.5 403.1,150.3" fill="#2CAEA2"/>
<polygon points="404.5,124.9 399.7,126.7 403.1,128.9 407.9,127.1" fill="#3CC1B5"/>
<polygon points="393.7,128.9 397.1,131.2 397.1,157.2 393.7,155.0" fill="#72C88A"/>
<polygon points="397.1,131.2 401.9,129.4 401.9,155.4 397.1,157.2" fill="#69B87F"/>
<polygon points="398.5,127.1 393.7,128.9 397.1,131.2 401.9,129.4" fill="#7ACB91"/>
<polygon points="387.7,131.2 391.1,133.4 391.1,164.1 387.7,161.8" fill="#BECA60"/>
<polygon points="391.1,133.4 395.9,131.6 395.9,162.3 391.1,164.1" fill="#AFBA58"/>
<polygon points="392.5,129.4 387.7,131.2 391.1,133.4 395.9,131.6" fill="#C2CD6A"/>
<polygon points="381.6,133.4 385.1,135.6 385.1,171.0 381.6,168.7" fill="#EEC04A"/>
<polygon points="385.1,135.6 389.9,133.8 389.9,169.2 385.1,171.0" fill="#DBB144"/>
<polygon points="386.5,131.6 381.6,133.4 385.1,135.6 389.9,133.8" fill="#EFC455"/>
<polygon points="375.6,135.6 379.1,137.9 379.1,177.8 375.6,175.6" fill="#FAD636"/>
<polygon points="379.1,137.9 383.9,136.1 383.9,176.0 379.1,177.8" fill="#E6C532"/>
<polygon points="380.4,133.9 375.6,135.6 379.1,137.9 383.9,136.1" fill="#FAD842"/>
<polygon points="428.0,120.5 431.4,122.7 431.4,125.6 428.0,123.4" fill="#3B25A6"/>
<polygon points="431.4,122.7 436.2,121.0 436.2,123.8 431.4,125.6" fill="#362299"/>
<polygon points="432.8,118.7 428.0,120.5 431.4,122.7 436.2,121.0" fill="#4732AB"/>
<polygon points="422.0,122.8 425.4,125.0 425.4,132.8 422.0,130.6" fill="#2A5CE6"/>
<polygon points="425.4,125.0 430.2,123.2 430.2,131.0 425.4,132.8" fill="#2755D4"/>
<polygon points="426.8,121.0 422.0,122.8 425.4,125.0 430.2,123.2" fill="#3766E8"/>
<polygon points="416.0,125.0 419.4,127.2 419.4,140.1 416.0,137.8" fill="#2A8AEA"/>
<polygon points="419.4,127.2 424.2,125.4 424.2,138.3 419.4,140.1" fill="#277FD7"/>
<polygon points="420.8,123.2 416.0,125.0 419.4,127.2 424.2,125.4" fill="#3791EB"/>
<polygon points="410.0,127.2 413.4,129.5 413.4,147.3 410.0,145.1" fill="#22A8DC"/>
<polygon points="413.4,129.5 418.2,127.7 418.2,145.5 413.4,147.3" fill="#1F9BCA"/>
<polygon points="414.8,125.4 410.0,127.2 413.4,129.5 418.2,127.7" fill="#2FADDE"/>
<polygon points="404.0,129.5 407.4,131.7 407.4,154.5 404.0,152.3" fill="#30BDB0"/>
<polygon points="407.4,131.7 412.2,129.9 412.2,152.7 407.4,154.5" fill="#2CAEA2"/>
<polygon points="408.8,127.7 404.0,129.5 407.4,131.7 412.2,129.9" fill="#3CC1B5"/>
<polygon points="397.9,131.7 401.4,133.9 401.4,161.8 397.9,159.5" fill="#72C88A"/>
<polygon points="401.4,133.9 406.2,132.2 406.2,160.0 401.4,161.8" fill="#69B87F"/>
<polygon points="402.8,129.9 397.9,131.7 401.4,133.9 406.2,132.2" fill="#7ACB91"/>
<polygon points="391.9,134.0 395.4,136.2 395.4,169.0 391.9,166.8" fill="#BECA60"/>
<polygon points="395.4,136.2 400.2,134.4 400.2,167.2 395.4,169.0" fill="#AFBA58"/>
<polygon points="396.7,132.2 391.9,134.0 395.4,136.2 400.2,134.4" fill="#C2CD6A"/>
<polygon points="385.9,136.2 389.3,138.4 389.3,176.2 385.9,174.0" fill="#EEC04A"/>
<polygon points="389.3,138.4 394.2,136.6 394.2,174.4 389.3,176.2" fill="#DBB144"/>
<polygon points="390.7,134.4 385.9,136.2 389.3,138.4 394.2,136.6" fill="#EFC455"/>
<polygon points="379.9,138.4 383.3,140.7 383.3,183.5 379.9,181.2" fill="#FAD636"/>
<polygon points="383.3,140.7 388.1,138.9 388.1,181.7 383.3,183.5" fill="#E6C532"/>
<polygon points="384.7,136.6 379.9,138.4 383.3,140.7 388.1,138.9" fill="#FAD842"/>
<polygon points="432.3,123.3 435.7,125.5 435.7,127.0 432.3,124.7" fill="#3B25A6"/>
<polygon points="435.7,125.5 440.5,123.7 440.5,125.2 435.7,127.0" fill="#362299"/>
<polygon points="437.1,121.5 432.3,123.3 435.7,125.5 440.5,123.7" fill="#4732AB"/>
<polygon points="426.3,125.5 429.7,127.8 429.7,133.7 426.3,131.4" fill="#2A5CE6"/>
<polygon points="429.7,127.8 434.5,126.0 434.5,131.9 429.7,133.7" fill="#2755D4"/>
<polygon points="431.1,123.7 426.3,125.5 429.7,127.8 434.5,126.0" fill="#3766E8"/>
<polygon points="420.2,127.8 423.7,130.0 423.7,140.4 420.2,138.1" fill="#2A8AEA"/>
<polygon points="423.7,130.0 428.5,128.2 428.5,138.6 423.7,140.4" fill="#277FD7"/>
<polygon points="425.1,126.0 420.2,127.8 423.7,130.0 428.5,128.2" fill="#3791EB"/>
<polygon points="414.2,130.0 417.7,132.3 417.7,147.1 414.2,144.8" fill="#22A8DC"/>
<polygon points="417.7,132.3 422.5,130.5 422.5,145.3 417.7,147.1" fill="#1F9BCA"/>
<polygon points="419.0,128.2 414.2,130.0 417.7,132.3 422.5,130.5" fill="#2FADDE"/>
<polygon points="408.2,132.3 411.6,134.5 411.6,153.8 408.2,151.5" fill="#30BDB0"/>
<polygon points="411.6,134.5 416.5,132.7 416.5,152.0 411.6,153.8" fill="#2CAEA2"/>
<polygon points="413.0,130.5 408.2,132.3 411.6,134.5 416.5,132.7" fill="#3CC1B5"/>
<polygon points="402.2,134.5 405.6,136.7 405.6,160.5 402.2,158.2" fill="#72C88A"/>
<polygon points="405.6,136.7 410.4,134.9 410.4,158.7 405.6,160.5" fill="#69B87F"/>
<polygon points="407.0,132.7 402.2,134.5 405.6,136.7 410.4,134.9" fill="#7ACB91"/>
<polygon points="396.2,136.7 399.6,139.0 399.6,167.2 396.2,164.9" fill="#BECA60"/>
<polygon points="399.6,139.0 404.4,137.2 404.4,165.4 399.6,167.2" fill="#AFBA58"/>
<polygon points="401.0,134.9 396.2,136.7 399.6,139.0 404.4,137.2" fill="#C2CD6A"/>
<polygon points="390.2,139.0 393.6,141.2 393.6,173.9 390.2,171.6" fill="#EEC04A"/>
<polygon points="393.6,141.2 398.4,139.4 398.4,172.1 393.6,173.9" fill="#DBB144"/>
<polygon points="395.0,137.2 390.2,139.0 393.6,141.2 398.4,139.4" fill="#EFC455"/>
<polygon points="384.2,141.2 387.6,143.5 387.6,180.6 384.2,178.3" fill="#FAD636"/>
<polygon points="387.6,143.5 392.4,141.7 392.4,178.8 387.6,180.6" fill="#E6C532"/>
<polygon points="389.0,139.4 384.2,141.2 387.6,143.5 392.4,141.7" fill="#FAD842"/>
<polygon points="436.5,104.4 440.0,106.6 440.0,128.3 436.5,126.1" fill="#3B25A6"/>
<polygon points="440.0,106.6 444.8,104.8 444.8,126.5 440.0,128.3" fill="#362299"/>
<polygon points="441.4,102.6 436.5,104.4 440.0,106.6 444.8,104.8" fill="#4732AB"/>
<polygon points="430.5,108.0 434.0,110.3 434.0,130.6 430.5,128.3" fill="#2A5CE6"/>
<polygon points="434.0,110.3 438.8,108.5 438.8,128.8 434.0,130.6" fill="#2755D4"/>
<polygon points="435.3,106.2 430.5,108.0 434.0,110.3 438.8,108.5" fill="#3766E8"/>
<polygon points="424.5,113.1 427.9,115.3 427.9,132.8 424.5,130.6" fill="#2A8AEA"/>
<polygon points="427.9,115.3 432.8,113.5 432.8,131.0 427.9,132.8" fill="#277FD7"/>
<polygon points="429.3,111.3 424.5,113.1 427.9,115.3 432.8,113.5" fill="#3791EB"/>
<polygon points="418.5,119.2 421.9,121.4 421.9,135.0 418.5,132.8" fill="#22A8DC"/>
<polygon points="421.9,121.4 426.7,119.6 426.7,133.2 421.9,135.0" fill="#1F9BCA"/>
<polygon points="423.3,117.4 418.5,119.2 421.9,121.4 426.7,119.6" fill="#2FADDE"/>
<polygon points="412.5,126.2 415.9,128.4 415.9,137.3 412.5,135.0" fill="#30BDB0"/>
<polygon points="415.9,128.4 420.7,126.6 420.7,135.5 415.9,137.3" fill="#2CAEA2"/>
<polygon points="417.3,124.4 412.5,126.2 415.9,128.4 420.7,126.6" fill="#3CC1B5"/>
<polygon points="406.5,133.9 409.9,136.1 409.9,139.5 406.5,137.3" fill="#72C88A"/>
<polygon points="409.9,136.1 414.7,134.3 414.7,137.7 409.9,139.5" fill="#69B87F"/>
<polygon points="411.3,132.1 406.5,133.9 409.9,136.1 414.7,134.3" fill="#7ACB91"/>
<polygon points="400.5,139.5 403.9,141.8 403.9,144.6 400.5,142.3" fill="#BECA60"/>
<polygon points="403.9,141.8 408.7,140.0 408.7,142.8 403.9,144.6" fill="#AFBA58"/>
<polygon points="405.3,137.7 400.5,139.5 403.9,141.8 408.7,140.0" fill="#C2CD6A"/>
<polygon points="394.5,141.8 397.9,144.0 397.9,153.7 394.5,151.4" fill="#EEC04A"/>
<polygon points="397.9,144.0 402.7,142.2 402.7,151.9 397.9,153.7" fill="#DBB144"/>
<polygon points="399.3,140.0 394.5,141.8 397.9,144.0 402.7,142.2" fill="#EFC455"/>
<polygon points="388.5,144.0 391.9,146.2 391.9,163.4 388.5,161.1" fill="#FAD636"/>
<polygon points="391.9,146.2 396.7,144.4 396.7,161.6 391.9,163.4" fill="#E6C532"/>
<polygon points="393.3,142.2 388.5,144.0 391.9,146.2 396.7,144.4" fill="#FAD842"/>
<polygon points="440.8,100.3 444.2,102.6 444.2,131.1 440.8,128.9" fill="#3B25A6"/>
<polygon points="444.2,102.6 449.0,100.8 449.0,129.3 444.2,131.1" fill="#362299"/>
<polygon points="445.6,98.5 440.8,100.3 444.2,102.6 449.0,100.8" fill="#4732AB"/>
<polygon points="434.8,103.8 438.2,106.0 438.2,133.3 434.8,131.1" fill="#2A5CE6"/>
<polygon points="438.2,106.0 443.0,104.2 443.0,131.6 438.2,133.3" fill="#2755D4"/>
<polygon points="439.6,102.0 434.8,103.8 438.2,106.0 443.0,104.2" fill="#3766E8"/>
<polygon points="428.8,108.4 432.2,110.6 432.2,135.6 428.8,133.4" fill="#2A8AEA"/>
<polygon points="432.2,110.6 437.0,108.8 437.0,133.8 432.2,135.6" fill="#277FD7"/>
<polygon points="433.6,106.6 428.8,108.4 432.2,110.6 437.0,108.8" fill="#3791EB"/>
<polygon points="422.8,113.9 426.2,116.1 426.2,137.8 422.8,135.6" fill="#22A8DC"/>
<polygon points="426.2,116.1 431.0,114.3 431.0,136.0 426.2,137.8" fill="#1F9BCA"/>
<polygon points="427.6,112.1 422.8,113.9 426.2,116.1 431.0,114.3" fill="#2FADDE"/>
<polygon points="416.8,120.1 420.2,122.4 420.2,140.1 416.8,137.8" fill="#30BDB0"/>
<polygon points="420.2,122.4 425.0,120.6 425.0,138.3 420.2,140.1" fill="#2CAEA2"/>
<polygon points="421.6,118.3 416.8,120.1 420.2,122.4 425.0,120.6" fill="#3CC1B5"/>
<polygon points="410.8,127.0 414.2,129.2 414.2,142.3 410.8,140.1" fill="#72C88A"/>
<polygon points="414.2,129.2 419.0,127.4 419.0,140.5 414.2,142.3" fill="#69B87F"/>
<polygon points="415.6,125.2 410.8,127.0 414.2,129.2 419.0,127.4" fill="#7ACB91"/>
<polygon points="404.8,134.5 408.2,136.7 408.2,144.5 404.8,142.3" fill="#BECA60"/>
<polygon points="408.2,136.7 413.0,134.9 413.0,142.8 408.2,144.5" fill="#AFBA58"/>
<polygon points="409.6,132.7 404.8,134.5 408.2,136.7 413.0,134.9" fill="#C2CD6A"/>
<polygon points="398.7,142.5 402.2,144.8 402.2,146.8 398.7,144.6" fill="#EEC04A"/>
<polygon points="402.2,144.8 407.0,143.0 407.0,145.0 402.2,146.8" fill="#DBB144"/>
<polygon points="403.6,140.7 398.7,142.5 402.2,144.8 407.0,143.0" fill="#EFC455"/>
<polygon points="392.7,146.8 396.2,149.0 396.2,153.3 392.7,151.1" fill="#FAD636"/>
<polygon points="396.2,149.0 401.0,147.2 401.0,151.5 396.2,153.3" fill="#E6C532"/>
<polygon points="397.5,145.0 392.7,146.8 396.2,149.0 401.0,147.2" fill="#FAD842"/>
<polygon points="445.1,104.3 448.5,106.5 448.5,133.9 445.1,131.7" fill="#3B25A6"/>
<polygon points="448.5,106.5 453.3,104.7 453.3,132.1 448.5,133.9" fill="#362299"/>
<polygon points="449.9,102.5 445.1,104.3 448.5,106.5 453.3,104.7" fill="#4732AB"/>
<polygon points="439.1,107.6 442.5,109.9 442.5,136.1 439.1,133.9" fill="#2A5CE6"/>
<polygon points="442.5,109.9 447.3,108.1 447.3,134.3 442.5,136.1" fill="#2755D4"/>
<polygon points="443.9,105.9 439.1,107.6 442.5,109.9 447.3,108.1" fill="#3766E8"/>
<polygon points="433.1,112.2 436.5,114.4 436.5,138.4 433.1,136.1" fill="#2A8AEA"/>
<polygon points="436.5,114.4 441.3,112.6 441.3,136.6 436.5,138.4" fill="#277FD7"/>
<polygon points="437.9,110.4 433.1,112.2 436.5,114.4 441.3,112.6" fill="#3791EB"/>
<polygon points="427.1,117.6 430.5,119.8 430.5,140.6 427.1,138.4" fill="#22A8DC"/>
<polygon points="430.5,119.8 435.3,118.0 435.3,138.8 430.5,140.6" fill="#1F9BCA"/>
<polygon points="431.9,115.8 427.1,117.6 430.5,119.8 435.3,118.0" fill="#2FADDE"/>
<polygon points="421.1,123.7 424.5,125.9 424.5,142.9 421.1,140.6" fill="#30BDB0"/>
<polygon points="424.5,125.9 429.3,124.1 429.3,141.1 424.5,142.9" fill="#2CAEA2"/>
<polygon points="425.9,121.9 421.1,123.7 424.5,125.9 429.3,124.1" fill="#3CC1B5"/>
<polygon points="415.0,130.4 418.5,132.6 418.5,145.1 415.0,142.9" fill="#72C88A"/>
<polygon points="418.5,132.6 423.3,130.8 423.3,143.3 418.5,145.1" fill="#69B87F"/>
<polygon points="419.9,128.6 415.0,130.4 418.5,132.6 423.3,130.8" fill="#7ACB91"/>
<polygon points="409.0,137.7 412.5,139.9 412.5,147.3 409.0,145.1" fill="#BECA60"/>
<polygon points="412.5,139.9 417.3,138.1 417.3,145.5 412.5,147.3" fill="#AFBA58"/>
<polygon points="413.8,135.9 409.0,137.7 412.5,139.9 417.3,138.1" fill="#C2CD6A"/>
<polygon points="403.0,145.5 406.4,147.8 406.4,149.6 403.0,147.3" fill="#EEC04A"/>
<polygon points="406.4,147.8 411.3,146.0 411.3,147.8 406.4,149.6" fill="#DBB144"/>
<polygon points="407.8,143.7 403.0,145.5 406.4,147.8 411.3,146.0" fill="#EFC455"/>
<polygon points="397.0,149.6 400.4,151.8 400.4,156.1 397.0,153.9" fill="#FAD636"/>
<polygon points="400.4,151.8 405.2,150.0 405.2,154.3 400.4,156.1" fill="#E6C532"/>
<polygon points="401.8,147.8 397.0,149.6 400.4,151.8 405.2,150.0" fill="#FAD842"/>
<polygon points="449.4,131.6 452.8,133.8 452.8,136.7 449.4,134.5" fill="#3B25A6"/>
<polygon points="452.8,133.8 457.6,132.0 457.6,134.9 452.8,136.7" fill="#362299"/>
<polygon points="454.2,129.8 449.4,131.6 452.8,133.8 457.6,132.0" fill="#4732AB"/>
<polygon points="443.4,136.7 446.8,138.9 446.8,139.6 443.4,137.4" fill="#2A5CE6"/>
<polygon points="446.8,138.9 451.6,137.1 451.6,137.8 446.8,139.6" fill="#2755D4"/>
<polygon points="448.2,134.9 443.4,136.7 446.8,138.9 451.6,137.1" fill="#3766E8"/>
<polygon points="437.3,138.9 440.8,141.2 440.8,145.4 437.3,143.2" fill="#2A8AEA"/>
<polygon points="440.8,141.2 445.6,139.4 445.6,143.7 440.8,145.4" fill="#277FD7"/>
<polygon points="442.2,137.1 437.3,138.9 440.8,141.2 445.6,139.4" fill="#3791EB"/>
<polygon points="431.3,141.2 434.8,143.4 434.8,151.3 431.3,149.0" fill="#22A8DC"/>
<polygon points="434.8,143.4 439.6,141.6 439.6,149.5 434.8,151.3" fill="#1F9BCA"/>
<polygon points="436.1,139.4 431.3,141.2 434.8,143.4 439.6,141.6" fill="#2FADDE"/>
<polygon points="425.3,143.4 428.7,145.6 428.7,157.1 425.3,154.8" fill="#30BDB0"/>
<polygon points="428.7,145.6 433.6,143.9 433.6,155.3 428.7,157.1" fill="#2CAEA2"/>
<polygon points="430.1,141.6 425.3,143.4 428.7,145.6 433.6,143.9" fill="#3CC1B5"/>
<polygon points="419.3,145.7 422.7,147.9 422.7,162.9 419.3,160.6" fill="#72C88A"/>
<polygon points="422.7,147.9 427.5,146.1 427.5,161.1 422.7,162.9" fill="#69B87F"/>
<polygon points="424.1,143.9 419.3,145.7 422.7,147.9 427.5,146.1" fill="#7ACB91"/>
<polygon points="413.3,147.9 416.7,150.1 416.7,168.7 413.3,166.4" fill="#BECA60"/>
<polygon points="416.7,150.1 421.5,148.3 421.5,166.9 416.7,168.7" fill="#AFBA58"/>
<polygon points="418.1,146.1 413.3,147.9 416.7,150.1 421.5,148.3" fill="#C2CD6A"/>
<polygon points="407.3,150.1 410.7,152.4 410.7,174.5 407.3,172.3" fill="#EEC04A"/>
<polygon points="410.7,152.4 415.5,150.6 415.5,172.7 410.7,174.5" fill="#DBB144"/>
<polygon points="412.1,148.3 407.3,150.1 410.7,152.4 415.5,150.6" fill="#EFC455"/>
<polygon points="401.3,152.4 404.7,154.6 404.7,180.3 401.3,178.1" fill="#FAD636"/>
<polygon points="404.7,154.6 409.5,152.8 409.5,178.5 404.7,180.3" fill="#E6C532"/>
<polygon points="406.1,150.6 401.3,152.4 404.7,154.6 409.5,152.8" fill="#FAD842"/>
<polygon points="453.6,137.2 457.1,139.5 457.1,140.9 453.6,138.7" fill="#3B25A6"/>
<polygon points="457.1,139.5 461.9,137.7 461.9,139.1 457.1,140.9" fill="#362299"/>
<polygon points="458.5,135.4 453.6,137.2 457.1,139.5 461.9,137.7" fill="#4732AB"/>
<polygon points="447.6,139.5 451.1,141.7 451.1,146.0 447.6,143.8" fill="#2A5CE6"/>
<polygon points="451.1,141.7 455.9,139.9 455.9,144.2 451.1,146.0" fill="#2755D4"/>
<polygon points="452.4,137.7 447.6,139.5 451.1,141.7 455.9,139.9" fill="#3766E8"/>
<polygon points="441.6,141.7 445.0,144.0 445.0,151.1 441.6,148.9" fill="#2A8AEA"/>
<polygon points="445.0,144.0 449.9,142.2 449.9,149.3 445.0,151.1" fill="#277FD7"/>
<polygon points="446.4,139.9 441.6,141.7 445.0,144.0 449.9,142.2" fill="#3791EB"/>
<polygon points="435.6,144.0 439.0,146.2 439.0,156.2 435.6,153.9" fill="#22A8DC"/>
<polygon points="439.0,146.2 443.8,144.4 443.8,154.4 439.0,156.2" fill="#1F9BCA"/>
<polygon points="440.4,142.2 435.6,144.0 439.0,146.2 443.8,144.4" fill="#2FADDE"/>
<polygon points="429.6,146.2 433.0,148.4 433.0,161.3 429.6,159.0" fill="#30BDB0"/>
<polygon points="433.0,148.4 437.8,146.6 437.8,159.5 433.0,161.3" fill="#2CAEA2"/>
<polygon points="434.4,144.4 429.6,146.2 433.0,148.4 437.8,146.6" fill="#3CC1B5"/>
<polygon points="423.6,148.4 427.0,150.7 427.0,166.4 423.6,164.1" fill="#72C88A"/>
<polygon points="427.0,150.7 431.8,148.9 431.8,164.6 427.0,166.4" fill="#69B87F"/>
<polygon points="428.4,146.6 423.6,148.4 427.0,150.7 431.8,148.9" fill="#7ACB91"/>
<polygon points="417.6,150.7 421.0,152.9 421.0,171.5 417.6,169.2" fill="#BECA60"/>
<polygon points="421.0,152.9 425.8,151.1 425.8,169.7 421.0,171.5" fill="#AFBA58"/>
<polygon points="422.4,148.9 417.6,150.7 421.0,152.9 425.8,151.1" fill="#C2CD6A"/>
<polygon points="411.6,152.9 415.0,155.2 415.0,176.6 411.6,174.3" fill="#EEC04A"/>
<polygon points="415.0,155.2 419.8,153.4 419.8,174.8 415.0,176.6" fill="#DBB144"/>
<polygon points="416.4,151.1 411.6,152.9 415.0,155.2 419.8,153.4" fill="#EFC455"/>
<polygon points="405.6,155.2 409.0,157.4 409.0,181.6 405.6,179.4" fill="#FAD636"/>
<polygon points="409.0,157.4 413.8,155.6 413.8,179.9 409.0,181.6" fill="#E6C532"/>
<polygon points="410.4,153.4 405.6,155.2 409.0,157.4 413.8,155.6" fill="#FAD842"/>
<polygon points="457.9,137.2 461.3,139.4 461.3,142.3 457.9,140.0" fill="#3B25A6"/>
<polygon points="461.3,139.4 466.1,137.6 466.1,140.5 461.3,142.3" fill="#362299"/>
<polygon points="462.7,135.4 457.9,137.2 461.3,139.4 466.1,137.6" fill="#4732AB"/>
<polygon points="451.9,142.3 455.3,144.5 455.3,144.9 451.9,142.6" fill="#2A5CE6"/>
<polygon points="455.3,144.5 460.1,142.7 460.1,143.1 455.3,144.9" fill="#2755D4"/>
<polygon points="456.7,140.5 451.9,142.3 455.3,144.5 460.1,142.7" fill="#3766E8"/>
<polygon points="445.9,144.5 449.3,146.7 449.3,150.3 445.9,148.1" fill="#2A8AEA"/>
<polygon points="449.3,146.7 454.1,144.9 454.1,148.5 449.3,150.3" fill="#277FD7"/>
<polygon points="450.7,142.7 445.9,144.5 449.3,146.7 454.1,144.9" fill="#3791EB"/>
<polygon points="439.9,146.7 443.3,149.0 443.3,155.8 439.9,153.5" fill="#22A8DC"/>
<polygon points="443.3,149.0 448.1,147.2 448.1,154.0 443.3,155.8" fill="#1F9BCA"/>
<polygon points="444.7,145.0 439.9,146.7 443.3,149.0 448.1,147.2" fill="#2FADDE"/>
<polygon points="433.9,149.0 437.3,151.2 437.3,161.2 433.9,159.0" fill="#30BDB0"/>
<polygon points="437.3,151.2 442.1,149.4 442.1,159.4 437.3,161.2" fill="#2CAEA2"/>
<polygon points="438.7,147.2 433.9,149.0 437.3,151.2 442.1,149.4" fill="#3CC1B5"/>
<polygon points="427.9,151.2 431.3,153.5 431.3,166.7 427.9,164.4" fill="#72C88A"/>
<polygon points="431.3,153.5 436.1,151.7 436.1,164.9 431.3,166.7" fill="#69B87F"/>
<polygon points="432.7,149.4 427.9,151.2 431.3,153.5 436.1,151.7" fill="#7ACB91"/>
<polygon points="421.9,153.5 425.3,155.7 425.3,172.1 421.9,169.9" fill="#BECA60"/>
<polygon points="425.3,155.7 430.1,153.9 430.1,170.3 425.3,172.1" fill="#AFBA58"/>
<polygon points="426.7,151.7 421.9,153.5 425.3,155.7 430.1,153.9" fill="#C2CD6A"/>
<polygon points="415.8,155.7 419.3,157.9 419.3,177.6 415.8,175.3" fill="#EEC04A"/>
<polygon points="419.3,157.9 424.1,156.1 424.1,175.8 419.3,177.6" fill="#DBB144"/>
<polygon points="420.7,153.9 415.8,155.7 419.3,157.9 424.1,156.1" fill="#EFC455"/>
<polygon points="409.8,157.9 413.3,160.2 413.3,183.0 409.8,180.8" fill="#FAD636"/>
<polygon points="413.3,160.2 418.1,158.4 418.1,181.2 413.3,183.0" fill="#E6C532"/>
<polygon points="414.6,156.2 409.8,157.9 413.3,160.2 418.1,158.4" fill="#FAD842"/>
<polygon points="462.2,102.9 465.6,105.1 465.6,145.0 462.2,142.8" fill="#3B25A6"/>
<polygon points="465.6,105.1 470.4,103.3 470.4,143.3 465.6,145.0" fill="#362299"/>
<polygon points="467.0,101.1 462.2,102.9 465.6,105.1 470.4,103.3" fill="#4732AB"/>
<polygon points="456.2,111.7 459.6,113.9 459.6,147.3 456.2,145.1" fill="#2A5CE6"/>
<polygon points="459.6,113.9 464.4,112.1 464.4,145.5 459.6,147.3" fill="#2755D4"/>
<polygon points="461.0,109.9 456.2,111.7 459.6,113.9 464.4,112.1" fill="#3766E8"/>
<polygon points="450.2,120.5 453.6,122.8 453.6,149.5 450.2,147.3" fill="#2A8AEA"/>
<polygon points="453.6,122.8 458.4,121.0 458.4,147.7 453.6,149.5" fill="#277FD7"/>
<polygon points="455.0,118.7 450.2,120.5 453.6,122.8 458.4,121.0" fill="#3791EB"/>
<polygon points="444.2,129.4 447.6,131.6 447.6,151.8 444.2,149.5" fill="#22A8DC"/>
<polygon points="447.6,131.6 452.4,129.8 452.4,150.0 447.6,151.8" fill="#1F9BCA"/>
<polygon points="449.0,127.6 444.2,129.4 447.6,131.6 452.4,129.8" fill="#2FADDE"/>
<polygon points="438.2,138.2 441.6,140.4 441.6,154.0 438.2,151.8" fill="#30BDB0"/>
<polygon points="441.6,140.4 446.4,138.7 446.4,152.2 441.6,154.0" fill="#2CAEA2"/>
<polygon points="443.0,136.4 438.2,138.2 441.6,140.4 446.4,138.7" fill="#3CC1B5"/>
<polygon points="432.1,147.1 435.6,149.3 435.6,156.2 432.1,154.0" fill="#72C88A"/>
<polygon points="435.6,149.3 440.4,147.5 440.4,154.5 435.6,156.2" fill="#69B87F"/>
<polygon points="437.0,145.3 432.1,147.1 435.6,149.3 440.4,147.5" fill="#7ACB91"/>
<polygon points="426.1,155.9 429.6,158.1 429.6,158.5 426.1,156.3" fill="#BECA60"/>
<polygon points="429.6,158.1 434.4,156.3 434.4,156.7 429.6,158.5" fill="#AFBA58"/>
<polygon points="430.9,154.1 426.1,155.9 429.6,158.1 434.4,156.3" fill="#C2CD6A"/>
<polygon points="420.1,158.5 423.5,160.7 423.5,167.0 420.1,164.7" fill="#EEC04A"/>
<polygon points="423.5,160.7 428.4,158.9 428.4,165.2 423.5,167.0" fill="#DBB144"/>
<polygon points="424.9,156.7 420.1,158.5 423.5,160.7 428.4,158.9" fill="#EFC455"/>
<polygon points="414.1,160.7 417.5,163.0 417.5,175.8 414.1,173.6" fill="#FAD636"/>
<polygon points="417.5,163.0 422.3,161.2 422.3,174.0 417.5,175.8" fill="#E6C532"/>
<polygon points="418.9,158.9 414.1,160.7 417.5,163.0 422.3,161.2" fill="#FAD842"/>
<polygon points="466.5,99.9 469.9,102.2 469.9,147.8 466.5,145.6" fill="#3B25A6"/>
<polygon points="469.9,102.2 474.7,100.4 474.7,146.0 469.9,147.8" fill="#362299"/>
<polygon points="471.3,98.1 466.5,99.9 469.9,102.2 474.7,100.4" fill="#4732AB"/>
<polygon points="460.5,108.2 463.9,110.5 463.9,150.1 460.5,147.8" fill="#2A5CE6"/>
<polygon points="463.9,110.5 468.7,108.7 468.7,148.3 463.9,150.1" fill="#2755D4"/>
<polygon points="465.3,106.5 460.5,108.2 463.9,110.5 468.7,108.7" fill="#3766E8"/>
<polygon points="454.4,116.5 457.9,118.8 457.9,152.3 454.4,150.1" fill="#2A8AEA"/>
<polygon points="457.9,118.8 462.7,117.0 462.7,150.5 457.9,152.3" fill="#277FD7"/>
<polygon points="459.3,114.8 454.4,116.5 457.9,118.8 462.7,117.0" fill="#3791EB"/>
<polygon points="448.4,124.9 451.9,127.1 451.9,154.6 448.4,152.3" fill="#22A8DC"/>
<polygon points="451.9,127.1 456.7,125.3 456.7,152.8 451.9,154.6" fill="#1F9BCA"/>
<polygon points="453.2,123.1 448.4,124.9 451.9,127.1 456.7,125.3" fill="#2FADDE"/>
<polygon points="442.4,133.2 445.8,135.4 445.8,156.8 442.4,154.6" fill="#30BDB0"/>
<polygon points="445.8,135.4 450.7,133.6 450.7,155.0 445.8,156.8" fill="#2CAEA2"/>
<polygon points="447.2,131.4 442.4,133.2 445.8,135.4 450.7,133.6" fill="#3CC1B5"/>
<polygon points="436.4,141.5 439.8,143.7 439.8,159.0 436.4,156.8" fill="#72C88A"/>
<polygon points="439.8,143.7 444.6,141.9 444.6,157.2 439.8,159.0" fill="#69B87F"/>
<polygon points="441.2,139.7 436.4,141.5 439.8,143.7 444.6,141.9" fill="#7ACB91"/>
<polygon points="430.4,149.8 433.8,152.0 433.8,161.3 430.4,159.0" fill="#BECA60"/>
<polygon points="433.8,152.0 438.6,150.2 438.6,159.5 433.8,161.3" fill="#AFBA58"/>
<polygon points="435.2,148.0 430.4,149.8 433.8,152.0 438.6,150.2" fill="#C2CD6A"/>
<polygon points="424.4,158.1 427.8,160.3 427.8,163.5 424.4,161.3" fill="#EEC04A"/>
<polygon points="427.8,160.3 432.6,158.5 432.6,161.7 427.8,163.5" fill="#DBB144"/>
<polygon points="429.2,156.3 424.4,158.1 427.8,160.3 432.6,158.5" fill="#EFC455"/>
<polygon points="418.4,163.5 421.8,165.8 421.8,168.6 418.4,166.4" fill="#FAD636"/>
<polygon points="421.8,165.8 426.6,164.0 426.6,166.8 421.8,168.6" fill="#E6C532"/>
<polygon points="423.2,161.7 418.4,163.5 421.8,165.8 426.6,164.0" fill="#FAD842"/>
<polygon points="470.7,97.0 474.2,99.3 474.2,150.6 470.7,148.4" fill="#3B25A6"/>
<polygon points="474.2,99.3 479.0,97.5 479.0,148.8 474.2,150.6" fill="#362299"/>
<polygon points="475.6,95.2 470.7,97.0 474.2,99.3 479.0,97.5" fill="#4732AB"/>
<polygon points="464.7,101.9 468.2,104.1 468.2,152.9 464.7,150.6" fill="#2A5CE6"/>
<polygon points="468.2,104.1 473.0,102.3 473.0,151.1 468.2,152.9" fill="#2755D4"/>
<polygon points="469.5,100.1 464.7,101.9 468.2,104.1 473.0,102.3" fill="#3766E8"/>
<polygon points="458.7,106.7 462.1,108.9 462.1,155.1 458.7,152.9" fill="#2A8AEA"/>
<polygon points="462.1,108.9 467.0,107.1 467.0,153.3 462.1,155.1" fill="#277FD7"/>
<polygon points="463.5,104.9 458.7,106.7 462.1,108.9 467.0,107.1" fill="#3791EB"/>
<polygon points="452.7,111.6 456.1,113.8 456.1,157.3 452.7,155.1" fill="#22A8DC"/>
<polygon points="456.1,113.8 460.9,112.0 460.9,155.6 456.1,157.3" fill="#1F9BCA"/>
<polygon points="457.5,109.8 452.7,111.6 456.1,113.8 460.9,112.0" fill="#2FADDE"/>
<polygon points="446.7,116.4 450.1,118.6 450.1,159.6 446.7,157.4" fill="#30BDB0"/>
<polygon points="450.1,118.6 454.9,116.8 454.9,157.8 450.1,159.6" fill="#2CAEA2"/>
<polygon points="451.5,114.6 446.7,116.4 450.1,118.6 454.9,116.8" fill="#3CC1B5"/>
<polygon points="440.7,121.2 444.1,123.5 444.1,161.8 440.7,159.6" fill="#72C88A"/>
<polygon points="444.1,123.5 448.9,121.7 448.9,160.0 444.1,161.8" fill="#69B87F"/>
<polygon points="445.5,119.4 440.7,121.2 444.1,123.5 448.9,121.7" fill="#7ACB91"/>
<polygon points="434.7,126.1 438.1,128.3 438.1,164.1 434.7,161.8" fill="#BECA60"/>
<polygon points="438.1,128.3 442.9,126.5 442.9,162.3 438.1,164.1" fill="#AFBA58"/>
<polygon points="439.5,124.3 434.7,126.1 438.1,128.3 442.9,126.5" fill="#C2CD6A"/>
<polygon points="428.7,130.9 432.1,133.2 432.1,166.3 428.7,164.1" fill="#EEC04A"/>
<polygon points="432.1,133.2 436.9,131.4 436.9,164.5 432.1,166.3" fill="#DBB144"/>
<polygon points="433.5,129.1 428.7,130.9 432.1,133.2 436.9,131.4" fill="#EFC455"/>
<polygon points="422.7,135.8 426.1,138.0 426.1,168.5 422.7,166.3" fill="#FAD636"/>
<polygon points="426.1,138.0 430.9,136.2 430.9,166.8 426.1,168.5" fill="#E6C532"/>
<polygon points="427.5,134.0 422.7,135.8 426.1,138.0 430.9,136.2" fill="#FAD842"/>
<polygon points="475.0,101.2 478.4,103.5 478.4,153.4 475.0,151.2" fill="#3B25A6"/>
<polygon points="478.4,103.5 483.2,101.7 483.2,151.6 478.4,153.4" fill="#362299"/>
<polygon points="479.8,99.4 475.0,101.2 478.4,103.5 483.2,101.7" fill="#4732AB"/>
<polygon points="469.0,105.8 472.4,108.0 472.4,155.7 469.0,153.4" fill="#2A5CE6"/>
<polygon points="472.4,108.0 477.2,106.2 477.2,153.9 472.4,155.7" fill="#2755D4"/>
<polygon points="473.8,104.0 469.0,105.8 472.4,108.0 477.2,106.2" fill="#3766E8"/>
<polygon points="463.0,110.4 466.4,112.6 466.4,157.9 463.0,155.7" fill="#2A8AEA"/>
<polygon points="466.4,112.6 471.2,110.8 471.2,156.1 466.4,157.9" fill="#277FD7"/>
<polygon points="467.8,108.6 463.0,110.4 466.4,112.6 471.2,110.8" fill="#3791EB"/>
<polygon points="457.0,114.9 460.4,117.1 460.4,160.1 457.0,157.9" fill="#22A8DC"/>
<polygon points="460.4,117.1 465.2,115.4 465.2,158.3 460.4,160.1" fill="#1F9BCA"/>
<polygon points="461.8,113.1 457.0,114.9 460.4,117.1 465.2,115.4" fill="#2FADDE"/>
<polygon points="451.0,119.5 454.4,121.7 454.4,162.4 451.0,160.1" fill="#30BDB0"/>
<polygon points="454.4,121.7 459.2,119.9 459.2,160.6 454.4,162.4" fill="#2CAEA2"/>
<polygon points="455.8,117.7 451.0,119.5 454.4,121.7 459.2,119.9" fill="#3CC1B5"/>
<polygon points="445.0,124.0 448.4,126.3 448.4,164.6 445.0,162.4" fill="#72C88A"/>
<polygon points="448.4,126.3 453.2,124.5 453.2,162.8 448.4,164.6" fill="#69B87F"/>
<polygon points="449.8,122.2 445.0,124.0 448.4,126.3 453.2,124.5" fill="#7ACB91"/>
<polygon points="439.0,128.6 442.4,130.8 442.4,166.9 439.0,164.6" fill="#BECA60"/>
<polygon points="442.4,130.8 447.2,129.0 447.2,165.1 442.4,166.9" fill="#AFBA58"/>
<polygon points="443.8,126.8 439.0,128.6 442.4,130.8 447.2,129.0" fill="#C2CD6A"/>
<polygon points="432.9,133.1 436.4,135.4 436.4,169.1 432.9,166.9" fill="#EEC04A"/>
<polygon points="436.4,135.4 441.2,133.6 441.2,167.3 436.4,169.1" fill="#DBB144"/>
<polygon points="437.8,131.4 432.9,133.1 436.4,135.4 441.2,133.6" fill="#EFC455"/>
<polygon points="426.9,137.7 430.4,139.9 430.4,171.3 426.9,169.1" fill="#FAD636"/>
<polygon points="430.4,139.9 435.2,138.1 435.2,169.5 430.4,171.3" fill="#E6C532"/>
<polygon points="431.7,135.9 426.9,137.7 430.4,139.9 435.2,138.1" fill="#FAD842"/>
<polygon points="479.3,126.9 482.7,129.1 482.7,156.2 479.3,154.0" fill="#3B25A6"/>
<polygon points="482.7,129.1 487.5,127.3 487.5,154.4 482.7,156.2" fill="#362299"/>
<polygon points="484.1,125.1 479.3,126.9 482.7,129.1 487.5,127.3" fill="#4732AB"/>
<polygon points="473.3,128.7 476.7,130.9 476.7,158.4 473.3,156.2" fill="#2A5CE6"/>
<polygon points="476.7,130.9 481.5,129.1 481.5,156.6 476.7,158.4" fill="#2755D4"/>
<polygon points="478.1,126.9 473.3,128.7 476.7,130.9 481.5,129.1" fill="#3766E8"/>
<polygon points="467.3,130.6 470.7,132.8 470.7,160.7 467.3,158.4" fill="#2A8AEA"/>
<polygon points="470.7,132.8 475.5,131.0 475.5,158.9 470.7,160.7" fill="#277FD7"/>
<polygon points="472.1,128.8 467.3,130.6 470.7,132.8 475.5,131.0" fill="#3791EB"/>
<polygon points="461.3,132.4 464.7,134.6 464.7,162.9 461.3,160.7" fill="#22A8DC"/>
<polygon points="464.7,134.6 469.5,132.8 469.5,161.1 464.7,162.9" fill="#1F9BCA"/>
<polygon points="466.1,130.6 461.3,132.4 464.7,134.6 469.5,132.8" fill="#2FADDE"/>
<polygon points="455.3,134.2 458.7,136.5 458.7,165.2 455.3,162.9" fill="#30BDB0"/>
<polygon points="458.7,136.5 463.5,134.7 463.5,163.4 458.7,165.2" fill="#2CAEA2"/>
<polygon points="460.1,132.5 455.3,134.2 458.7,136.5 463.5,134.7" fill="#3CC1B5"/>
<polygon points="449.2,136.1 452.7,138.3 452.7,167.4 449.2,165.2" fill="#72C88A"/>
<polygon points="452.7,138.3 457.5,136.5 457.5,165.6 452.7,167.4" fill="#69B87F"/>
<polygon points="454.1,134.3 449.2,136.1 452.7,138.3 457.5,136.5" fill="#7ACB91"/>
<polygon points="443.2,137.9 446.7,140.2 446.7,169.6 443.2,167.4" fill="#BECA60"/>
<polygon points="446.7,140.2 451.5,138.4 451.5,167.8 446.7,169.6" fill="#AFBA58"/>
<polygon points="448.0,136.1 443.2,137.9 446.7,140.2 451.5,138.4" fill="#C2CD6A"/>
<polygon points="437.2,139.8 440.6,142.0 440.6,171.9 437.2,169.6" fill="#EEC04A"/>
<polygon points="440.6,142.0 445.5,140.2 445.5,170.1 440.6,171.9" fill="#DBB144"/>
<polygon points="442.0,138.0 437.2,139.8 440.6,142.0 445.5,140.2" fill="#EFC455"/>
<polygon points="431.2,141.6 434.6,143.9 434.6,174.1 431.2,171.9" fill="#FAD636"/>
<polygon points="434.6,143.9 439.4,142.1 439.4,172.3 434.6,174.1" fill="#E6C532"/>
<polygon points="436.0,139.8 431.2,141.6 434.6,143.9 439.4,142.1" fill="#FAD842"/>
<polygon points="483.6,139.6 487.0,141.9 487.0,159.0 483.6,156.8" fill="#3B25A6"/>
<polygon points="487.0,141.9 491.8,140.1 491.8,157.2 487.0,159.0" fill="#362299"/>
<polygon points="488.4,137.8 483.6,139.6 487.0,141.9 491.8,140.1" fill="#4732AB"/>
<polygon points="477.6,143.3 481.0,145.5 481.0,161.2 477.6,159.0" fill="#2A5CE6"/>
<polygon points="481.0,145.5 485.8,143.7 485.8,159.4 481.0,161.2" fill="#2755D4"/>
<polygon points="482.4,141.5 477.6,143.3 481.0,145.5 485.8,143.7" fill="#3766E8"/>
<polygon points="471.5,148.4 475.0,150.7 475.0,163.5 471.5,161.2" fill="#2A8AEA"/>
<polygon points="475.0,150.7 479.8,148.9 479.8,161.7 475.0,163.5" fill="#277FD7"/>
<polygon points="476.4,146.6 471.5,148.4 475.0,150.7 479.8,148.9" fill="#3791EB"/>
<polygon points="465.5,154.6 469.0,156.8 469.0,165.7 465.5,163.5" fill="#22A8DC"/>
<polygon points="469.0,156.8 473.8,155.0 473.8,163.9 469.0,165.7" fill="#1F9BCA"/>
<polygon points="470.3,152.8 465.5,154.6 469.0,156.8 473.8,155.0" fill="#2FADDE"/>
<polygon points="459.5,161.7 462.9,163.9 462.9,167.9 459.5,165.7" fill="#30BDB0"/>
<polygon points="462.9,163.9 467.8,162.1 467.8,166.2 462.9,167.9" fill="#2CAEA2"/>
<polygon points="464.3,159.9 459.5,161.7 462.9,163.9 467.8,162.1" fill="#3CC1B5"/>
<polygon points="453.5,168.0 456.9,170.2 456.9,171.8 453.5,169.5" fill="#72C88A"/>
<polygon points="456.9,170.2 461.7,168.4 461.7,170.0 456.9,171.8" fill="#69B87F"/>
<polygon points="458.3,166.2 453.5,168.0 456.9,170.2 461.7,168.4" fill="#7ACB91"/>
<polygon points="447.5,170.2 450.9,172.4 450.9,180.3 447.5,178.1" fill="#BECA60"/>
<polygon points="450.9,172.4 455.7,170.6 455.7,178.5 450.9,180.3" fill="#AFBA58"/>
<polygon points="452.3,168.4 447.5,170.2 450.9,172.4 455.7,170.6" fill="#C2CD6A"/>
<polygon points="441.5,172.4 444.9,174.7 444.9,189.6 441.5,187.4" fill="#EEC04A"/>
<polygon points="444.9,174.7 449.7,172.9 449.7,187.8 444.9,189.6" fill="#DBB144"/>
<polygon points="446.3,170.6 441.5,172.4 444.9,174.7 449.7,172.9" fill="#EFC455"/>
<polygon points="435.5,174.7 438.9,176.9 438.9,199.5 435.5,197.2" fill="#FAD636"/>
<polygon points="438.9,176.9 443.7,175.1 443.7,197.7 438.9,199.5" fill="#E6C532"/>
<polygon points="440.3,172.9 435.5,174.7 438.9,176.9 443.7,175.1" fill="#FAD842"/>
<polygon points="487.8,142.4 491.3,144.7 491.3,161.8 487.8,159.5" fill="#3B25A6"/>
<polygon points="491.3,144.7 496.1,142.9 496.1,160.0 491.3,161.8" fill="#362299"/>
<polygon points="492.7,140.6 487.8,142.4 491.3,144.7 496.1,142.9" fill="#4732AB"/>
<polygon points="481.8,145.7 485.3,147.9 485.3,164.0 481.8,161.8" fill="#2A5CE6"/>
<polygon points="485.3,147.9 490.1,146.1 490.1,162.2 485.3,164.0" fill="#2755D4"/>
<polygon points="486.6,143.9 481.8,145.7 485.3,147.9 490.1,146.1" fill="#3766E8"/>
<polygon points="475.8,149.9 479.2,152.2 479.2,166.3 475.8,164.0" fill="#2A8AEA"/>
<polygon points="479.2,152.2 484.1,150.4 484.1,164.5 479.2,166.3" fill="#277FD7"/>
<polygon points="480.6,148.2 475.8,149.9 479.2,152.2 484.1,150.4" fill="#3791EB"/>
<polygon points="469.8,155.0 473.2,157.2 473.2,168.5 469.8,166.3" fill="#22A8DC"/>
<polygon points="473.2,157.2 478.0,155.4 478.0,166.7 473.2,168.5" fill="#1F9BCA"/>
<polygon points="474.6,153.2 469.8,155.0 473.2,157.2 478.0,155.4" fill="#2FADDE"/>
<polygon points="463.8,160.6 467.2,162.8 467.2,170.7 463.8,168.5" fill="#30BDB0"/>
<polygon points="467.2,162.8 472.0,161.0 472.0,168.9 467.2,170.7" fill="#2CAEA2"/>
<polygon points="468.6,158.8 463.8,160.6 467.2,162.8 472.0,161.0" fill="#3CC1B5"/>
<polygon points="457.8,166.8 461.2,169.0 461.2,173.0 457.8,170.7" fill="#72C88A"/>
<polygon points="461.2,169.0 466.0,167.2 466.0,171.2 461.2,173.0" fill="#69B87F"/>
<polygon points="462.6,165.0 457.8,166.8 461.2,169.0 466.0,167.2" fill="#7ACB91"/>
<polygon points="451.8,173.0 455.2,175.2 455.2,175.7 451.8,173.5" fill="#BECA60"/>
<polygon points="455.2,175.2 460.0,173.4 460.0,173.9 455.2,175.7" fill="#AFBA58"/>
<polygon points="456.6,171.2 451.8,173.0 455.2,175.2 460.0,173.4" fill="#C2CD6A"/>
<polygon points="445.8,175.2 449.2,177.5 449.2,182.9 445.8,180.7" fill="#EEC04A"/>
<polygon points="449.2,177.5 454.0,175.7 454.0,181.1 449.2,182.9" fill="#DBB144"/>
<polygon points="450.6,173.4 445.8,175.2 449.2,177.5 454.0,175.7" fill="#EFC455"/>
<polygon points="439.8,177.5 443.2,179.7 443.2,190.5 439.8,188.3" fill="#FAD636"/>
<polygon points="443.2,179.7 448.0,177.9 448.0,188.7 443.2,190.5" fill="#E6C532"/>
<polygon points="444.6,175.7 439.8,177.5 443.2,179.7 448.0,177.9" fill="#FAD842"/>
<polygon points="492.1,137.5 495.5,139.7 495.5,164.6 492.1,162.3" fill="#3B25A6"/>
<polygon points="495.5,139.7 500.3,137.9 500.3,162.8 495.5,164.6" fill="#362299"/>
<polygon points="496.9,135.7 492.1,137.5 495.5,139.7 500.3,137.9" fill="#4732AB"/>
<polygon points="486.1,140.8 489.5,143.0 489.5,166.8 486.1,164.6" fill="#2A5CE6"/>
<polygon points="489.5,143.0 494.3,141.2 494.3,165.0 489.5,166.8" fill="#2755D4"/>
<polygon points="490.9,139.0 486.1,140.8 489.5,143.0 494.3,141.2" fill="#3766E8"/>
<polygon points="480.1,145.1 483.5,147.3 483.5,169.0 480.1,166.8" fill="#2A8AEA"/>
<polygon points="483.5,147.3 488.3,145.5 488.3,167.3 483.5,169.0" fill="#277FD7"/>
<polygon points="484.9,143.3 480.1,145.1 483.5,147.3 488.3,145.5" fill="#3791EB"/>
<polygon points="474.1,150.1 477.5,152.3 477.5,171.3 474.1,169.1" fill="#22A8DC"/>
<polygon points="477.5,152.3 482.3,150.5 482.3,169.5 477.5,171.3" fill="#1F9BCA"/>
<polygon points="478.9,148.3 474.1,150.1 477.5,152.3 482.3,150.5" fill="#2FADDE"/>
<polygon points="468.1,155.8 471.5,158.0 471.5,173.5 468.1,171.3" fill="#30BDB0"/>
<polygon points="471.5,158.0 476.3,156.2 476.3,171.7 471.5,173.5" fill="#2CAEA2"/>
<polygon points="472.9,154.0 468.1,155.8 471.5,158.0 476.3,156.2" fill="#3CC1B5"/>
<polygon points="462.1,162.0 465.5,164.3 465.5,175.8 462.1,173.5" fill="#72C88A"/>
<polygon points="465.5,164.3 470.3,162.5 470.3,174.0 465.5,175.8" fill="#69B87F"/>
<polygon points="466.9,160.2 462.1,162.0 465.5,164.3 470.3,162.5" fill="#7ACB91"/>
<polygon points="456.1,168.8 459.5,171.0 459.5,178.0 456.1,175.8" fill="#BECA60"/>
<polygon points="459.5,171.0 464.3,169.2 464.3,176.2 459.5,178.0" fill="#AFBA58"/>
<polygon points="460.9,167.0 456.1,168.8 459.5,171.0 464.3,169.2" fill="#C2CD6A"/>
<polygon points="450.0,176.0 453.5,178.2 453.5,180.2 450.0,178.0" fill="#EEC04A"/>
<polygon points="453.5,178.2 458.3,176.4 458.3,178.5 453.5,180.2" fill="#DBB144"/>
<polygon points="454.9,174.2 450.0,176.0 453.5,178.2 458.3,176.4" fill="#EFC455"/>
<polygon points="444.0,180.3 447.5,182.5 447.5,185.9 444.0,183.7" fill="#FAD636"/>
<polygon points="447.5,182.5 452.3,180.7 452.3,184.1 447.5,185.9" fill="#E6C532"/>
<polygon points="448.8,178.5 444.0,180.3 447.5,182.5 452.3,180.7" fill="#FAD842"/>
<polygon points="496.4,137.4 499.8,139.7 499.8,167.4 496.4,165.1" fill="#3B25A6"/>
<polygon points="499.8,139.7 504.6,137.9 504.6,165.6 499.8,167.4" fill="#362299"/>
<polygon points="501.2,135.6 496.4,137.4 499.8,139.7 504.6,137.9" fill="#4732AB"/>
<polygon points="490.4,140.8 493.8,143.0 493.8,169.6 490.4,167.4" fill="#2A5CE6"/>
<polygon points="493.8,143.0 498.6,141.2 498.6,167.8 493.8,169.6" fill="#2755D4"/>
<polygon points="495.2,139.0 490.4,140.8 493.8,143.0 498.6,141.2" fill="#3766E8"/>
<polygon points="484.4,145.2 487.8,147.5 487.8,171.8 484.4,169.6" fill="#2A8AEA"/>
<polygon points="487.8,147.5 492.6,145.7 492.6,170.0 487.8,171.8" fill="#277FD7"/>
<polygon points="489.2,143.4 484.4,145.2 487.8,147.5 492.6,145.7" fill="#3791EB"/>
<polygon points="478.4,150.5 481.8,152.7 481.8,174.1 478.4,171.8" fill="#22A8DC"/>
<polygon points="481.8,152.7 486.6,151.0 486.6,172.3 481.8,174.1" fill="#1F9BCA"/>
<polygon points="483.2,148.7 478.4,150.5 481.8,152.7 486.6,151.0" fill="#2FADDE"/>
<polygon points="472.4,156.5 475.8,158.7 475.8,176.3 472.4,174.1" fill="#30BDB0"/>
<polygon points="475.8,158.7 480.6,156.9 480.6,174.5 475.8,176.3" fill="#2CAEA2"/>
<polygon points="477.2,154.7 472.4,156.5 475.8,158.7 480.6,156.9" fill="#3CC1B5"/>
<polygon points="466.3,163.0 469.8,165.3 469.8,178.6 466.3,176.3" fill="#72C88A"/>
<polygon points="469.8,165.3 474.6,163.5 474.6,176.8 469.8,178.6" fill="#69B87F"/>
<polygon points="471.2,161.2 466.3,163.0 469.8,165.3 474.6,163.5" fill="#7ACB91"/>
<polygon points="460.3,170.1 463.8,172.4 463.8,180.8 460.3,178.6" fill="#BECA60"/>
<polygon points="463.8,172.4 468.6,170.6 468.6,179.0 463.8,180.8" fill="#AFBA58"/>
<polygon points="465.1,168.4 460.3,170.1 463.8,172.4 468.6,170.6" fill="#C2CD6A"/>
<polygon points="454.3,177.8 457.7,180.0 457.7,183.0 454.3,180.8" fill="#EEC04A"/>
<polygon points="457.7,180.0 462.6,178.2 462.6,181.2 457.7,183.0" fill="#DBB144"/>
<polygon points="459.1,176.0 454.3,177.8 457.7,180.0 462.6,178.2" fill="#EFC455"/>
<polygon points="448.3,183.0 451.7,185.3 451.7,188.1 448.3,185.9" fill="#FAD636"/>
<polygon points="451.7,185.3 456.5,183.5 456.5,186.3 451.7,188.1" fill="#E6C532"/>
<polygon points="453.1,181.2 448.3,183.0 451.7,185.3 456.5,183.5" fill="#FAD842"/>
<polygon points="500.7,156.5 504.1,158.7 504.1,170.1 500.7,167.9" fill="#3B25A6"/>
<polygon points="504.1,158.7 508.9,156.9 508.9,168.3 504.1,170.1" fill="#362299"/>
<polygon points="505.5,154.7 500.7,156.5 504.1,158.7 508.9,156.9" fill="#4732AB"/>
<polygon points="494.7,159.7 498.1,161.9 498.1,172.4 494.7,170.1" fill="#2A5CE6"/>
<polygon points="498.1,161.9 502.9,160.1 502.9,170.6 498.1,172.4" fill="#2755D4"/>
<polygon points="499.5,157.9 494.7,159.7 498.1,161.9 502.9,160.1" fill="#3766E8"/>
<polygon points="488.6,163.9 492.1,166.2 492.1,174.6 488.6,172.4" fill="#2A8AEA"/>
<polygon points="492.1,166.2 496.9,164.4 496.9,172.8 492.1,174.6" fill="#277FD7"/>
<polygon points="493.5,162.1 488.6,163.9 492.1,166.2 496.9,164.4" fill="#3791EB"/>
<polygon points="482.6,168.9 486.1,171.1 486.1,176.9 482.6,174.6" fill="#22A8DC"/>
<polygon points="486.1,171.1 490.9,169.3 490.9,175.1 486.1,176.9" fill="#1F9BCA"/>
<polygon points="487.4,167.1 482.6,168.9 486.1,171.1 490.9,169.3" fill="#2FADDE"/>
<polygon points="476.6,174.4 480.0,176.6 480.0,179.1 476.6,176.9" fill="#30BDB0"/>
<polygon points="480.0,176.6 484.9,174.8 484.9,177.3 480.0,179.1" fill="#2CAEA2"/>
<polygon points="481.4,172.6 476.6,174.4 480.0,176.6 484.9,174.8" fill="#3CC1B5"/>
<polygon points="470.6,179.1 474.0,181.3 474.0,182.7 470.6,180.5" fill="#72C88A"/>
<polygon points="474.0,181.3 478.8,179.5 478.8,180.9 474.0,182.7" fill="#69B87F"/>
<polygon points="475.4,177.3 470.6,179.1 474.0,181.3 478.8,179.5" fill="#7ACB91"/>
<polygon points="464.6,181.3 468.0,183.6 468.0,189.3 464.6,187.0" fill="#BECA60"/>
<polygon points="468.0,183.6 472.8,181.8 472.8,187.5 468.0,189.3" fill="#AFBA58"/>
<polygon points="469.4,179.6 464.6,181.3 468.0,183.6 472.8,181.8" fill="#C2CD6A"/>
<polygon points="458.6,183.6 462.0,185.8 462.0,196.3 458.6,194.1" fill="#EEC04A"/>
<polygon points="462.0,185.8 466.8,184.0 466.8,194.5 462.0,196.3" fill="#DBB144"/>
<polygon points="463.4,181.8 458.6,183.6 462.0,185.8 466.8,184.0" fill="#EFC455"/>
<polygon points="452.6,185.8 456.0,188.1 456.0,203.8 452.6,201.5" fill="#FAD636"/>
<polygon points="456.0,188.1 460.8,186.3 460.8,202.0 456.0,203.8" fill="#E6C532"/>
<polygon points="457.4,184.0 452.6,185.8 456.0,188.1 460.8,186.3" fill="#FAD842"/>
<polygon points="504.9,160.4 508.4,162.7 508.4,172.9 504.9,170.7" fill="#3B25A6"/>
<polygon points="508.4,162.7 513.2,160.9 513.2,171.1 508.4,172.9" fill="#362299"/>
<polygon points="509.8,158.6 504.9,160.4 508.4,162.7 513.2,160.9" fill="#4732AB"/>
<polygon points="498.9,163.9 502.4,166.1 502.4,175.2 498.9,172.9" fill="#2A5CE6"/>
<polygon points="502.4,166.1 507.2,164.3 507.2,173.4 502.4,175.2" fill="#2755D4"/>
<polygon points="503.7,162.1 498.9,163.9 502.4,166.1 507.2,164.3" fill="#3766E8"/>
<polygon points="492.9,168.5 496.3,170.7 496.3,177.4 492.9,175.2" fill="#2A8AEA"/>
<polygon points="496.3,170.7 501.2,168.9 501.2,175.6 496.3,177.4" fill="#277FD7"/>
<polygon points="497.7,166.7 492.9,168.5 496.3,170.7 501.2,168.9" fill="#3791EB"/>
<polygon points="486.9,174.0 490.3,176.3 490.3,179.6 486.9,177.4" fill="#22A8DC"/>
<polygon points="490.3,176.3 495.1,174.5 495.1,177.9 490.3,179.6" fill="#1F9BCA"/>
<polygon points="491.7,172.2 486.9,174.0 490.3,176.3 495.1,174.5" fill="#2FADDE"/>
<polygon points="480.9,179.7 484.3,181.9 484.3,182.5 480.9,180.3" fill="#30BDB0"/>
<polygon points="484.3,181.9 489.1,180.1 489.1,180.7 484.3,182.5" fill="#2CAEA2"/>
<polygon points="485.7,177.9 480.9,179.7 484.3,181.9 489.1,180.1" fill="#3CC1B5"/>
<polygon points="474.9,181.9 478.3,184.1 478.3,189.5 474.9,187.2" fill="#72C88A"/>
<polygon points="478.3,184.1 483.1,182.3 483.1,187.7 478.3,189.5" fill="#69B87F"/>
<polygon points="479.7,180.1 474.9,181.9 478.3,184.1 483.1,182.3" fill="#7ACB91"/>
<polygon points="468.9,184.1 472.3,186.4 472.3,197.0 468.9,194.8" fill="#BECA60"/>
<polygon points="472.3,186.4 477.1,184.6 477.1,195.2 472.3,197.0" fill="#AFBA58"/>
<polygon points="473.7,182.3 468.9,184.1 472.3,186.4 477.1,184.6" fill="#C2CD6A"/>
<polygon points="462.9,186.4 466.3,188.6 466.3,205.1 462.9,202.8" fill="#EEC04A"/>
<polygon points="466.3,188.6 471.1,186.8 471.1,203.3 466.3,205.1" fill="#DBB144"/>
<polygon points="467.7,184.6 462.9,186.4 466.3,188.6 471.1,186.8" fill="#EFC455"/>
<polygon points="456.9,188.6 460.3,190.8 460.3,213.7 456.9,211.4" fill="#FAD636"/>
<polygon points="460.3,190.8 465.1,189.1 465.1,211.9 460.3,213.7" fill="#E6C532"/>
<polygon points="461.7,186.8 456.9,188.6 460.3,190.8 465.1,189.1" fill="#FAD842"/>
<polygon points="509.2,173.5 512.6,175.7 512.6,177.1 509.2,174.9" fill="#3B25A6"/>
<polygon points="512.6,175.7 517.4,173.9 517.4,175.3 512.6,177.1" fill="#362299"/>
<polygon points="514.0,171.7 509.2,173.5 512.6,175.7 517.4,173.9" fill="#4732AB"/>
<polygon points="503.2,175.7 506.6,178.0 506.6,182.9 503.2,180.6" fill="#2A5CE6"/>
<polygon points="506.6,178.0 511.4,176.2 511.4,181.1 506.6,182.9" fill="#2755D4"/>
<polygon points="508.0,173.9 503.2,175.7 506.6,178.0 511.4,176.2" fill="#3766E8"/>
<polygon points="497.2,178.0 500.6,180.2 500.6,188.6 497.2,186.4" fill="#2A8AEA"/>
<polygon points="500.6,180.2 505.4,178.4 505.4,186.8 500.6,188.6" fill="#277FD7"/>
<polygon points="502.0,176.2 497.2,178.0 500.6,180.2 505.4,178.4" fill="#3791EB"/>
<polygon points="491.2,180.2 494.6,182.4 494.6,194.3 491.2,192.1" fill="#22A8DC"/>
<polygon points="494.6,182.4 499.4,180.6 499.4,192.6 494.6,194.3" fill="#1F9BCA"/>
<polygon points="496.0,178.4 491.2,180.2 494.6,182.4 499.4,180.6" fill="#2FADDE"/>
<polygon points="485.2,182.4 488.6,184.7 488.6,200.1 485.2,197.9" fill="#30BDB0"/>
<polygon points="488.6,184.7 493.4,182.9 493.4,198.3 488.6,200.1" fill="#2CAEA2"/>
<polygon points="490.0,180.7 485.2,182.4 488.6,184.7 493.4,182.9" fill="#3CC1B5"/>
<polygon points="479.2,184.7 482.6,186.9 482.6,205.8 479.2,203.6" fill="#72C88A"/>
<polygon points="482.6,186.9 487.4,185.1 487.4,204.0 482.6,205.8" fill="#69B87F"/>
<polygon points="484.0,182.9 479.2,184.7 482.6,186.9 487.4,185.1" fill="#7ACB91"/>
<polygon points="473.2,186.9 476.6,189.2 476.6,211.6 473.2,209.3" fill="#BECA60"/>
<polygon points="476.6,189.2 481.4,187.4 481.4,209.8 476.6,211.6" fill="#AFBA58"/>
<polygon points="478.0,185.1 473.2,186.9 476.6,189.2 481.4,187.4" fill="#C2CD6A"/>
<polygon points="467.1,189.2 470.6,191.4 470.6,217.3 467.1,215.1" fill="#EEC04A"/>
<polygon points="470.6,191.4 475.4,189.6 475.4,215.5 470.6,217.3" fill="#DBB144"/>
<polygon points="472.0,187.4 467.1,189.2 470.6,191.4 475.4,189.6" fill="#EFC455"/>
<polygon points="461.1,191.4 464.6,193.6 464.6,223.0 461.1,220.8" fill="#FAD636"/>
<polygon points="464.6,193.6 469.4,191.8 469.4,221.2 464.6,223.0" fill="#E6C532"/>
<polygon points="465.9,189.6 461.1,191.4 464.6,193.6 469.4,191.8" fill="#FAD842"/>
<polygon points="513.5,176.3 516.9,178.5 516.9,179.9 513.5,177.7" fill="#3B25A6"/>
<polygon points="516.9,178.5 521.7,176.7 521.7,178.1 516.9,179.9" fill="#362299"/>
<polygon points="518.3,174.5 513.5,176.3 516.9,178.5 521.7,176.7" fill="#4732AB"/>
<polygon points="507.5,178.5 510.9,180.7 510.9,186.5 507.5,184.2" fill="#2A5CE6"/>
<polygon points="510.9,180.7 515.7,179.0 515.7,184.7 510.9,186.5" fill="#2755D4"/>
<polygon points="512.3,176.7 507.5,178.5 510.9,180.7 515.7,179.0" fill="#3766E8"/>
<polygon points="501.5,180.8 504.9,183.0 504.9,193.0 501.5,190.7" fill="#2A8AEA"/>
<polygon points="504.9,183.0 509.7,181.2 509.7,191.2 504.9,193.0" fill="#277FD7"/>
<polygon points="506.3,179.0 501.5,180.8 504.9,183.0 509.7,181.2" fill="#3791EB"/>
<polygon points="495.5,183.0 498.9,185.2 498.9,199.5 495.5,197.3" fill="#22A8DC"/>
<polygon points="498.9,185.2 503.7,183.4 503.7,197.7 498.9,199.5" fill="#1F9BCA"/>
<polygon points="500.3,181.2 495.5,183.0 498.9,185.2 503.7,183.4" fill="#2FADDE"/>
<polygon points="489.5,185.2 492.9,187.5 492.9,206.0 489.5,203.8" fill="#30BDB0"/>
<polygon points="492.9,187.5 497.7,185.7 497.7,204.2 492.9,206.0" fill="#2CAEA2"/>
<polygon points="494.3,183.4 489.5,185.2 492.9,187.5 497.7,185.7" fill="#3CC1B5"/>
<polygon points="483.4,187.5 486.9,189.7 486.9,212.5 483.4,210.3" fill="#72C88A"/>
<polygon points="486.9,189.7 491.7,187.9 491.7,210.7 486.9,212.5" fill="#69B87F"/>
<polygon points="488.3,185.7 483.4,187.5 486.9,189.7 491.7,187.9" fill="#7ACB91"/>
<polygon points="477.4,189.7 480.9,191.9 480.9,219.1 477.4,216.8" fill="#BECA60"/>
<polygon points="480.9,191.9 485.7,190.2 485.7,217.3 480.9,219.1" fill="#AFBA58"/>
<polygon points="482.2,187.9 477.4,189.7 480.9,191.9 485.7,190.2" fill="#C2CD6A"/>
<polygon points="471.4,192.0 474.8,194.2 474.8,225.6 471.4,223.3" fill="#EEC04A"/>
<polygon points="474.8,194.2 479.7,192.4 479.7,223.8 474.8,225.6" fill="#DBB144"/>
<polygon points="476.2,190.2 471.4,192.0 474.8,194.2 479.7,192.4" fill="#EFC455"/>
<polygon points="465.4,194.2 468.8,196.4 468.8,232.1 465.4,229.9" fill="#FAD636"/>
<polygon points="468.8,196.4 473.6,194.6 473.6,230.3 468.8,232.1" fill="#E6C532"/>
<polygon points="470.2,192.4 465.4,194.2 468.8,196.4 473.6,194.6" fill="#FAD842"/>
<polygon points="517.8,179.1 521.2,181.3 521.2,182.7 517.8,180.5" fill="#3B25A6"/>
<polygon points="521.2,181.3 526.0,179.5 526.0,180.9 521.2,182.7" fill="#362299"/>
<polygon points="522.6,177.3 517.8,179.1 521.2,181.3 526.0,179.5" fill="#4732AB"/>
<polygon points="511.8,181.3 515.2,183.5 515.2,189.6 511.8,187.4" fill="#2A5CE6"/>
<polygon points="515.2,183.5 520.0,181.7 520.0,187.8 515.2,189.6" fill="#2755D4"/>
<polygon points="516.6,179.5 511.8,181.3 515.2,183.5 520.0,181.7" fill="#3766E8"/>
<polygon points="505.7,183.5 509.2,185.8 509.2,196.5 505.7,194.3" fill="#2A8AEA"/>
<polygon points="509.2,185.8 514.0,184.0 514.0,194.8 509.2,196.5" fill="#277FD7"/>
<polygon points="510.6,181.7 505.7,183.5 509.2,185.8 514.0,184.0" fill="#3791EB"/>
<polygon points="499.7,185.8 503.2,188.0 503.2,203.5 499.7,201.2" fill="#22A8DC"/>
<polygon points="503.2,188.0 508.0,186.2 508.0,201.7 503.2,203.5" fill="#1F9BCA"/>
<polygon points="504.5,184.0 499.7,185.8 503.2,188.0 508.0,186.2" fill="#2FADDE"/>
<polygon points="493.7,188.0 497.1,190.3 497.1,210.4 493.7,208.1" fill="#30BDB0"/>
<polygon points="497.1,190.3 502.0,188.5 502.0,208.6 497.1,210.4" fill="#2CAEA2"/>
<polygon points="498.5,186.2 493.7,188.0 497.1,190.3 502.0,188.5" fill="#3CC1B5"/>
<polygon points="487.7,190.3 491.1,192.5 491.1,217.3 487.7,215.1" fill="#72C88A"/>
<polygon points="491.1,192.5 495.9,190.7 495.9,215.5 491.1,217.3" fill="#69B87F"/>
<polygon points="492.5,188.5 487.7,190.3 491.1,192.5 495.9,190.7" fill="#7ACB91"/>
<polygon points="481.7,192.5 485.1,194.7 485.1,224.2 481.7,222.0" fill="#BECA60"/>
<polygon points="485.1,194.7 489.9,192.9 489.9,222.4 485.1,224.2" fill="#AFBA58"/>
<polygon points="486.5,190.7 481.7,192.5 485.1,194.7 489.9,192.9" fill="#C2CD6A"/>
<polygon points="475.7,194.7 479.1,197.0 479.1,231.1 475.7,228.9" fill="#EEC04A"/>
<polygon points="479.1,197.0 483.9,195.2 483.9,229.3 479.1,231.1" fill="#DBB144"/>
<polygon points="480.5,192.9 475.7,194.7 479.1,197.0 483.9,195.2" fill="#EFC455"/>
<polygon points="469.7,197.0 473.1,199.2 473.1,238.0 469.7,235.8" fill="#FAD636"/>
<polygon points="473.1,199.2 477.9,197.4 477.9,236.2 473.1,238.0" fill="#E6C532"/>
<polygon points="474.5,195.2 469.7,197.0 473.1,199.2 477.9,197.4" fill="#FAD842"/>
<polygon points="522.0,181.8 525.5,184.1 525.5,185.5 522.0,183.3" fill="#3B25A6"/>
<polygon points="525.5,184.1 530.3,182.3 530.3,183.7 525.5,185.5" fill="#362299"/>
<polygon points="526.9,180.1 522.0,181.8 525.5,184.1 530.3,182.3" fill="#4732AB"/>
<polygon points="516.0,184.1 519.5,186.3 519.5,192.1 516.0,189.9" fill="#2A5CE6"/>
<polygon points="519.5,186.3 524.3,184.5 524.3,190.3 519.5,192.1" fill="#2755D4"/>
<polygon points="520.8,182.3 516.0,184.1 519.5,186.3 524.3,184.5" fill="#3766E8"/>
<polygon points="510.0,186.3 513.4,188.6 513.4,198.7 510.0,196.5" fill="#2A8AEA"/>
<polygon points="513.4,188.6 518.3,186.8 518.3,196.9 513.4,198.7" fill="#277FD7"/>
<polygon points="514.8,184.5 510.0,186.3 513.4,188.6 518.3,186.8" fill="#3791EB"/>
<polygon points="504.0,188.6 507.4,190.8 507.4,205.3 504.0,203.1" fill="#22A8DC"/>
<polygon points="507.4,190.8 512.2,189.0 512.2,203.5 507.4,205.3" fill="#1F9BCA"/>
<polygon points="508.8,186.8 504.0,188.6 507.4,190.8 512.2,189.0" fill="#2FADDE"/>
<polygon points="498.0,190.8 501.4,193.0 501.4,211.9 498.0,209.6" fill="#30BDB0"/>
<polygon points="501.4,193.0 506.2,191.2 506.2,210.1 501.4,211.9" fill="#2CAEA2"/>
<polygon points="502.8,189.0 498.0,190.8 501.4,193.0 506.2,191.2" fill="#3CC1B5"/>
<polygon points="492.0,193.0 495.4,195.3 495.4,218.5 492.0,216.2" fill="#72C88A"/>
<polygon points="495.4,195.3 500.2,193.5 500.2,216.7 495.4,218.5" fill="#69B87F"/>
<polygon points="496.8,191.3 492.0,193.0 495.4,195.3 500.2,193.5" fill="#7ACB91"/>
<polygon points="486.0,195.3 489.4,197.5 489.4,225.1 486.0,222.8" fill="#BECA60"/>
<polygon points="489.4,197.5 494.2,195.7 494.2,223.3 489.4,225.1" fill="#AFBA58"/>
<polygon points="490.8,193.5 486.0,195.3 489.4,197.5 494.2,195.7" fill="#C2CD6A"/>
<polygon points="480.0,197.5 483.4,199.8 483.4,231.7 480.0,229.4" fill="#EEC04A"/>
<polygon points="483.4,199.8 488.2,198.0 488.2,229.9 483.4,231.7" fill="#DBB144"/>
<polygon points="484.8,195.7 480.0,197.5 483.4,199.8 488.2,198.0" fill="#EFC455"/>
<polygon points="474.0,199.8 477.4,202.0 477.4,238.2 474.0,236.0" fill="#FAD636"/>
<polygon points="477.4,202.0 482.2,200.2 482.2,236.5 477.4,238.2" fill="#E6C532"/>
<polygon points="478.8,198.0 474.0,199.8 477.4,202.0 482.2,200.2" fill="#FAD842"/>
<polygon points="526.3,184.6 529.7,186.9 529.7,188.3 526.3,186.1" fill="#3B25A6"/>
<polygon points="529.7,186.9 534.5,185.1 534.5,186.5 529.7,188.3" fill="#362299"/>
<polygon points="531.1,182.8 526.3,184.6 529.7,186.9 534.5,185.1" fill="#4732AB"/>
<polygon points="520.3,186.9 523.7,189.1 523.7,193.7 520.3,191.5" fill="#2A5CE6"/>
<polygon points="523.7,189.1 528.5,187.3 528.5,192.0 523.7,193.7" fill="#2755D4"/>
<polygon points="525.1,185.1 520.3,186.9 523.7,189.1 528.5,187.3" fill="#3766E8"/>
<polygon points="514.3,189.1 517.7,191.3 517.7,199.2 514.3,197.0" fill="#2A8AEA"/>
<polygon points="517.7,191.3 522.5,189.6 522.5,197.4 517.7,199.2" fill="#277FD7"/>
<polygon points="519.1,187.3 514.3,189.1 517.7,191.3 522.5,189.6" fill="#3791EB"/>
<polygon points="508.3,191.4 511.7,193.6 511.7,204.6 508.3,202.4" fill="#22A8DC"/>
<polygon points="511.7,193.6 516.5,191.8 516.5,202.9 511.7,204.6" fill="#1F9BCA"/>
<polygon points="513.1,189.6 508.3,191.4 511.7,193.6 516.5,191.8" fill="#2FADDE"/>
<polygon points="502.3,193.6 505.7,195.8 505.7,210.1 502.3,207.9" fill="#30BDB0"/>
<polygon points="505.7,195.8 510.5,194.0 510.5,208.3 505.7,210.1" fill="#2CAEA2"/>
<polygon points="507.1,191.8 502.3,193.6 505.7,195.8 510.5,194.0" fill="#3CC1B5"/>
<polygon points="496.3,195.8 499.7,198.1 499.7,215.5 496.3,213.3" fill="#72C88A"/>
<polygon points="499.7,198.1 504.5,196.3 504.5,213.8 499.7,215.5" fill="#69B87F"/>
<polygon points="501.1,194.0 496.3,195.8 499.7,198.1 504.5,196.3" fill="#7ACB91"/>
<polygon points="490.3,198.1 493.7,200.3 493.7,221.0 490.3,218.8" fill="#BECA60"/>
<polygon points="493.7,200.3 498.5,198.5 498.5,219.2 493.7,221.0" fill="#AFBA58"/>
<polygon points="495.1,196.3 490.3,198.1 493.7,200.3 498.5,198.5" fill="#C2CD6A"/>
<polygon points="484.2,200.3 487.7,202.5 487.7,226.4 484.2,224.2" fill="#EEC04A"/>
<polygon points="487.7,202.5 492.5,200.8 492.5,224.7 487.7,226.4" fill="#DBB144"/>
<polygon points="489.1,198.5 484.2,200.3 487.7,202.5 492.5,200.8" fill="#EFC455"/>
<polygon points="478.2,202.6 481.7,204.8 481.7,231.9 478.2,229.7" fill="#FAD636"/>
<polygon points="481.7,204.8 486.5,203.0 486.5,230.1 481.7,231.9" fill="#E6C532"/>
<polygon points="483.0,200.8 478.2,202.6 481.7,204.8 486.5,203.0" fill="#FAD842"/>
</g>
<line x1="326.00" y1="36.01" x2="326.00" y2="173.00" stroke="#404040" stroke-width="0.75"/>
<line x1="326.00" y1="36.01" x2="322.23" y2="33.55" stroke="#404040" stroke-width="0.75"/>
<line x1="326.00" y1="70.26" x2="322.23" y2="67.80" stroke="#404040" stroke-width="0.75"/>
<line x1="326.00" y1="104.50" x2="322.23" y2="102.05" stroke="#404040" stroke-width="0.75"/>
<line x1="326.00" y1="138.75" x2="322.23" y2="136.29" stroke="#404040" stroke-width="0.75"/>
<line x1="326.00" y1="173.00" x2="322.23" y2="170.54" stroke="#404040" stroke-width="0.75"/>
<line x1="326.00" y1="173.00" x2="482.04" y2="274.76" stroke="#404040" stroke-width="0.75"/>
<line x1="326.00" y1="173.00" x2="321.78" y2="174.57" stroke="#404040" stroke-width="0.75"/>
<line x1="347.38" y1="186.94" x2="343.16" y2="188.51" stroke="#404040" stroke-width="0.75"/>
<line x1="368.75" y1="200.88" x2="364.53" y2="202.45" stroke="#404040" stroke-width="0.75"/>
<line x1="390.12" y1="214.82" x2="385.91" y2="216.39" stroke="#404040" stroke-width="0.75"/>
<line x1="411.50" y1="228.76" x2="407.28" y2="230.33" stroke="#404040" stroke-width="0.75"/>
<line x1="432.88" y1="242.70" x2="428.66" y2="244.27" stroke="#404040" stroke-width="0.75"/>
<line x1="454.25" y1="256.64" x2="450.03" y2="258.21" stroke="#404040" stroke-width="0.75"/>
<line x1="475.62" y1="270.58" x2="471.41" y2="272.15" stroke="#404040" stroke-width="0.75"/>
<line x1="534.62" y1="255.16" x2="482.04" y2="274.76" stroke="#404040" stroke-width="0.75"/>
<line x1="533.72" y1="255.50" x2="537.49" y2="257.96" stroke="#404040" stroke-width="0.75"/>
<line x1="527.71" y1="257.74" x2="531.48" y2="260.20" stroke="#404040" stroke-width="0.75"/>
<line x1="521.70" y1="259.98" x2="525.47" y2="262.44" stroke="#404040" stroke-width="0.75"/>
<line x1="515.69" y1="262.22" x2="519.46" y2="264.68" stroke="#404040" stroke-width="0.75"/>
<line x1="509.68" y1="264.46" x2="513.45" y2="266.92" stroke="#404040" stroke-width="0.75"/>
<line x1="503.67" y1="266.70" x2="507.44" y2="269.16" stroke="#404040" stroke-width="0.75"/>
<line x1="497.66" y1="268.94" x2="501.43" y2="271.40" stroke="#404040" stroke-width="0.75"/>
<line x1="491.65" y1="271.18" x2="495.42" y2="273.64" stroke="#404040" stroke-width="0.75"/>
<line x1="485.64" y1="273.42" x2="489.41" y2="275.88" stroke="#404040" stroke-width="0.75"/>
<g font-family="'Liberation Serif', serif" fill="#262626">
<text x="41.10" y="38.98" font-size="12.2" text-anchor="end">24</text>
<text x="318.00" y="174.30" font-size="12.2" text-anchor="end">24</text>
<text x="41.10" y="73.08" font-size="12.2" text-anchor="end">12</text>
<text x="318.00" y="140.05" font-size="12.2" text-anchor="end">12</text>
<text x="41.10" y="107.18" font-size="12.2" text-anchor="end">0</text>
<text x="318.00" y="105.80" font-size="12.2" text-anchor="end">0</text>
<text x="41.10" y="141.29" font-size="12.2" text-anchor="end">−12</text>
<text x="318.00" y="71.56" font-size="12.2" text-anchor="end">−12</text>
<text x="41.10" y="175.39" font-size="12.2" text-anchor="end">−24</text>
<text x="318.00" y="37.31" font-size="12.2" text-anchor="end">−24</text>
<text x="196.10" y="292.00" font-size="12.2" text-anchor="end">0</text>
<text x="316.50" y="188.40" font-size="12.2" text-anchor="end">0</text>
<text x="174.73" y="278.04" font-size="12.2" text-anchor="end">5</text>
<text x="337.88" y="202.34" font-size="12.2" text-anchor="end">5</text>
<text x="153.36" y="264.08" font-size="12.2" text-anchor="end">10</text>
<text x="359.25" y="216.28" font-size="12.2" text-anchor="end">10</text>
<text x="131.99" y="250.12" font-size="12.2" text-anchor="end">15</text>
<text x="380.62" y="230.22" font-size="12.2" text-anchor="end">15</text>
<text x="110.62" y="236.16" font-size="12.2" text-anchor="end">20</text>
<text x="402.00" y="244.16" font-size="12.2" text-anchor="end">20</text>
<text x="89.25" y="222.20" font-size="12.2" text-anchor="end">25</text>
<text x="423.38" y="258.10" font-size="12.2" text-anchor="end">25</text>
<text x="67.88" y="208.24" font-size="12.2" text-anchor="end">30</text>
<text x="444.75" y="272.04" font-size="12.2" text-anchor="end">30</text>
<text x="46.51" y="194.28" font-size="12.2" text-anchor="end">35</text>
<text x="466.12" y="285.98" font-size="12.2" text-anchor="end">35</text>
<text x="66.40" y="250.00" font-size="13.4" text-anchor="start">Bus shfit</text>
<text x="337.00" y="243.60" font-size="13.4" text-anchor="start">Bus shfit</text>
<text x="199.80" y="300.20" font-size="13.4" text-anchor="start">Bus stastion</text>
<text x="475.10" y="298.60" font-size="13.4" text-anchor="start">Bus stastion</text>
<text font-size="12.0" transform="translate(218.80,292.30) rotate(-21.00)">123456789</text>
<text font-size="12.3" transform="translate(493.20,290.20) rotate(-20.50)">987654321</text>
<text font-size="13.8" text-anchor="middle" transform="translate(17.00,106.20) rotate(-90)">Station timetable adjustment/minute</text>
<text font-size="13.8" text-anchor="middle" transform="translate(296.80,104.70) rotate(-90)">Station timetable adjustment/minute</text>
</g>
</svg>
</body></html>
